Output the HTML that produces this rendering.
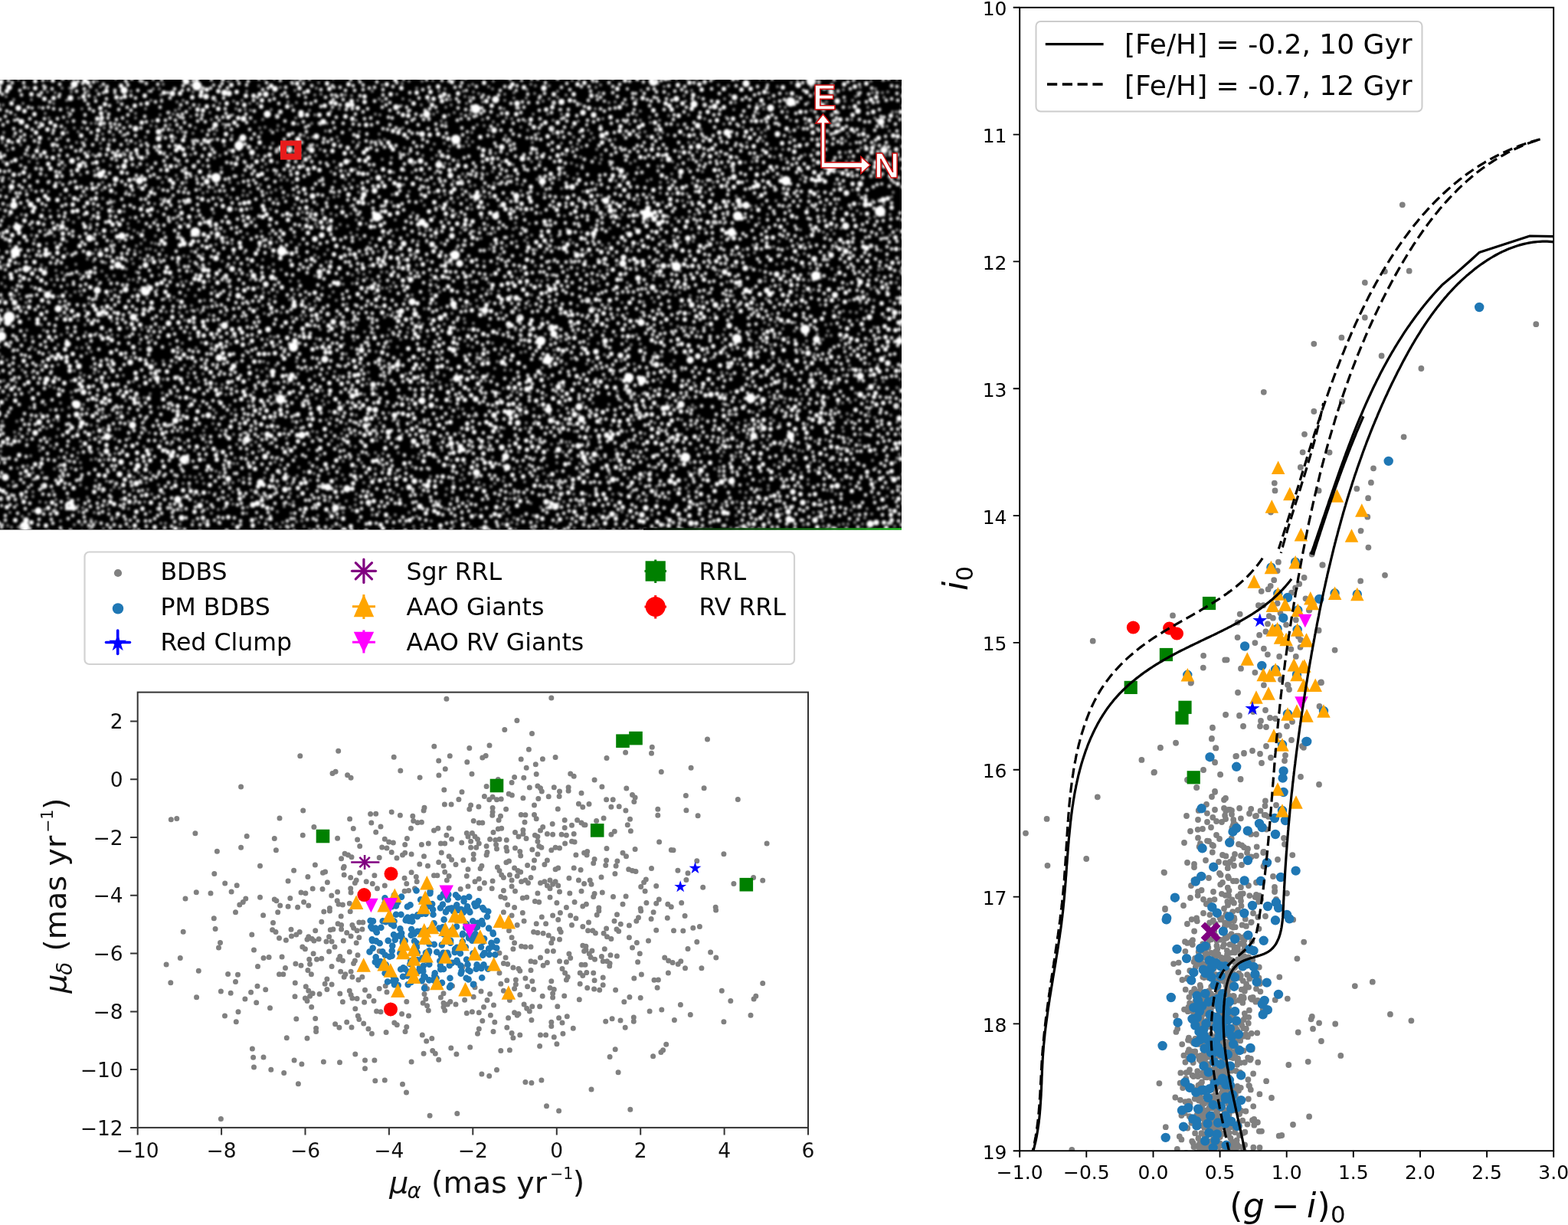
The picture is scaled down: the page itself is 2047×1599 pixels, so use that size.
<!DOCTYPE html>
<html><head><meta charset="utf-8"><title>figure</title>
<style>html,body{margin:0;padding:0;background:#fff;overflow:hidden}svg{display:block}</style>
</head><body>
<svg width="2047" height="1599" viewBox="0 0 2047 1599" font-family="DejaVu Sans, Liberation Sans, sans-serif">
<defs><filter id="sb" x="-2%" y="-2%" width="104%" height="104%"><feGaussianBlur stdDeviation="1.4"/></filter><clipPath id="sfc"><rect x="0" y="104" width="1177" height="587.5"/></clipPath></defs>
<rect x="0" y="104" width="1177" height="587.5" fill="#000"/>
<g clip-path="url(#sfc)" filter="url(#sb)" stroke-linecap="round" fill="none">
<path stroke="#8c8c8c" stroke-width="3.8" d="M266 631h0M940 602h0M291 162h0M1120 121h0M786 320h0M865 264h0M94 519h0M312 627h0M962 177h0M105 627h0M705 211h0M709 132h0M1100 558h0M583 638h0M301 381h0M78 238h0M519 453h0M255 167h0M558 340h0M248 500h0M583 503h0M208 339h0M98 381h0M93 497h0M367 352h0M323 662h0M66 582h0M281 380h0M920 299h0M650 654h0M1138 671h0M833 219h0M790 280h0M1022 344h0M1017 468h0M708 480h0M63 250h0M107 454h0M501 471h0M193 639h0M609 135h0M207 245h0M1156 203h0M893 163h0M726 643h0M133 272h0M633 411h0M356 187h0M435 381h0M514 643h0M166 159h0M238 172h0M50 192h0M252 680h0M34 395h0M754 227h0M40 595h0M502 230h0M259 498h0M470 218h0M710 534h0M439 625h0M176 378h0M260 137h0M250 354h0M1018 553h0M10 268h0M970 326h0M736 655h0M637 305h0M883 325h0M537 551h0M536 508h0M888 303h0M90 532h0M324 346h0M571 597h0M875 458h0M1123 567h0M76 549h0M198 444h0M191 325h0M1018 372h0M64 181h0M499 132h0M413 115h0M38 416h0M533 201h0M485 233h0M975 571h0M249 481h0M150 378h0M778 114h0M436 211h0M203 308h0M564 487h0M427 678h0M206 276h0M453 397h0M449 449h0M804 438h0M1117 126h0M628 311h0M785 208h0M190 562h0M468 594h0M659 450h0M712 436h0M174 365h0M675 240h0M140 659h0M296 255h0M91 115h0M842 617h0M729 579h0M359 515h0M665 669h0M538 225h0M418 594h0M551 685h0M859 175h0M862 238h0M962 401h0M1143 611h0M1086 482h0M326 135h0M280 363h0M1139 601h0M299 196h0M682 362h0M544 655h0M749 555h0M784 691h0M981 650h0M673 431h0M3 186h0M196 514h0M487 331h0M69 641h0M461 235h0M290 341h0M1059 144h0M770 647h0M518 300h0M305 567h0M1018 603h0M848 335h0M354 143h0M725 590h0M486 311h0M887 606h0M361 557h0M703 174h0M71 308h0M126 118h0M202 266h0M1103 132h0M1055 632h0M660 177h0M361 684h0M782 373h0M349 443h0M1111 666h0M-1 462h0M177 154h0M828 234h0M395 417h0M282 615h0M740 676h0M404 691h0M978 663h0M739 577h0M459 454h0M366 607h0M612 190h0M888 354h0M665 575h0M1055 655h0M513 691h0M261 619h0M360 477h0M643 448h0M43 626h0M989 219h0M1035 566h0M229 144h0M539 278h0M87 349h0M741 635h0M1175 495h0M379 644h0M526 129h0M188 550h0M1036 608h0M702 253h0M741 596h0M304 220h0M149 360h0M619 479h0M910 393h0M430 387h0M274 191h0M241 578h0M97 167h0M447 620h0M131 326h0M1095 391h0M851 389h0M197 164h0M1124 193h0M713 516h0M680 353h0M832 578h0M652 269h0M671 612h0M992 353h0M167 292h0M827 548h0M560 132h0M1074 443h0M468 680h0M59 300h0M192 389h0M-2 336h0M894 438h0M789 432h0M395 212h0M1055 134h0M302 440h0M621 219h0M179 218h0M1050 331h0M407 161h0M1146 476h0M814 298h0M982 377h0M247 636h0M285 665h0M878 693h0M446 580h0M437 237h0M57 431h0M814 321h0M962 682h0M898 264h0M1128 169h0M857 635h0M73 652h0M637 468h0M102 562h0M132 194h0M1076 127h0M1107 307h0M524 463h0M448 602h0M637 488h0M513 308h0M24 104h0M51 582h0M562 622h0M496 552h0M1015 521h0M407 274h0M20 150h0M649 472h0M840 596h0M248 435h0M439 414h0M730 234h0M1152 304h0M1025 140h0M1069 668h0M784 111h0M357 549h0M1028 292h0M904 529h0M129 570h0M1085 300h0M580 187h0M508 539h0M1159 637h0M351 349h0M35 574h0M785 255h0M899 150h0M430 654h0M39 532h0M574 381h0M252 120h0M901 604h0M687 650h0M727 604h0M1002 280h0M10 404h0M1076 204h0M1080 306h0M956 298h0M843 587h0M740 299h0M287 636h0M503 496h0M411 491h0M411 393h0M614 243h0M465 542h0M249 111h0M491 459h0M305 204h0M457 210h0M446 363h0M329 206h0M681 674h0M1014 425h0M871 526h0M572 365h0M1152 351h0M733 246h0M995 267h0M126 365h0M457 599h0M323 255h0M234 142h0M1131 406h0M1154 127h0M607 380h0M646 631h0M944 527h0M13 669h0M651 380h0M595 680h0M991 291h0M694 211h0M921 251h0M85 325h0M492 515h0M177 148h0M771 419h0M87 591h0M551 106h0M160 177h0M183 456h0M496 150h0M70 196h0M495 175h0M113 449h0M747 166h0M1047 637h0M632 164h0M1053 102h0M12 281h0M74 570h0M1049 450h0M187 301h0M4 137h0M204 287h0M532 362h0M248 341h0M289 507h0M458 269h0M203 318h0M185 189h0M425 171h0M1013 262h0M673 691h0M907 611h0M335 193h0M617 110h0M903 118h0M20 266h0M1021 671h0M865 428h0M386 558h0M276 670h0M7 374h0M427 487h0M1091 359h0M115 119h0M569 396h0M100 454h0M1081 519h0M581 116h0M1093 500h0M931 659h0M631 392h0M1030 405h0M267 392h0M123 487h0M208 359h0M527 685h0M427 203h0M1058 604h0M93 512h0M249 152h0M877 234h0M1112 542h0M951 112h0M104 358h0M734 529h0M769 348h0M576 158h0M961 663h0M1049 685h0M22 550h0M630 363h0M395 299h0M870 560h0M168 664h0M858 620h0M70 135h0M1027 691h0M230 229h0M265 332h0M158 652h0M609 261h0M1037 690h0M903 299h0M225 429h0M235 684h0M563 384h0M992 628h0M658 559h0M947 635h0M1043 588h0M188 519h0M499 208h0M171 466h0M281 395h0M365 228h0M1129 676h0M671 676h0M380 670h0M399 389h0M146 437h0M970 166h0M876 423h0M828 475h0M178 321h0M671 121h0M271 664h0M524 138h0M710 618h0M779 433h0M1138 531h0M340 241h0M182 379h0M919 657h0M53 540h0M920 276h0M107 186h0M849 160h0M381 632h0M836 449h0M196 325h0M772 364h0M361 260h0M325 495h0M492 575h0M1104 184h0M115 534h0M171 119h0M564 207h0M535 131h0M174 640h0M387 519h0M634 497h0M659 123h0M303 318h0M768 576h0M388 621h0M744 313h0M77 300h0M458 279h0M289 219h0M135 559h0M87 315h0M614 688h0M644 178h0M990 258h0M859 217h0M668 230h0M1172 363h0M526 167h0M460 666h0M323 305h0M829 298h0M516 287h0M117 574h0M1137 377h0M86 192h0M550 137h0M57 380h0M293 190h0M657 670h0M694 385h0M1132 524h0M790 494h0M659 483h0M43 326h0M928 468h0M143 542h0M486 672h0M82 220h0M602 149h0M569 310h0M198 645h0M301 449h0M690 393h0M722 174h0M381 414h0M376 255h0M376 500h0M601 627h0M352 579h0M563 195h0M458 304h0M770 502h0M793 352h0M185 558h0M1095 414h0M928 690h0M1154 281h0M859 572h0M541 353h0M256 230h0M1098 692h0M882 219h0M1171 598h0M293 302h0M1078 594h0M213 110h0M858 654h0M855 461h0M729 536h0M992 103h0M142 365h0M253 646h0M138 343h0M1049 348h0M369 682h0M41 453h0M945 162h0M337 203h0M589 496h0M362 381h0M53 477h0M395 285h0M639 325h0M1062 378h0M954 308h0M900 283h0M818 563h0M293 544h0M872 238h0M1000 347h0M190 179h0M215 390h0M1050 467h0M1101 585h0M411 150h0M617 533h0M1144 307h0M251 562h0M196 617h0M1110 632h0M239 131h0M352 323h0M1132 508h0M1163 542h0M759 303h0M779 195h0M464 221h0M457 169h0M893 125h0M367 529h0M1042 611h0M1027 122h0M754 399h0M812 395h0M80 437h0M757 616h0M419 123h0M701 234h0M571 488h0M802 600h0M759 192h0M750 563h0M904 239h0M506 438h0M1040 386h0M241 477h0M1053 445h0M169 572h0M88 412h0M794 418h0M308 273h0M491 557h0M961 673h0M771 570h0M1091 645h0M435 103h0M207 532h0M917 224h0M16 376h0M885 215h0M309 580h0M1053 579h0M-1 232h0M870 326h0M448 371h0M680 249h0M1056 317h0M666 184h0M465 645h0M76 560h0M1093 590h0M925 508h0M59 528h0M119 459h0M228 206h0M1117 513h0M674 297h0M125 627h0M1082 387h0M130 305h0M1027 471h0M136 167h0M29 483h0M454 421h0M1133 140h0M1090 124h0M686 459h0M282 311h0M770 183h0M1072 494h0M605 191h0M1175 354h0M126 300h0M308 142h0M939 353h0M1109 477h0M939 204h0M789 667h0M1129 566h0M258 404h0M1006 531h0M1118 408h0M625 122h0M1003 639h0M377 622h0M79 680h0M64 154h0M1003 121h0M706 662h0M43 642h0M1037 432h0M103 668h0M716 621h0M344 382h0M762 353h0M424 332h0M683 279h0M301 258h0M614 397h0M76 275h0M1045 400h0M751 661h0M363 597h0M261 530h0M613 127h0M871 693h0M954 512h0M1028 324h0M276 285h0M45 313h0M638 113h0M653 332h0M609 400h0M404 144h0M373 102h0M588 130h0M111 424h0M539 215h0M803 133h0M100 186h0M1013 194h0M678 405h0M1174 593h0M955 553h0M481 594h0M608 339h0M680 460h0M386 191h0M360 227h0M942 309h0M1163 623h0M1121 254h0M611 180h0M240 334h0M804 587h0M25 344h0M255 386h0M244 407h0M1092 266h0M717 112h0M213 495h0M256 454h0M198 587h0M72 121h0M957 386h0M249 289h0M88 141h0M278 245h0M1113 586h0M88 173h0M189 655h0M460 359h0M877 294h0M1074 680h0M528 517h0M33 622h0M353 170h0M76 609h0M1165 479h0M1064 614h0M824 589h0M74 360h0M754 350h0M1016 441h0M630 133h0M1000 390h0M479 501h0M1166 251h0M534 527h0M1121 497h0M382 550h0M1109 392h0M632 341h0M440 179h0M514 225h0M450 626h0M1004 424h0M954 489h0M1150 327h0M432 564h0M669 511h0M699 112h0M412 292h0M534 669h0M693 657h0M783 354h0M482 635h0M566 149h0M237 666h0M338 589h0M1106 371h0M953 124h0M328 581h0M837 572h0M598 455h0M1091 317h0M350 474h0M924 383h0M652 693h0M647 200h0M170 284h0M246 487h0M146 302h0M570 203h0M1147 352h0M747 192h0M327 365h0M90 152h0M920 591h0M297 420h0M18 130h0M798 555h0M346 166h0M68 336h0M574 463h0M437 485h0M270 655h0M809 690h0M1158 648h0M1080 640h0M409 322h0M-2 487h0M490 149h0M686 158h0M861 157h0M606 416h0M107 142h0M677 648h0M212 238h0M287 617h0M504 530h0M105 633h0M598 258h0M421 510h0M177 187h0M924 315h0M421 376h0M779 241h0M455 468h0M119 555h0M73 353h0M573 119h0M81 115h0M894 398h0M570 531h0M390 610h0M766 583h0M469 172h0M243 238h0M282 319h0M451 223h0M352 391h0M370 258h0M414 190h0M784 599h0M1141 427h0M620 624h0M241 622h0M175 255h0M129 485h0M525 638h0M207 633h0M977 289h0M1008 410h0M939 610h0M71 506h0M1010 231h0M23 611h0M452 462h0M265 216h0M289 649h0M791 324h0M40 548h0M282 539h0M387 681h0M327 251h0M442 572h0M553 390h0M584 263h0M58 665h0M496 605h0M1077 615h0M117 692h0M243 172h0M701 681h0M502 414h0M612 430h0M669 308h0M697 534h0M421 523h0M644 159h0M501 540h0M674 253h0M1176 325h0M389 378h0M514 369h0M48 207h0M1126 349h0M491 570h0M862 373h0M465 193h0M1018 139h0M719 308h0M870 676h0M106 385h0M256 283h0M699 550h0M757 605h0M41 130h0M611 654h0M274 147h0M395 277h0M43 617h0M251 183h0M455 428h0M423 420h0M465 157h0M675 684h0M507 453h0M945 590h0M781 685h0M87 601h0M443 142h0M884 139h0M922 691h0M648 532h0M1123 395h0M726 399h0M374 572h0M182 504h0M538 583h0M235 244h0M567 240h0M846 288h0M840 394h0M194 119h0M321 458h0M1119 275h0M675 363h0M739 475h0M225 170h0M1010 322h0M862 252h0M278 553h0M932 326h0M659 131h0M1142 469h0M910 181h0M1070 357h0M735 219h0M237 368h0M1021 588h0M988 572h0M65 275h0M616 173h0M119 479h0M685 629h0M829 210h0M127 106h0M585 197h0M238 448h0M136 600h0M90 240h0M372 560h0M1048 589h0M590 544h0M554 227h0M499 111h0M189 313h0M745 339h0M367 235h0M134 539h0M514 531h0M998 421h0M464 652h0M1065 500h0M906 500h0M239 649h0M1155 465h0M162 611h0M652 462h0M944 554h0M664 662h0M2 370h0M1112 656h0M37 115h0M696 149h0M489 383h0M452 553h0M310 605h0M1101 563h0M670 452h0M658 623h0M123 669h0M909 292h0M156 560h0M973 212h0M822 162h0M609 299h0M439 281h0M999 367h0M714 318h0M671 644h0M260 349h0M528 193h0M933 612h0M71 372h0M79 526h0M703 529h0M72 317h0M126 435h0M1011 133h0M305 132h0M429 618h0M146 675h0M565 105h0M500 592h0M818 691h0M522 199h0M769 658h0M36 566h0M181 289h0M35 431h0M324 524h0M128 586h0M727 682h0M1089 496h0M700 326h0M82 400h0M956 456h0M839 514h0M210 683h0M999 362h0M81 356h0M255 655h0M627 636h0M371 231h0M544 533h0M231 133h0M433 575h0M1095 685h0M686 559h0M837 407h0M675 512h0M390 367h0M508 430h0M1166 650h0M750 689h0M436 257h0M133 248h0M52 588h0M273 367h0M1142 375h0M709 686h0M398 200h0M460 370h0M427 291h0M238 564h0M59 286h0M800 334h0M951 537h0M865 173h0M1169 210h0M774 526h0M386 596h0M54 346h0M1006 580h0M768 170h0M960 333h0M961 348h0M229 180h0M623 400h0M982 211h0M932 487h0M386 154h0M342 218h0M230 284h0M548 636h0M853 365h0M685 314h0M723 545h0M985 330h0M898 317h0M1047 521h0M887 382h0M1178 114h0M1119 418h0M1078 574h0M1124 403h0M249 520h0M728 127h0M580 490h0M366 114h0M210 260h0M1099 626h0M636 227h0M936 507h0M439 219h0M350 233h0M643 116h0M577 588h0M872 176h0M265 488h0M246 335h0M568 226h0M742 101h0M124 127h0M687 372h0M28 206h0M859 495h0M322 507h0M483 355h0M199 158h0M547 299h0M331 512h0M28 280h0M1116 104h0M711 329h0M358 525h0M899 616h0M1070 602h0M546 315h0M831 150h0M304 658h0M9 470h0M264 653h0M609 185h0M428 259h0M564 500h0M657 628h0M296 367h0M465 287h0M329 649h0M796 298h0M49 213h0M915 209h0M60 350h0M614 149h0M334 677h0M228 572h0M131 187h0M729 179h0M582 646h0M890 483h0M145 380h0M1004 128h0M281 644h0M1098 444h0M586 150h0M1091 297h0M773 273h0M746 468h0M1020 208h0M1153 498h0M1056 366h0M210 504h0M370 169h0M1155 414h0M949 368h0M1123 114h0M943 447h0M345 409h0M1117 522h0M539 596h0M689 170h0M28 650h0M879 308h0M951 406h0M39 335h0M19 564h0M283 170h0M586 607h0M52 655h0M725 323h0M1101 490h0M754 188h0M662 678h0M142 493h0M795 318h0M818 304h0M1088 140h0M213 471h0M912 127h0M1098 272h0M91 449h0M863 381h0M1078 672h0M1005 518h0M1040 126h0M151 560h0M946 430h0M265 252h0M302 652h0M345 192h0M609 348h0M836 157h0M529 660h0M25 384h0M465 424h0M836 145h0M804 236h0M461 185h0M434 687h0M942 317h0M943 393h0M780 482h0M749 645h0M494 328h0M77 597h0M421 279h0M850 234h0M5 244h0M488 435h0M103 284h0M300 529h0M109 528h0M1049 380h0M601 304h0M978 554h0M617 185h0M262 408h0M16 417h0M686 532h0M130 591h0M623 493h0M233 346h0M561 521h0M491 507h0M649 344h0M832 651h0M554 268h0M113 461h0M302 540h0M1085 438h0M317 255h0M964 552h0M723 457h0M183 329h0M641 359h0M467 364h0M1126 315h0M1075 687h0M271 583h0M334 577h0M1161 171h0M322 418h0M963 206h0M273 411h0M397 177h0M362 212h0M878 601h0M1122 575h0M35 491h0M319 330h0M81 535h0M899 633h0M211 177h0M307 535h0M715 149h0M1052 161h0M111 405h0M1041 318h0M450 561h0M1006 450h0M1165 403h0M358 372h0M196 668h0M960 376h0M620 507h0M304 642h0M1169 603h0M384 384h0M368 202h0M459 125h0M607 421h0M777 206h0M554 403h0M604 227h0M335 483h0M241 418h0M88 159h0M637 379h0M525 109h0M1107 548h0M527 241h0M1054 554h0M812 668h0M169 688h0M994 203h0M1106 174h0M945 292h0M820 624h0M318 565h0M102 591h0M541 338h0M891 262h0M546 598h0M961 256h0M126 539h0M1075 282h0M768 449h0M910 559h0M593 147h0M41 178h0M611 451h0M898 220h0M327 144h0M962 655h0M1171 506h0M292 664h0M563 680h0M1011 607h0M505 355h0M997 625h0M1050 373h0M987 434h0M456 240h0M609 591h0M413 442h0M266 682h0M806 411h0M475 630h0M905 315h0M385 103h0M552 423h0M134 259h0M789 463h0M1059 114h0M308 504h0M356 334h0M973 650h0M343 339h0M603 247h0M1022 252h0M12 233h0M328 466h0M804 494h0M1082 329h0M0 595h0M791 181h0M223 201h0M473 285h0M141 449h0M442 184h0M670 299h0M1107 684h0M1067 675h0M38 671h0M650 151h0M975 153h0M316 202h0M184 318h0M596 488h0M105 487h0M906 186h0M1086 351h0M343 399h0M462 444h0M1159 120h0M305 331h0M819 369h0M149 636h0M734 553h0M464 568h0M148 176h0M163 360h0M403 587h0M203 475h0M131 113h0M88 331h0M105 576h0M720 580h0M234 408h0M426 548h0M1003 677h0M454 295h0M887 198h0M661 154h0M509 676h0M452 654h0M842 172h0M1124 279h0M1108 579h0M356 123h0M125 599h0M520 646h0M290 502h0M415 673h0M638 425h0M336 346h0M1022 195h0M494 546h0M85 360h0M917 394h0M237 457h0M877 529h0M137 510h0M139 434h0M385 267h0M511 206h0M97 484h0M402 180h0M582 140h0M1142 545h0M362 450h0M5 283h0M152 676h0M102 660h0M718 541h0M1028 146h0M250 405h0M897 560h0M580 572h0M711 253h0M1040 378h0M966 687h0M587 191h0M285 258h0M657 608h0M955 566h0M287 424h0M307 598h0M441 676h0M897 253h0M951 529h0M61 318h0M605 429h0M980 269h0M980 349h0M222 163h0M249 202h0M618 120h0M947 218h0M165 351h0M728 119h0M97 685h0M501 612h0M432 341h0M210 124h0M881 639h0M1 248h0M574 654h0M117 299h0M209 150h0M833 266h0M700 574h0M779 586h0M325 449h0M1042 333h0M211 130h0M376 594h0M76 476h0M637 267h0M1006 374h0M1130 484h0M876 613h0M209 232h0M175 301h0M77 209h0M666 651h0M743 622h0M746 213h0M181 244h0M522 613h0M708 243h0M142 665h0M857 640h0M966 642h0M895 427h0M211 416h0M772 396h0M149 263h0M628 665h0M1171 300h0M1101 323h0M662 259h0M735 590h0M364 634h0M1017 530h0M60 656h0M1143 101h0M243 367h0M418 430h0M999 178h0M869 517h0M567 188h0M336 439h0M1037 586h0M280 206h0M547 593h0M1068 250h0M599 186h0M223 259h0M973 464h0M490 612h0M349 651h0M354 251h0M363 164h0M207 349h0M182 437h0M309 473h0M513 408h0M658 142h0M619 302h0M749 179h0M1012 420h0M318 624h0M1175 566h0M154 438h0M736 504h0M516 672h0M655 211h0M1085 423h0M178 355h0M175 657h0M910 198h0M845 236h0M246 378h0M557 316h0M946 129h0M601 608h0M893 592h0M967 446h0M1126 684h0M89 147h0M662 201h0M468 693h0M956 541h0M312 183h0M303 177h0M933 410h0M161 167h0M985 391h0M613 253h0M1177 534h0M993 138h0M960 134h0M478 292h0M296 310h0M298 106h0M328 640h0M1132 664h0M891 284h0M294 167h0M393 203h0M378 391h0M592 236h0M948 461h0M639 394h0M996 184h0M549 433h0M214 304h0M62 120h0M715 587h0M994 173h0M842 566h0M927 415h0M693 110h0M465 609h0M1122 266h0M722 414h0M720 627h0M232 172h0M960 596h0M380 316h0M354 311h0M343 454h0M1117 553h0M559 506h0M1014 391h0M843 353h0M532 307h0M589 137h0M922 423h0M720 359h0M279 278h0M271 401h0M561 379h0M1116 682h0M971 257h0M1142 154h0M763 271h0M282 501h0M780 367h0M819 409h0M594 103h0M661 321h0M974 390h0M1025 520h0M343 377h0M855 552h0M435 657h0M1139 121h0M595 279h0M746 350h0M1168 687h0M144 216h0M146 569h0M572 579h0M432 546h0M831 130h0M695 186h0M484 187h0M559 439h0M596 324h0M587 532h0M489 625h0M612 112h0M550 646h0M971 489h0M174 498h0M414 610h0M762 658h0M266 562h0M640 257h0M988 136h0M10 686h0M85 216h0M7 352h0M467 299h0M278 182h0M1062 196h0M443 611h0M729 657h0M599 283h0M895 132h0M375 631h0M581 664h0M255 623h0M882 285h0M809 285h0M408 563h0M909 586h0M1081 432h0M21 499h0M1023 404h0M125 681h0M150 573h0M190 142h0M864 209h0M516 618h0M373 517h0M1112 156h0M1009 467h0M349 222h0M167 188h0M348 678h0M105 228h0M1055 478h0M280 175h0M708 611h0M705 572h0M235 575h0M390 335h0M544 346h0M637 294h0M974 643h0M1135 285h0M772 333h0M1108 205h0M979 504h0M127 556h0M1141 392h0M51 140h0M393 549h0M29 674h0M956 408h0M389 488h0M227 388h0M571 146h0M387 134h0M819 673h0M296 348h0M383 255h0M41 374h0M818 488h0M556 301h0M899 642h0M1094 527h0M79 412h0M385 118h0M818 137h0M739 124h0M706 401h0M439 556h0M200 116h0M732 445h0M603 620h0M72 665h0M182 448h0M1102 454h0M108 663h0M976 632h0M1029 441h0M30 135h0M715 365h0M819 227h0M1142 501h0M317 229h0M996 297h0M1024 507h0M1165 146h0M447 270h0M673 354h0M65 504h0M1139 262h0M576 317h0M574 257h0M1015 113h0M775 180h0M1062 669h0M598 431h0M547 102h0M1006 546h0M995 430h0M321 694h0M490 591h0M261 247h0M448 243h0M382 238h0M439 426h0M271 250h0M607 605h0M116 396h0M1022 429h0M217 231h0M1025 495h0M482 347h0M616 273h0M375 235h0M541 331h0M167 539h0M604 534h0M630 377h0M532 434h0M670 215h0M614 588h0M873 283h0M432 224h0M304 684h0M929 635h0M1055 626h0M646 303h0M276 156h0M915 169h0M-3 514h0M144 261h0M682 241h0M8 126h0M527 339h0M949 487h0M694 307h0M732 473h0M444 686h0M1170 184h0M584 416h0M229 275h0M714 455h0M745 175h0M475 478h0M930 430h0M473 333h0M1180 590h0M567 251h0M225 362h0M66 535h0M338 682h0M254 570h0M421 646h0M199 246h0M859 109h0M981 274h0M1137 209h0M412 203h0M667 483h0M56 274h0M824 450h0M1026 207h0M912 304h0M907 617h0M794 398h0M590 409h0M495 183h0M371 661h0M1086 325h0M702 622h0M423 528h0M917 481h0M580 423h0M830 588h0M182 570h0M55 617h0M27 189h0M102 652h0M21 443h0M845 178h0M27 390h0M1045 234h0M569 372h0M994 527h0M1101 406h0M112 255h0M898 463h0M325 532h0M517 573h0M560 416h0M1110 407h0M581 339h0M24 688h0M668 155h0M341 302h0M92 386h0M499 376h0M102 172h0M132 341h0M800 645h0M17 629h0M999 170h0M22 284h0M629 284h0M1159 222h0M498 355h0M931 238h0M166 428h0M607 484h0M914 621h0M320 143h0M861 309h0M122 273h0M552 203h0M119 678h0M1104 613h0M774 472h0M46 456h0M1024 525h0M200 504h0M699 347h0M629 226h0M59 148h0M875 384h0M1135 475h0M848 254h0M389 648h0M413 520h0M405 627h0M287 135h0M689 317h0M208 116h0M1116 672h0M457 582h0M719 443h0M1126 691h0M13 250h0M267 600h0M1007 455h0M932 244h0M886 519h0M1093 606h0M729 308h0M139 360h0M241 588h0M139 628h0M367 408h0M520 591h0M129 649h0M138 145h0M1135 543h0M466 307h0M199 471h0M750 329h0M164 523h0M263 447h0M766 475h0M106 611h0M468 356h0M991 285h0M361 316h0M907 280h0M1064 576h0M1111 272h0M587 214h0M797 601h0M1065 242h0M424 517h0M1078 424h0M761 526h0M250 328h0M692 399h0M353 687h0M323 359h0M618 543h0M760 216h0M877 227h0M921 662h0M414 267h0M1108 178h0M781 448h0M1032 179h0M423 448h0M389 162h0M-3 476h0M1095 349h0M590 502h0M273 344h0M230 517h0M343 156h0M679 616h0M294 411h0M683 216h0M787 155h0M282 132h0M747 105h0M442 540h0M1010 549h0M29 295h0M1022 475h0M185 430h0M302 103h0M482 495h0M510 374h0M15 688h0M38 512h0M483 623h0M26 227h0M1049 181h0M254 588h0M708 416h0M449 529h0M448 428h0M274 224h0M680 166h0M911 637h0M651 563h0M534 106h0M1055 694h0M534 250h0M42 298h0M475 358h0M734 257h0M581 213h0M717 129h0M836 692h0M801 310h0M623 486h0M663 458h0M847 348h0M161 199h0M411 449h0M125 326h0M1137 106h0M1164 257h0M345 262h0M890 548h0M349 491h0M1109 140h0M1143 116h0M1089 491h0M195 565h0M893 176h0M122 564h0M486 119h0M205 378h0M491 224h0M362 668h0M198 317h0M696 673h0M89 650h0M235 361h0M1083 364h0M726 628h0M137 392h0M1142 283h0M674 315h0M761 250h0M1143 629h0M767 623h0M226 149h0M698 598h0M426 342h0M901 386h0M1067 513h0M71 585h0M1041 567h0M890 567h0M1031 172h0M87 131h0M733 149h0M414 324h0M497 571h0M1107 572h0M967 596h0M353 273h0M977 333h0M842 454h0M1162 280h0M279 535h0M385 309h0M18 178h0M382 272h0M1180 612h0M900 409h0M156 315h0M187 268h0M1024 422h0M88 434h0M5 102h0M62 104h0M581 254h0M1054 272h0M618 629h0M481 266h0M837 118h0M811 471h0M900 519h0M823 213h0M54 424h0M781 595h0M522 694h0M944 571h0M644 492h0M317 310h0M135 210h0M598 313h0M509 380h0M106 583h0M432 279h0M306 343h0M768 694h0M353 439h0M144 335h0M252 174h0M510 445h0M654 408h0M212 326h0M677 590h0M1108 483h0M13 321h0M878 253h0M96 290h0M119 600h0M145 640h0M146 419h0M863 499h0M1077 268h0M824 328h0M1048 229h0M208 427h0M723 271h0M383 655h0M1113 131h0M751 435h0M590 345h0M546 468h0M592 264h0M525 567h0M598 533h0M42 486h0M166 341h0M308 357h0M630 245h0M706 278h0M1075 303h0M358 440h0M582 160h0M476 433h0M216 683h0M901 428h0M835 173h0M85 168h0M1014 345h0M1046 617h0M179 411h0M1102 636h0M232 234h0M538 609h0M269 557h0M518 327h0M334 559h0M943 658h0M230 473h0M346 617h0M135 690h0M948 153h0M598 210h0M483 426h0M416 108h0M592 396h0M1136 359h0M590 651h0M337 375h0M129 371h0M772 174h0M172 338h0M609 646h0M966 524h0M119 161h0M284 589h0M830 349h0M618 422h0M147 628h0M5 173h0M467 131h0M854 394h0M188 583h0M737 282h0M1107 606h0M888 316h0M495 129h0M1162 307h0M829 484h0M746 599h0M988 398h0M638 577h0M332 286h0M304 630h0M895 626h0M873 651h0M428 326h0M1004 694h0M1020 230h0M79 254h0M1028 270h0M148 276h0M239 631h0M544 674h0M641 635h0M469 186h0M679 609h0M908 689h0M34 249h0M1098 544h0M359 387h0M544 115h0M870 368h0M416 336h0M468 251h0M620 242h0M852 610h0M975 606h0M3 390h0M429 525h0M533 428h0M1074 506h0M244 536h0M975 236h0M785 202h0M122 331h0M345 624h0M404 570h0M1102 417h0M150 592h0M1102 244h0M805 672h0M112 434h0M1175 439h0M1018 619h0M250 399h0M222 449h0M859 530h0M576 402h0M339 167h0M946 410h0M644 106h0M102 418h0M646 481h0M954 689h0M666 644h0M401 484h0M464 583h0M1135 444h0M15 694h0M1045 514h0M1079 438h0M439 392h0M217 334h0M592 189h0M1038 421h0M180 304h0M836 631h0M515 318h0M1082 339h0M1154 560h0M60 229h0M300 610h0M446 566h0M404 397h0M31 401h0M942 595h0M1069 128h0M410 618h0M873 151h0M660 614h0M175 623h0M1000 103h0M792 623h0M681 694h0M1027 311h0M161 490h0M957 634h0M741 352h0M795 528h0M727 615h0M1048 386h0M803 182h0M143 183h0M11 516h0M540 687h0M1020 451h0M32 271h0M1053 309h0M574 269h0M191 427h0M873 123h0M362 170h0M849 507h0M165 250h0M673 291h0M1 589h0M722 157h0M1143 496h0M911 388h0M939 621h0M33 444h0M768 442h0M1106 540h0M181 617h0M96 586h0M698 122h0M506 411h0M899 208h0M950 350h0M973 549h0M707 367h0M217 407h0M983 538h0M729 515h0M1170 369h0M156 637h0M107 167h0M168 298h0M336 135h0M710 542h0M379 367h0M1004 512h0M745 685h0M11 634h0M920 155h0M688 117h0M414 564h0M734 481h0M300 238h0M864 315h0M963 475h0M723 341h0M1101 684h0M552 526h0M1013 622h0M530 611h0M5 497h0M248 622h0M231 548h0M204 165h0M25 478h0M122 341h0M1004 471h0M76 450h0M555 446h0M622 392h0M1158 165h0M848 153h0M1006 194h0M671 639h0M1149 441h0M1045 300h0M67 365h0M195 340h0M741 582h0M860 340h0M185 621h0M322 670h0M439 298h0M883 340h0M837 654h0M348 252h0M691 292h0M920 463h0M992 536h0M466 280h0M811 523h0M235 215h0M1079 133h0M607 126h0M1115 614h0M1094 399h0M391 319h0M1110 525h0M546 500h0M192 215h0M101 598h0M242 386h0M257 629h0M0 273h0M1105 466h0M5 346h0M89 287h0M1056 256h0M870 320h0M121 202h0M789 692h0M627 689h0M1062 216h0M-1 453h0M659 232h0M1086 610h0M878 211h0M733 463h0M1029 355h0M961 591h0M756 541h0M587 518h0M1134 538h0M103 128h0M470 312h0M889 400h0M80 663h0M796 619h0M567 283h0M451 234h0M1121 436h0M267 568h0M323 593h0M12 296h0M427 161h0M1171 551h0M341 173h0M958 143h0M328 272h0M984 206h0M1144 593h0M311 239h0M684 451h0M397 687h0M851 672h0M273 643h0M656 684h0M994 578h0M687 128h0M1121 693h0M277 375h0M1147 360h0M643 224h0M795 134h0M625 630h0M1105 211h0M711 490h0M501 308h0M66 380h0M502 182h0M86 381h0M831 437h0M949 678h0M512 254h0M338 112h0M443 491h0M606 625h0M908 532h0M223 580h0M64 460h0M632 633h0M318 249h0M748 317h0M451 124h0M20 570h0M1178 341h0M979 525h0M162 276h0M1041 105h0M520 549h0M692 512h0M652 430h0M348 481h0M264 171h0M735 316h0M714 608h0M791 270h0M990 148h0M733 187h0M638 170h0M269 577h0M769 606h0M41 307h0M993 563h0M812 280h0M402 289h0M808 644h0M587 272h0M352 509h0M592 630h0M444 293h0M107 685h0M411 124h0M164 440h0M652 513h0M25 566h0M134 175h0M899 532h0M411 333h0M88 372h0M962 575h0M262 569h0M1132 384h0M191 630h0M485 222h0M561 564h0M37 203h0M154 133h0M112 182h0M22 659h0M761 506h0M1051 532h0M864 465h0M641 319h0M882 385h0M419 415h0M849 357h0M214 644h0M1171 104h0M917 237h0M556 480h0M885 426h0M804 245h0M8 521h0M1088 406h0M739 202h0M638 369h0M755 158h0M617 453h0M764 425h0M376 133h0M76 387h0M360 248h0M432 145h0M1058 350h0M41 248h0M1068 482h0M481 486h0M574 499h0M806 511h0M680 333h0M772 297h0M168 550h0M621 672h0M134 238h0M486 365h0M6 362h0M210 576h0M772 383h0M990 168h0M303 417h0M885 163h0M513 549h0M418 195h0M569 497h0M232 392h0M777 403h0M1002 574h0M592 687h0M326 619h0M856 170h0M10 196h0M212 513h0M479 363h0M615 267h0M988 453h0M246 192h0M538 316h0M822 429h0M529 391h0M118 293h0M42 440h0M38 211h0M305 605h0M983 320h0M1115 349h0M113 637h0M650 686h0M180 368h0M713 628h0M384 501h0M104 380h0M765 330h0M282 240h0M741 230h0M282 560h0M1158 339h0M603 297h0M1045 456h0M810 495h0M133 354h0M393 412h0M607 445h0M151 252h0M626 298h0M805 346h0M93 611h0M442 256h0M342 566h0M118 101h0M445 635h0M342 485h0M1162 393h0M880 471h0M1104 199h0M503 576h0M981 445h0M630 156h0M241 292h0M401 638h0M394 680h0M358 500h0M168 365h0M667 500h0M623 462h0M599 544h0M99 345h0M110 490h0M91 255h0M844 599h0M443 658h0M589 601h0M1113 248h0M200 492h0M1141 649h0M430 537h0M379 434h0M407 515h0M222 392h0M758 205h0M687 552h0M414 571h0M397 616h0M1049 319h0M650 163h0M1042 166h0M1086 641h0M988 448h0M633 584h0M523 443h0M783 213h0M71 612h0M836 415h0M724 463h0M538 385h0M936 317h0M981 492h0M1080 139h0M57 401h0M463 204h0M758 136h0M1100 526h0M158 538h0M818 445h0M351 382h0M1101 117h0M253 478h0M654 663h0M744 577h0M944 437h0M276 449h0M899 186h0M608 231h0M942 486h0M39 228h0M1063 462h0M584 480h0M359 603h0M43 648h0M720 502h0M921 241h0M641 383h0M876 476h0M829 522h0M948 562h0M1089 305h0M264 624h0M116 198h0M530 488h0M366 688h0M987 269h0M604 400h0M70 548h0M980 432h0M833 318h0M235 690h0M114 649h0M655 454h0M982 514h0M993 639h0M231 291h0M1154 267h0M813 236h0M338 646h0M1051 202h0M743 448h0M636 285h0M495 668h0M311 419h0M322 119h0M414 296h0M632 470h0M197 438h0M643 597h0M1039 600h0M688 310h0M123 223h0M496 401h0M1095 224h0M645 239h0M518 123h0M399 412h0M650 240h0M168 615h0M782 121h0M483 317h0M457 662h0M520 556h0M176 327h0M1071 398h0M550 262h0M1071 363h0M1033 108h0M1123 581h0M344 472h0M174 344h0M668 682h0M909 273h0M749 233h0M657 507h0M85 259h0M973 621h0M392 448h0M119 286h0M183 337h0M476 515h0M605 119h0M472 604h0M687 612h0M316 131h0M1143 692h0M197 131h0M430 669h0M467 243h0M763 680h0M917 547h0M796 496h0M496 367h0M141 386h0M814 176h0M964 564h0M840 622h0M896 637h0M936 358h0M997 142h0M245 492h0M412 399h0M357 345h0M605 613h0M511 264h0M701 366h0M866 442h0M671 128h0M1176 635h0M408 179h0M1144 230h0M716 494h0M367 245h0M3 466h0M464 659h0M765 645h0M1022 583h0M597 694h0M381 138h0M439 635h0M1011 205h0M304 150h0M555 236h0M3 550h0M248 141h0M562 366h0M680 541h0M826 322h0M146 270h0M628 255h0M333 159h0M1142 189h0M1003 634h0M298 631h0M686 402h0M146 315h0M1152 121h0M1019 664h0M1017 315h0M912 543h0M784 552h0M191 205h0M1110 188h0M505 376h0M289 562h0M79 180h0M36 608h0M203 327h0M494 595h0M617 368h0M61 559h0M799 653h0M411 360h0M258 325h0M1171 152h0M448 669h0M105 604h0M582 286h0M107 693h0M134 412h0M620 262h0M298 647h0M387 472h0M418 213h0M376 585h0M336 403h0M404 604h0M463 615h0M834 517h0M1170 146h0M375 190h0M938 111h0M114 338h0M1056 357h0M980 102h0M1067 436h0M358 562h0M328 574h0M1058 381h0M352 305h0M777 142h0M136 564h0M509 625h0M4 211h0M347 214h0M782 672h0M600 565h0M633 257h0M295 515h0M548 552h0M193 372h0M1098 298h0M65 573h0M93 120h0M181 520h0M1032 157h0M1031 257h0M911 433h0M1000 667h0M260 646h0M570 299h0M824 643h0M610 375h0M547 421h0M834 261h0M125 161h0M611 683h0M287 203h0M1091 533h0M43 667h0M588 524h0M623 163h0M183 184h0M1066 346h0M457 327h0M281 250h0M482 101h0M914 569h0M153 546h0M844 647h0M622 472h0M829 275h0M441 582h0M563 359h0M215 199h0M229 628h0M948 515h0M753 216h0M1090 240h0M975 186h0M867 113h0M378 658h0M19 386h0"/>
<path stroke="#dcdcdc" stroke-width="4.8" d="M391 462h0M705 373h0M218 516h0M793 358h0M1111 592h0M110 270h0M1046 250h0M822 498h0M383 144h0M399 401h0M547 361h0M226 400h0M150 398h0M1008 150h0M854 127h0M1015 688h0M643 298h0M1106 156h0M321 644h0M531 563h0M1066 455h0M3 336h0M331 604h0M727 596h0M206 110h0M357 265h0M175 461h0M561 142h0M299 233h0M349 612h0M327 154h0M305 403h0M288 407h0M989 205h0M210 560h0M1017 610h0M244 134h0M896 502h0M728 672h0M748 632h0M203 566h0M291 243h0M807 665h0M209 140h0M8 644h0M245 595h0M1140 134h0M481 451h0M196 680h0M238 118h0M431 171h0M597 157h0M391 196h0M98 433h0M1042 578h0M29 548h0M141 265h0M1058 424h0M389 479h0M444 597h0M608 250h0M8 543h0M1035 321h0M100 472h0M570 547h0M923 395h0M321 599h0M906 176h0M52 639h0M340 534h0M404 205h0M899 375h0M1172 451h0M1024 544h0M561 554h0M629 233h0M302 508h0M1113 230h0M829 503h0M852 189h0M864 553h0M1039 522h0M836 603h0M1101 140h0M593 441h0M77 215h0M1046 312h0M23 156h0M207 300h0M1034 337h0M1179 657h0M139 469h0M894 554h0M559 168h0M487 263h0M730 651h0M49 487h0M1158 507h0M770 544h0M406 135h0M512 392h0M993 615h0M816 579h0M554 307h0M126 530h0M1068 283h0M1143 443h0M955 172h0M1022 308h0M584 566h0M564 342h0M625 193h0M768 558h0M757 376h0M1120 688h0M975 691h0M795 257h0M222 128h0M392 665h0M809 230h0M512 608h0M540 186h0M365 310h0M396 312h0M918 184h0M602 407h0M562 649h0M910 659h0M111 564h0M430 480h0M1033 505h0M134 668h0M1153 104h0M954 195h0M177 177h0M145 403h0M499 439h0M504 129h0M38 561h0M653 118h0M1099 181h0M248 164h0M878 242h0M306 413h0M1113 212h0M806 383h0M1131 210h0M387 205h0M247 583h0M448 492h0M1152 636h0M452 143h0M843 635h0M810 613h0M607 280h0M576 532h0M290 289h0M940 143h0M453 569h0M1157 584h0M822 198h0M358 423h0M343 117h0M885 532h0M575 507h0M595 355h0M58 507h0M1152 410h0M204 623h0M416 635h0M53 334h0M141 616h0M502 192h0M54 121h0M852 258h0M913 380h0M1041 256h0M956 524h0M771 630h0M1149 693h0M259 315h0M-2 431h0M129 670h0M346 330h0M79 689h0M176 332h0M392 513h0M1140 225h0M406 346h0M539 639h0M509 403h0M542 646h0M189 152h0M491 321h0M776 348h0M196 230h0M959 487h0M285 417h0M1004 393h0M1016 643h0M296 446h0M1007 502h0M1096 199h0M474 117h0M183 349h0M1039 148h0M143 226h0M689 123h0M502 661h0M448 130h0M917 678h0M166 140h0M1112 507h0M1130 256h0M116 654h0M577 468h0M7 679h0M352 131h0M541 665h0M673 568h0M631 219h0M996 196h0M1012 450h0M21 600h0M470 533h0M574 198h0M79 143h0M235 382h0M1077 288h0M401 318h0M39 393h0M71 601h0M332 223h0M876 162h0M377 463h0M820 295h0M111 657h0M1069 579h0M667 470h0M1066 526h0M532 256h0M645 323h0M15 411h0M904 267h0M771 119h0M840 290h0M160 372h0M870 194h0M716 189h0M299 163h0M525 333h0M12 598h0M919 342h0M425 127h0M578 672h0M879 682h0M806 626h0M4 511h0M954 134h0M671 495h0M325 479h0M193 200h0M414 468h0M292 324h0M1083 506h0M867 143h0M493 427h0M667 135h0M488 526h0M61 407h0M246 252h0M314 568h0M272 262h0M667 589h0M873 112h0M604 176h0M142 600h0M661 240h0M733 348h0M725 257h0M906 629h0M1173 232h0M315 344h0M138 527h0M480 142h0M138 544h0M294 617h0M102 106h0M687 671h0M428 185h0M1065 488h0M530 289h0M1173 343h0M333 567h0M695 643h0M613 575h0M510 322h0M28 374h0M74 580h0M677 449h0M115 522h0M387 329h0M421 255h0M1001 317h0M642 377h0M597 527h0M895 481h0M1132 550h0M559 575h0M195 353h0M1103 359h0M870 270h0M770 536h0M253 137h0M1095 570h0M94 333h0M550 612h0M869 482h0M297 115h0M67 635h0M490 473h0M79 196h0M967 395h0M692 162h0M60 370h0M191 109h0M228 301h0M870 162h0M153 491h0M463 413h0M528 594h0M538 174h0M532 403h0M18 647h0M781 384h0M1129 583h0M414 416h0M871 290h0M1112 424h0M1002 335h0M304 247h0M342 606h0M1127 430h0M753 320h0M115 418h0M321 149h0M866 360h0M1158 322h0M1133 692h0M671 276h0M761 178h0M392 373h0M173 215h0M741 374h0M172 310h0M61 577h0M810 532h0M231 621h0M28 514h0M151 283h0M316 357h0M411 425h0M317 534h0M290 365h0M725 291h0M694 103h0M699 687h0M859 594h0M882 611h0M75 340h0M1150 534h0M783 630h0M87 403h0M334 455h0M56 462h0M480 642h0M514 355h0M679 391h0M566 540h0M351 244h0M863 694h0M270 614h0M594 114h0M668 317h0M676 573h0M10 579h0M699 220h0M1136 490h0M109 250h0M447 642h0M826 148h0M1097 662h0M1126 381h0M614 294h0M707 163h0M804 199h0M775 310h0M446 124h0M148 553h0M164 421h0M241 348h0M963 620h0M420 385h0M553 456h0M474 495h0M641 674h0M1052 232h0M684 202h0M742 689h0M270 462h0M487 562h0M1075 607h0M547 128h0M1171 113h0M566 453h0M838 314h0M1122 549h0M53 450h0M903 535h0M709 666h0M586 665h0M1077 586h0M881 119h0M654 569h0M178 229h0M221 555h0M68 116h0M391 294h0M124 350h0M1020 625h0M927 212h0M14 147h0M317 670h0M1115 287h0M422 241h0M601 391h0M410 264h0M17 438h0M203 213h0M130 601h0M333 503h0M912 452h0M988 210h0M844 258h0M885 310h0M743 441h0M1025 278h0M278 476h0M317 442h0M313 352h0M756 519h0M551 589h0M584 582h0M1049 667h0M514 682h0M714 406h0M143 515h0M1145 550h0M971 562h0M1131 133h0M299 336h0M707 601h0M391 272h0M548 523h0M1067 153h0M939 222h0M713 382h0M300 637h0M654 170h0M248 442h0M351 462h0M753 151h0M1044 665h0M887 595h0M255 329h0M62 592h0M136 654h0M401 517h0M164 467h0M33 464h0M579 218h0M1139 407h0M26 118h0M1018 648h0M237 286h0M1157 347h0M494 449h0M478 184h0M876 445h0M909 642h0M58 155h0M353 605h0M456 512h0M444 114h0M470 107h0M527 274h0M219 249h0M1109 447h0M153 337h0M285 331h0M1050 214h0M544 191h0M85 631h0M672 559h0M509 163h0M81 269h0M1110 330h0M1097 338h0M553 356h0M1168 396h0M953 650h0M696 463h0M1086 111h0M664 340h0M906 160h0M77 203h0M531 160h0M947 626h0M852 312h0M581 319h0M56 585h0M867 663h0M902 549h0M1129 474h0M667 237h0M713 274h0M274 532h0M259 459h0M641 341h0M330 393h0M575 225h0M693 577h0M507 595h0M484 154h0M141 476h0M590 682h0M657 416h0M307 548h0M290 109h0M1089 104h0M761 609h0M630 211h0M562 300h0M845 677h0M1019 203h0M915 440h0M4 566h0M1016 558h0M985 554h0M183 105h0M520 361h0M264 204h0M355 408h0M122 145h0M-1 506h0M1129 183h0M1015 227h0M448 390h0M931 177h0M707 347h0M902 540h0M138 231h0M88 644h0M381 204h0M999 457h0M532 553h0M627 404h0M753 469h0M612 667h0M338 282h0M287 249h0M29 570h0M51 186h0M703 389h0M1017 163h0M971 602h0M73 659h0M48 385h0M391 439h0M266 514h0M258 184h0M792 478h0M128 220h0M254 523h0M909 511h0M1148 143h0M573 426h0M824 543h0M974 308h0M397 471h0M297 473h0M863 421h0M319 579h0M630 652h0M825 659h0M39 243h0M685 236h0M407 112h0M749 255h0M789 145h0M606 576h0M185 565h0M978 139h0M759 113h0M92 692h0M943 227h0M111 160h0M763 208h0M1059 489h0M402 547h0M846 382h0M694 469h0M956 625h0M1129 159h0M661 101h0M1082 686h0M1000 489h0M757 447h0M451 596h0M230 328h0M358 102h0M675 532h0M498 655h0M685 287h0M1055 684h0M717 387h0M1018 397h0M128 268h0M503 625h0M981 411h0M301 489h0M1130 442h0M822 340h0M942 663h0M392 176h0M804 471h0M1138 303h0M149 408h0M576 347h0M1039 340h0M618 128h0M789 363h0M553 369h0M107 541h0M314 585h0M945 615h0M271 680h0M981 169h0M941 344h0M0 498h0M311 639h0M197 427h0M143 647h0M746 426h0M864 602h0M890 117h0M518 527h0M306 230h0M446 468h0M827 595h0M486 409h0M525 424h0M1132 248h0M827 381h0M711 694h0M925 196h0M382 174h0M241 691h0M664 439h0M1135 159h0M1049 553h0M42 573h0M889 678h0M704 428h0M489 132h0M680 273h0M431 373h0M1159 376h0M-1 422h0M179 201h0M1036 263h0M105 373h0M1163 360h0M532 386h0M162 322h0M517 398h0M796 142h0M865 217h0M797 403h0M313 553h0M787 660h0M62 433h0M450 333h0M1089 365h0M628 387h0M1158 311h0M762 446h0M947 443h0M32 540h0M460 315h0M976 494h0M575 692h0M1042 242h0M1146 428h0M191 607h0M843 653h0M900 257h0M520 383h0M677 157h0M482 115h0M527 103h0M617 583h0M923 620h0M792 426h0M1121 176h0M231 163h0M1096 215h0M701 206h0M631 271h0M547 414h0M1060 268h0M1056 334h0M1176 208h0M838 377h0M595 515h0M419 614h0M502 336h0M664 378h0M614 132h0M1028 648h0M781 504h0M766 359h0M145 321h0M729 281h0M987 423h0M209 433h0M281 457h0M193 190h0M362 628h0M840 254h0M964 359h0M693 559h0M594 221h0M655 339h0M383 660h0M448 573h0M711 576h0M226 536h0M202 575h0M1134 515h0M264 241h0M216 157h0M233 210h0M561 584h0M460 310h0M1165 642h0M944 535h0M1058 294h0M659 310h0M1054 168h0M167 174h0M886 289h0M1016 409h0M963 454h0M743 490h0M333 550h0M222 478h0M425 569h0M140 314h0M288 383h0M191 624h0M218 205h0M577 459h0M254 555h0M906 108h0M1164 325h0M366 105h0M404 496h0M401 278h0M200 556h0M183 543h0M986 504h0M166 196h0M764 664h0M1033 398h0M214 263h0M1015 511h0M265 232h0M940 290h0M753 240h0M1081 215h0M1136 568h0M684 140h0M77 508h0M32 114h0M721 196h0M799 212h0M798 283h0M841 122h0M534 263h0M318 408h0M444 589h0M303 265h0M796 183h0M969 663h0M765 370h0M666 190h0M1134 366h0M657 252h0M748 582h0M730 324h0M232 595h0M1177 685h0M969 335h0M545 320h0M288 513h0M981 574h0M1058 538h0M753 611h0M550 151h0M503 448h0M899 648h0M256 359h0M1135 309h0M180 392h0M260 593h0M384 693h0M917 506h0M459 245h0M10 159h0M235 270h0M432 471h0M680 147h0M128 509h0M831 226h0M536 487h0M476 155h0M1062 209h0M305 462h0M32 554h0M8 415h0M275 295h0M608 369h0M276 462h0M957 223h0M386 211h0M712 221h0M401 356h0M208 332h0M734 397h0M509 234h0M653 141h0M73 224h0M1132 221h0M1019 578h0M1044 496h0M554 551h0M712 108h0M171 605h0M1179 551h0M917 686h0M437 586h0M172 634h0M904 129h0M848 634h0M43 474h0M225 184h0M804 684h0M978 537h0M893 432h0M1010 125h0M600 513h0M859 545h0M570 169h0M649 502h0M159 331h0M230 217h0M914 417h0M937 589h0M858 282h0M652 290h0M348 573h0M1060 182h0M417 391h0M471 675h0M1103 342h0M210 406h0M220 527h0M25 528h0M1147 568h0M945 621h0M707 336h0M767 592h0M1157 601h0M193 223h0M1095 377h0M224 471h0M-1 342h0M823 351h0M15 496h0M679 528h0M408 608h0M902 358h0M820 381h0M347 313h0M1072 659h0M153 422h0M829 158h0M974 502h0M823 244h0M774 369h0M286 623h0M979 246h0M25 242h0M1166 513h0M953 583h0M169 533h0M860 606h0M675 521h0M240 262h0M600 442h0M568 628h0M168 565h0M232 665h0M751 204h0M187 395h0M601 113h0M197 487h0M47 477h0M797 563h0M1072 469h0M794 613h0M482 458h0M399 135h0M1114 599h0M268 159h0M137 487h0M44 493h0M392 385h0M518 633h0M1166 303h0M475 366h0M831 419h0M270 430h0M291 153h0M415 372h0M1078 656h0M485 646h0M170 268h0M725 392h0M700 397h0M635 663h0M235 607h0M806 158h0M463 118h0M399 653h0M239 373h0M1179 381h0M12 452h0M831 403h0M967 590h0M859 347h0M310 286h0M1098 645h0M724 372h0M822 611h0M722 509h0M13 487h0M1025 501h0M919 324h0M559 641h0M1173 476h0M586 623h0M728 342h0M1132 290h0M3 430h0M755 430h0M765 671h0M146 391h0M186 281h0M476 308h0M107 620h0M615 228h0M695 621h0M276 104h0M923 455h0M169 408h0M286 682h0M877 131h0M577 432h0M838 191h0M963 583h0M175 547h0M1100 482h0M94 357h0M373 524h0M1029 220h0M689 222h0M108 212h0M318 630h0M324 236h0M339 540h0M502 641h0M309 618h0M954 437h0M45 184h0M807 422h0M371 221h0M1094 185h0M89 576h0M835 539h0M976 363h0M1101 236h0M118 113h0M1010 276h0M1004 297h0M371 182h0M691 518h0M980 220h0M908 372h0M143 242h0M99 330h0M943 399h0M735 355h0M650 261h0M309 297h0M289 261h0M989 466h0M657 437h0M430 515h0M282 299h0M454 261h0M436 492h0M439 684h0M705 126h0M950 238h0M368 464h0M929 377h0M116 618h0M28 463h0M817 209h0M551 692h0M774 509h0M163 553h0M157 687h0M762 685h0M520 539h0M329 428h0M658 658h0M718 321h0M244 210h0M346 321h0M712 566h0M1036 207h0M517 167h0M473 239h0M95 308h0M1026 575h0M832 255h0M206 294h0M271 209h0M324 604h0M1070 574h0M216 310h0M1154 576h0M144 282h0M126 522h0M220 147h0M512 349h0M661 347h0M988 485h0M478 617h0M672 626h0M471 576h0M366 446h0M119 590h0M417 161h0M679 561h0M1151 368h0M1158 483h0M115 136h0M82 568h0M1079 185h0M907 603h0M392 345h0M51 166h0M209 658h0M150 386h0M528 214h0M356 301h0M851 687h0M23 413h0M500 168h0M1080 691h0M530 440h0M1115 661h0M633 299h0M71 646h0M511 579h0M275 577h0M759 462h0M647 605h0M1068 464h0M390 124h0M440 448h0M487 243h0M189 366h0M965 331h0M879 156h0M1098 651h0M904 169h0M196 531h0M605 320h0M89 183h0M596 129h0M590 391h0M733 114h0M322 111h0M111 200h0M475 609h0M617 558h0M1128 608h0M806 126h0M652 216h0M233 305h0M6 203h0M853 206h0M1037 252h0M199 416h0M1119 379h0M271 510h0M856 691h0M419 575h0M157 510h0M907 405h0M956 616h0M577 545h0M289 398h0M828 260h0M853 497h0M171 144h0M750 501h0M898 348h0M782 316h0M966 611h0M627 510h0M1111 624h0M384 303h0M916 257h0M846 430h0M83 365h0M1086 164h0M800 113h0M478 326h0M1172 285h0M590 241h0M637 177h0M33 664h0M153 416h0M387 416h0M50 124h0M616 319h0M313 266h0M166 307h0M1149 342h0M1137 626h0M334 365h0M753 358h0M457 332h0M947 201h0M607 465h0M201 228h0M24 333h0M878 276h0M756 295h0M561 352h0M530 618h0M501 557h0M1014 666h0M734 510h0M390 501h0M403 527h0M422 186h0M1141 272h0M807 317h0M196 496h0M1040 158h0M575 237h0M883 359h0M709 462h0M124 475h0M631 524h0M1032 583h0M397 102h0M616 443h0M919 379h0M465 552h0M484 338h0M370 481h0M972 178h0M860 164h0M994 554h0M677 492h0M1001 188h0M1172 640h0M382 686h0M1070 448h0M279 545h0M269 593h0M742 660h0M1134 391h0M310 206h0M1152 227h0M407 412h0M1157 493h0M875 322h0M948 379h0M495 387h0M854 432h0M350 115h0M782 405h0M747 384h0M685 479h0M711 122h0M1096 673h0M194 575h0M603 167h0M241 433h0M337 326h0M793 576h0M307 486h0M740 329h0M1076 383h0M990 517h0M313 188h0M926 333h0M734 201h0M432 250h0M481 415h0M194 463h0M650 538h0M1012 294h0M318 370h0M295 200h0M926 368h0M540 431h0M467 440h0M860 559h0M186 376h0M1116 357h0M971 672h0M704 144h0M1119 169h0M386 493h0M871 594h0M949 694h0M119 173h0M506 366h0M1037 170h0M322 394h0M152 168h0M934 462h0M850 428h0M1068 159h0M359 573h0M942 185h0M631 565h0M500 117h0M583 683h0M912 574h0M1150 605h0M441 477h0M277 195h0M854 487h0M655 221h0M472 389h0M621 230h0M616 647h0M580 249h0M124 613h0M302 169h0M791 380h0M817 528h0M840 529h0M1116 325h0M492 196h0M1096 614h0M102 261h0M179 579h0M795 630h0M655 148h0M310 164h0M527 397h0M456 593h0M20 652h0M179 418h0M1109 379h0M895 365h0M560 612h0M377 209h0M143 138h0M916 530h0M494 373h0M695 407h0M582 165h0M81 230h0M109 669h0M1149 539h0M1034 482h0M185 483h0M969 679h0M767 157h0M848 138h0M618 603h0M944 279h0M0 143h0M423 364h0M319 211h0M688 328h0M173 436h0M129 456h0M505 681h0M848 413h0M236 558h0M162 642h0M18 457h0M1113 304h0M939 403h0M753 270h0M638 571h0M638 587h0M1176 523h0M173 387h0M892 519h0M30 609h0M439 153h0M669 369h0M1032 521h0M588 658h0M1084 576h0M287 353h0M27 179h0M440 548h0M705 355h0M945 285h0M897 102h0M338 103h0M626 553h0M214 294h0M589 259h0M1089 224h0M1062 636h0M768 412h0M920 332h0M1140 637h0M675 141h0M485 397h0M27 265h0M744 117h0M228 116h0M1017 497h0M798 202h0M157 482h0M1104 664h0M1069 170h0M1107 521h0M130 577h0M735 379h0M487 272h0M380 428h0M469 525h0M1001 262h0M1091 217h0M265 543h0M1086 150h0M702 510h0M193 172h0M646 644h0M811 562h0M862 628h0M347 684h0M786 284h0M1092 473h0M836 565h0M152 156h0M629 599h0M191 687h0M292 475h0M951 399h0M263 469h0M26 352h0M538 522h0M150 118h0M860 404h0M526 373h0M1164 112h0M283 436h0M714 359h0M419 347h0M985 311h0M361 198h0M739 239h0M1041 372h0M180 680h0M184 167h0M576 290h0M817 357h0M544 232h0M158 189h0M161 663h0M1128 416h0M216 164h0M52 494h0M596 617h0M619 152h0M1026 539h0M77 495h0M34 642h0M470 125h0M980 610h0M1145 165h0M731 564h0M492 638h0M217 564h0M152 631h0M613 485h0M1051 324h0M733 662h0M783 235h0M894 586h0M630 450h0M970 476h0M504 329h0M752 652h0M813 593h0M361 643h0M660 642h0M288 298h0M4 484h0M310 259h0M78 110h0M622 339h0M87 445h0M49 237h0M757 387h0M69 291h0M997 672h0M769 687h0M592 209h0M555 532h0M356 378h0M929 132h0M167 111h0M700 195h0M1169 567h0M455 228h0M1025 596h0M1062 365h0M1130 646h0M692 617h0M964 164h0M461 439h0M122 504h0M414 641h0M918 129h0M427 316h0M375 579h0M1164 224h0M258 158h0M263 188h0M638 127h0M783 229h0M881 177h0M889 513h0M1011 401h0M1115 391h0M853 342h0M1049 409h0M985 200h0M252 105h0M1071 264h0M228 505h0M865 644h0M802 173h0M334 239h0M1115 458h0M102 442h0M640 416h0M424 197h0M222 368h0M960 449h0M880 497h0M928 668h0M971 145h0M1137 432h0M1024 354h0M159 260h0M1009 382h0M937 230h0M124 229h0M1038 634h0M351 397h0M520 147h0M854 116h0M419 539h0M873 347h0M110 675h0M915 634h0M577 164h0M480 376h0M482 215h0M247 631h0M323 438h0M826 439h0M827 171h0M750 482h0M599 231h0M26 360h0M239 543h0M90 305h0M553 244h0M385 584h0M356 621h0M582 334h0M767 317h0M970 305h0M263 155h0M612 204h0M152 585h0M196 281h0M599 133h0M190 671h0M1157 539h0M780 326h0M778 478h0M531 140h0M122 282h0M1085 175h0M1024 287h0M289 225h0M1075 550h0M1045 128h0M736 179h0M396 558h0M180 535h0M843 435h0M899 497h0M862 245h0M987 374h0M121 189h0M919 201h0M37 327h0M167 150h0M498 284h0M375 407h0M16 108h0M782 653h0M739 367h0M663 519h0M419 407h0M34 342h0M292 622h0M1069 391h0M552 537h0M812 632h0M951 465h0M750 132h0M632 456h0M216 635h0M1177 557h0M358 129h0M202 677h0M1103 670h0M157 172h0M253 421h0M498 481h0M810 484h0M400 262h0M194 432h0M519 407h0M473 503h0M659 467h0M718 268h0M1152 165h0M441 496h0M953 161h0M919 218h0M870 381h0M599 661h0M380 228h0M28 124h0M739 436h0M627 327h0M396 349h0M718 246h0M443 526h0M287 113h0M1040 299h0M323 217h0M127 516h0M675 112h0M1029 531h0M128 278h0M162 476h0M292 380h0M544 557h0M912 594h0M922 304h0M489 296h0M1171 171h0M319 540h0M1120 340h0M563 308h0M302 550h0M586 291h0M973 520h0M659 361h0M539 656h0M873 393h0M648 410h0M296 405h0M179 600h0M735 615h0M930 304h0M164 505h0M821 575h0M499 140h0M203 133h0M742 485h0M1153 663h0M463 260h0M951 248h0M63 140h0M267 290h0M17 474h0M517 584h0M661 223h0M741 361h0M447 462h0M1159 617h0M558 569h0M80 588h0M80 655h0M237 482h0M1077 559h0M431 692h0M838 225h0M110 379h0M34 408h0M666 633h0M552 490h0M1057 344h0M270 527h0M969 238h0M608 143h0M727 441h0M702 134h0M915 287h0M397 625h0M145 166h0M1076 625h0M1145 121h0M112 371h0M139 202h0M829 623h0M259 439h0M998 245h0M418 549h0M1178 191h0M328 312h0M502 291h0M1147 664h0M317 663h0M865 203h0M791 452h0M404 103h0M25 508h0M193 334h0M485 288h0M946 686h0M1013 595h0M375 330h0M927 591h0M285 675h0M587 592h0M1084 541h0M357 354h0M317 464h0M1130 671h0M865 411h0M1032 366h0M1133 205h0M639 537h0M1097 511h0M702 406h0M940 271h0M395 594h0M241 400h0M863 105h0M147 535h0M704 216h0M952 233h0M159 531h0M276 613h0M776 319h0M801 290h0M383 601h0M513 113h0M847 608h0M734 518h0M334 295h0M302 182h0M62 543h0M419 117h0M32 176h0M66 671h0M334 387h0M1042 269h0M245 467h0M470 474h0M251 307h0M861 319h0M908 480h0M165 684h0M521 518h0M337 246h0M3 236h0M1162 296h0M436 667h0M853 517h0M0 256h0M893 652h0M663 434h0M1074 155h0M149 183h0M478 399h0M1069 107h0M1005 569h0M376 607h0M732 637h0M217 272h0M68 444h0M197 626h0M746 460h0M154 502h0M771 598h0M7 312h0M317 282h0M294 142h0M279 441h0M918 564h0M127 293h0M335 426h0M401 329h0M286 489h0M316 611h0M882 432h0M1079 261h0M50 514h0M832 190h0M558 185h0M606 206h0M591 508h0M112 217h0M791 547h0M1085 674h0M498 269h0M981 638h0M281 628h0M887 205h0M433 124h0M817 402h0M979 200h0M680 444h0M204 385h0M801 433h0M1118 581h0M799 189h0M1040 542h0M269 314h0M335 598h0M1120 678h0M290 454h0M886 688h0M864 476h0M848 520h0M214 531h0M997 657h0M13 659h0M705 231h0M635 647h0M220 533h0M122 685h0M907 492h0M155 448h0M1096 240h0M834 327h0M251 273h0M1142 294h0M399 166h0M1037 620h0M553 633h0M448 414h0M1085 253h0M660 651h0M845 265h0M762 433h0M64 646h0M215 572h0M720 314h0M536 357h0M874 103h0M683 681h0M214 476h0M786 382h0M745 653h0M598 362h0M361 276h0M520 471h0M523 311h0M346 693h0M202 192h0M11 105h0M947 344h0M542 361h0M835 625h0M427 270h0M489 114h0M1146 557h0M1030 564h0M927 158h0M733 694h0M658 329h0M1089 669h0M35 477h0M1172 131h0M824 517h0M1147 506h0M409 677h0M1012 373h0M545 200h0M1043 207h0M1111 345h0M1006 417h0M84 597h0M805 390h0M38 365h0M701 269h0M477 463h0M1008 526h0M1090 540h0M109 361h0M1071 487h0M834 369h0M95 673h0M295 148h0M126 318h0M363 439h0M1077 491h0M901 334h0M820 636h0M469 328h0M1089 285h0M800 415h0M718 288h0M168 393h0M615 658h0M458 533h0M1155 608h0M1125 258h0M687 596h0M1113 281h0M194 406h0M841 399h0M1149 299h0M963 103h0M632 327h0M295 283h0M-2 604h0M794 466h0M841 495h0M850 532h0M618 213h0M348 498h0M785 241h0M592 421h0M911 236h0M1038 191h0M994 158h0M948 243h0M240 104h0M126 182h0M721 490h0M1112 369h0M90 397h0M521 562h0M593 664h0M7 275h0M296 212h0M117 142h0M532 521h0M858 410h0M632 292h0M1037 183h0M985 175h0M828 514h0M423 352h0M171 200h0M768 470h0M95 570h0M280 199h0M826 675h0M1149 518h0M113 554h0M883 246h0M203 423h0M1164 560h0M182 363h0M932 367h0M52 439h0M134 660h0M904 203h0M762 619h0M787 438h0M458 620h0M255 200h0M1110 454h0M1025 484h0M1030 195h0M224 615h0M732 430h0M491 683h0M694 273h0M201 291h0M973 228h0M1143 449h0M1178 244h0M156 576h0M982 301h0M594 567h0M467 417h0M26 252h0M927 439h0M48 333h0M231 445h0M951 643h0M667 285h0M1023 360h0M410 650h0M996 236h0M295 562h0M809 110h0M614 360h0M569 272h0M1076 101h0M93 438h0M748 535h0M675 322h0M90 543h0M813 381h0M561 220h0M1098 475h0M723 650h0M603 327h0M35 196h0M651 124h0M762 489h0M68 522h0M486 421h0M435 160h0M350 523h0M795 514h0M458 347h0M794 330h0M628 621h0M297 317h0M210 541h0M986 237h0M766 190h0M1051 473h0M793 371h0M1027 153h0M4 266h0M294 234h0M727 360h0M122 468h0M1161 215h0M1033 543h0M405 283h0M1018 680h0M506 169h0M736 670h0M147 199h0M980 455h0M214 280h0M784 474h0M1027 626h0M424 653h0M17 194h0M760 326h0M273 170h0M211 267h0M816 314h0M338 179h0M597 578h0M154 197h0M956 347h0M689 490h0M794 658h0M388 244h0M190 242h0M1172 202h0M807 294h0M668 361h0M444 191h0M862 436h0M327 562h0M265 115h0M667 273h0M8 505h0M822 106h0M417 474h0M1005 659h0M1152 452h0M842 692h0M402 350h0M191 440h0M159 136h0M463 562h0M815 274h0M1178 220h0M159 237h0M566 660h0M646 187h0M445 512h0M387 324h0M535 604h0M1126 232h0M238 223h0M293 488h0M1164 491h0M258 239h0M39 690h0M671 346h0M1016 325h0M657 159h0M991 691h0M1164 235h0M682 133h0M552 515h0M773 266h0M1142 587h0M738 291h0M803 275h0M676 419h0M979 130h0M959 393h0M1114 334h0M109 328h0M814 157h0M1084 266h0M623 447h0M1178 287h0M408 576h0M440 126h0M359 394h0M873 643h0M649 435h0M996 569h0M714 342h0M342 309h0M870 303h0M927 674h0M1026 368h0M3 309h0M1021 536h0M336 492h0M161 411h0M603 559h0M63 394h0M170 165h0M394 481h0M560 155h0M506 463h0M591 624h0M239 615h0M827 605h0M901 579h0M678 347h0M133 545h0M807 404h0M929 296h0M153 539h0M327 516h0M37 140h0M276 335h0M570 353h0M380 404h0M842 461h0M1040 225h0M158 128h0M1009 222h0M385 437h0M1123 186h0M737 166h0M238 500h0M42 169h0M1081 114h0M1132 622h0M623 347h0M267 194h0M987 678h0M125 132h0M106 465h0M38 554h0M877 433h0M770 431h0M877 358h0M294 567h0M777 262h0M542 509h0M755 595h0M1035 351h0M216 180h0M563 232h0M944 456h0M405 190h0M707 558h0M955 595h0M882 460h0M1089 453h0M623 608h0M775 685h0M19 493h0M143 172h0M208 616h0M673 204h0M1154 588h0M1163 286h0M236 548h0M52 610h0M42 290h0M499 238h0M803 660h0M650 337h0M520 438h0M1023 246h0M880 150h0M1130 450h0M745 279h0M205 549h0M486 416h0M816 469h0M112 305h0M985 124h0M41 542h0M328 556h0M191 292h0M1031 186h0M720 147h0M774 675h0M1030 601h0M1124 624h0M879 584h0M472 664h0M102 207h0M250 370h0M1005 204h0M909 211h0M1001 159h0M1158 332h0M602 277h0M550 254h0M175 562h0M1002 586h0M1120 197h0M994 403h0M235 519h0M948 655h0M389 279h0M1142 656h0M1174 671h0M927 247h0M428 399h0M817 458h0M36 262h0M672 194h0M539 540h0M309 511h0M162 674h0M154 514h0M914 147h0M190 526h0M546 492h0M740 158h0M896 140h0M313 144h0M642 213h0M1145 289h0M536 333h0M454 499h0M80 343h0M967 189h0M1125 527h0M994 306h0M438 437h0M185 230h0M1054 663h0M1105 498h0M479 562h0M383 219h0M1092 322h0M870 586h0M446 441h0M313 574h0M458 565h0M855 510h0M1059 203h0M1135 462h0M445 551h0M993 491h0M803 253h0M467 344h0M930 501h0M292 531h0M1157 519h0M648 681h0M55 266h0M1175 278h0M818 376h0M850 473h0M586 363h0M484 193h0M767 228h0M756 103h0M847 554h0M555 144h0M968 151h0M680 431h0M901 224h0M908 518h0M1105 690h0M1164 129h0M440 616h0M1123 638h0M603 677h0M271 176h0M130 633h0M622 113h0M817 180h0M338 393h0M618 355h0M732 409h0M221 289h0M367 322h0M1150 312h0M293 631h0M74 182h0M916 582h0M257 610h0M571 622h0M1028 212h0M207 440h0M260 507h0M268 496h0M190 260h0M615 257h0M418 443h0M790 228h0M286 554h0M1078 665h0M-3 327h0M363 266h0M1024 130h0M1056 675h0M1029 306h0M504 137h0M892 577h0M492 672h0M929 116h0M598 141h0M633 239h0M185 647h0M55 599h0M803 542h0M703 611h0M867 492h0M985 252h0M412 132h0M323 338h0M553 578h0M315 657h0M989 338h0M75 155h0M451 342h0M1045 359h0M42 611h0M760 454h0M641 498h0M98 237h0M543 611h0M830 662h0M104 546h0M374 358h0M151 608h0M28 451h0M539 442h0M203 448h0M437 227h0M635 364h0M318 288h0M56 524h0M228 436h0M556 679h0M248 652h0M330 542h0M178 404h0M919 432h0M831 670h0M241 178h0M640 200h0M461 408h0M467 462h0M611 383h0M418 318h0M927 682h0M553 156h0M26 367h0M764 378h0M1001 447h0M790 402h0M1006 357h0M486 665h0M408 467h0M383 420h0M-1 622h0M288 440h0M326 403h0M1051 155h0M278 168h0M1017 268h0M329 437h0M164 241h0M318 237h0M843 196h0M892 213h0M845 499h0M880 314h0M773 211h0M857 355h0M800 102h0M669 441h0M1010 477h0M-2 530h0M1069 113h0M23 670h0M806 517h0M925 340h0M444 137h0M72 425h0M1128 519h0M1137 230h0M39 350h0M894 360h0M127 657h0M448 161h0M302 213h0M503 546h0M904 485h0M51 460h0M1148 616h0M1113 316h0M749 453h0M168 326h0M997 583h0M1000 302h0M385 293h0M800 121h0M551 191h0M626 526h0M1008 103h0M760 282h0M422 495h0M342 349h0M860 194h0M129 241h0M765 532h0M885 450h0M705 634h0M0 200h0M743 605h0M611 635h0M549 628h0M1139 525h0M310 135h0M583 552h0M881 375h0M225 245h0M921 357h0M577 105h0M778 680h0M813 135h0M4 163h0M206 673h0M690 207h0M675 234h0M298 391h0M910 356h0M166 372h0M873 576h0M505 605h0M856 646h0M1086 655h0M54 221h0M21 354h0M320 222h0M910 102h0M738 523h0M146 608h0M31 108h0M1089 248h0M518 108h0M191 159h0M384 625h0M276 383h0M976 325h0M0 348h0M543 567h0M1016 287h0M67 556h0M150 162h0M714 294h0M654 396h0M20 343h0M390 352h0M543 264h0M315 598h0M803 578h0M1 582h0M56 105h0M1053 417h0M897 537h0M89 620h0M718 206h0M934 189h0M1138 115h0M117 492h0M224 650h0M302 514h0M2 288h0M644 694h0M574 442h0M949 339h0M141 154h0M265 524h0M852 406h0M1144 365h0M350 669h0M900 199h0M175 693h0M19 403h0M484 325h0M160 417h0M452 282h0M1018 122h0M1043 536h0M352 260h0M1022 269h0M1076 322h0M928 277h0M680 305h0M1127 359h0M1003 613h0M91 632h0M536 647h0M906 420h0M15 390h0M35 581h0M528 379h0M798 444h0M773 516h0M616 139h0M779 294h0M776 629h0M87 554h0M177 284h0M295 595h0M416 621h0M302 592h0M433 182h0M950 548h0M558 665h0M332 421h0M1052 572h0M472 451h0M312 109h0M440 649h0M618 167h0M51 328h0M971 159h0M143 594h0M21 252h0M171 510h0M860 670h0M444 410h0M1055 509h0M549 234h0M658 182h0M1040 213h0M335 309h0M1008 494h0M278 523h0M844 480h0M253 188h0M457 549h0M98 427h0M787 561h0M99 510h0M1001 115h0M639 620h0M211 670h0M175 271h0M1077 311h0M1173 624h0M238 149h0M184 136h0M913 278h0M242 220h0M258 267h0M1033 314h0M1006 648h0M757 570h0M895 339h0M166 331h0M501 324h0M646 396h0M896 120h0M519 483h0M448 544h0M1005 271h0M117 513h0M532 180h0M220 630h0M275 622h0M491 400h0M413 479h0M517 190h0M915 512h0M790 594h0M27 626h0M1174 430h0M338 499h0M967 226h0M113 540h0M1134 582h0M763 552h0M113 356h0M961 112h0M905 232h0M657 401h0M508 475h0M670 161h0M279 492h0M731 486h0M990 558h0M446 663h0M989 113h0M73 535h0M1131 395h0M1146 133h0M275 321h0M773 239h0M920 609h0M1052 395h0M279 327h0M155 388h0M271 418h0M1101 317h0M977 437h0M100 627h0M933 166h0M657 294h0M937 237h0M152 530h0M1171 337h0M1157 131h0M1122 672h0M612 543h0M626 357h0M1140 401h0M888 375h0M1170 491h0M505 649h0M1073 226h0M204 413h0M820 150h0M794 245h0M1095 466h0M871 253h0M929 576h0M881 237h0M126 386h0M451 508h0M42 508h0M168 448h0M1162 463h0M882 561h0M989 184h0M976 513h0M745 396h0M943 491h0M533 145h0M320 188h0M885 409h0M64 423h0M1088 181h0M139 129h0M499 617h0M718 234h0M695 341h0M132 471h0M27 618h0M584 400h0M404 384h0M77 282h0M1 561h0M448 398h0M742 553h0M272 217h0M275 570h0M199 337h0M100 119h0M1148 213h0M359 657h0M228 681h0M1070 373h0M380 677h0M936 214h0M255 472h0M983 582h0M557 104h0M39 466h0M710 504h0M214 621h0M719 564h0M692 598h0M1007 481h0M815 265h0M780 288h0M373 114h0M116 125h0M412 240h0M1122 355h0M348 108h0M791 302h0M772 437h0M739 270h0M119 260h0M1129 301h0M219 663h0M188 602h0M225 563h0M122 107h0M23 257h0M989 542h0M835 479h0M840 107h0M784 142h0M758 365h0M142 189h0M997 533h0M858 440h0M504 513h0M1029 635h0M643 587h0M965 668h0M571 470h0M1062 596h0M1090 206h0M910 549h0M1078 392h0M397 669h0M372 121h0M553 463h0M669 252h0M527 202h0M752 681h0M59 114h0M511 652h0M342 356h0M992 180h0M857 150h0M114 225h0M1129 330h0M300 374h0M867 120h0M1147 644h0M228 658h0M64 694h0M294 601h0M1071 329h0M549 381h0M552 182h0M268 475h0M937 440h0M369 281h0M86 267h0M827 426h0M955 414h0M328 354h0M693 250h0M261 685h0M798 410h0M509 144h0M370 251h0M950 574h0M447 173h0M852 437h0M992 599h0M597 654h0M443 250h0M177 128h0M501 453h0M534 171h0M466 456h0M669 334h0M407 419h0M1167 414h0M583 130h0M565 407h0M667 170h0M101 398h0M530 233h0M704 544h0M604 657h0M951 263h0M61 624h0M1050 504h0M1114 204h0M116 686h0M911 222h0M122 266h0M618 592h0M2 617h0M659 494h0M538 302h0M455 475h0M906 286h0M871 510h0M651 352h0M1109 419h0M216 216h0M750 292h0M257 150h0M883 660h0M967 197h0M96 371h0M605 569h0M380 186h0M545 174h0M1012 248h0M469 163h0M14 533h0M1110 198h0M727 384h0M569 323h0M1080 474h0M480 441h0M47 160h0M34 281h0M194 265h0M851 302h0M110 439h0M45 532h0M575 569h0M63 600h0M730 228h0M322 273h0M151 102h0M12 477h0M317 389h0M390 251h0M825 687h0M710 646h0M1136 349h0M806 220h0M215 652h0M1037 136h0M440 671h0M571 436h0M1139 561h0M944 505h0M1143 338h0M945 609h0M2 688h0M4 556h0M407 211h0M1063 449h0M649 278h0M232 310h0M922 180h0M525 266h0M695 501h0M144 431h0M739 382h0M829 569h0M890 600h0M255 343h0M1179 619h0M440 457h0M983 498h0M46 404h0M97 603h0M559 469h0M603 518h0M114 168h0M310 659h0M781 156h0M246 117h0M123 418h0M794 675h0M530 680h0M278 259h0M-2 305h0M1160 192h0M265 573h0M930 254h0M58 572h0M276 659h0M1039 457h0M1012 538h0M1084 457h0M1130 542h0M925 405h0M705 155h0M39 657h0M769 113h0M1075 213h0M291 316h0M77 126h0M583 174h0M259 211h0M72 493h0M828 194h0M124 482h0M823 273h0M276 455h0M939 122h0M913 487h0M1076 360h0M826 390h0M509 134h0M919 194h0M591 275h0M1133 148h0M740 109h0M654 198h0M366 512h0M324 568h0M1138 186h0M917 388h0M1143 183h0M94 228h0M213 248h0M817 350h0M405 435h0M27 171h0M715 373h0M915 603h0M803 141h0M430 553h0M796 454h0M435 130h0M609 661h0M343 209h0M766 562h0M256 248h0M135 182h0M219 495h0M71 432h0M470 565h0M121 391h0M779 535h0M346 510h0M1162 666h0M648 548h0M1090 273h0M836 385h0M1152 672h0M894 113h0M646 621h0M285 652h0M361 583h0M1110 116h0M132 683h0M938 494h0M613 463h0M1009 366h0M138 290h0M1064 146h0M1162 519h0M675 602h0M1032 240h0M189 339h0M423 181h0M756 500h0M816 416h0M956 600h0M19 296h0M565 509h0M381 544h0M153 370h0M403 227h0M714 669h0M712 230h0M633 519h0M1169 162h0M396 407h0M414 599h0M1098 593h0M881 197h0M700 447h0M4 304h0M570 522h0M345 644h0M1080 346h0M184 260h0M1046 679h0M801 692h0M1148 190h0M832 281h0M303 498h0M732 543h0M20 515h0M25 576h0M373 656h0M724 569h0M82 290h0M461 162h0M717 350h0M521 344h0M75 190h0M1177 644h0M743 667h0M84 637h0M160 287h0M451 118h0M637 154h0M526 498h0M254 487h0M39 155h0M1109 268h0M673 402h0M157 660h0M826 128h0M1128 458h0M511 497h0M332 175h0M773 482h0M343 255h0M536 197h0M1059 389h0M399 450h0M1093 422h0M322 586h0M634 681h0M973 247h0M734 172h0M584 472h0M597 381h0M516 415h0M355 664h0M981 283h0M578 242h0M361 291h0M111 150h0M259 334h0M1053 514h0M632 250h0M385 197h0M383 247h0M158 381h0M1076 409h0M1049 168h0M7 673h0M817 584h0M1088 211h0M666 103h0M874 401h0M1158 595h0M821 531h0M637 460h0M291 642h0M19 505h0M225 529h0M784 584h0M1026 338h0M50 685h0M411 341h0M454 525h0M773 357h0M1087 559h0M840 644h0M107 316h0M329 457h0M133 499h0M465 337h0M374 490h0M18 168h0M1069 379h0M129 535h0M545 449h0M252 459h0M1132 354h0M415 254h0M842 555h0M800 476h0M781 513h0M770 521h0M836 590h0M775 424h0M264 321h0M1088 158h0M537 622h0M95 302h0M213 401h0M495 661h0M578 577h0M74 416h0M535 568h0M424 592h0M252 194h0M1058 125h0M471 648h0M1123 560h0M93 192h0M372 612h0M1148 262h0M8 257h0M1145 241h0M1151 549h0M1038 308h0M560 114h0M210 222h0M845 130h0M930 312h0M95 144h0M448 433h0M945 576h0M1129 467h0M956 327h0M329 227h0M694 180h0M331 131h0M481 475h0M414 588h0M134 572h0M236 428h0M569 140h0M9 329h0M154 218h0M856 184h0M715 421h0M711 258h0M642 625h0M641 165h0M916 360h0M310 337h0M72 455h0M330 591h0M207 555h0M432 306h0M232 150h0M573 602h0M149 685h0M1161 157h0M260 553h0M61 205h0M134 534h0M41 386h0M212 602h0M326 625h0M506 525h0M861 648h0M951 211h0M923 570h0M183 628h0M1048 694h0M394 263h0M380 281h0M326 169h0M1078 540h0M924 585h0M328 181h0M859 329h0M995 397h0M1046 486h0M1116 490h0M498 188h0M1124 451h0M314 680h0M164 313h0M23 373h0M589 670h0M50 500h0M747 677h0M877 366h0M597 449h0M1122 156h0M897 167h0M32 438h0M558 432h0M106 195h0M996 415h0M510 213h0M813 439h0M34 596h0M46 554h0M336 414h0M1093 234h0M437 569h0M1084 313h0M352 294h0M893 269h0M1147 382h0M1087 188h0M512 154h0M621 439h0M649 576h0M156 163h0M14 447h0M20 174h0M877 411h0M136 309h0M710 636h0M316 471h0M981 676h0M535 121h0M109 590h0M368 124h0M418 489h0M1078 398h0M236 600h0M1029 386h0M66 487h0M451 478h0M396 217h0M177 467h0M63 305h0M-3 437h0M439 357h0M833 198h0M683 601h0M234 353h0M969 579h0M1015 415h0M241 160h0M928 105h0M400 172h0M653 227h0M680 515h0M1042 630h0M168 499h0M263 479h0M65 331h0M554 595h0M584 314h0M324 541h0M795 108h0M700 181h0M339 582h0M650 207h0M479 331h0M236 137h0M128 549h0M955 367h0M214 428h0M747 369h0M1024 398h0M834 442h0M941 324h0M514 467h0M1161 575h0M866 189h0M944 383h0M860 388h0M53 575h0M645 328h0M128 419h0M14 611h0M538 157h0M1029 247h0M119 445h0M612 155h0M999 355h0M190 680h0M81 694h0M99 197h0M29 245h0M171 125h0M190 546h0M710 598h0M1071 346h0M1134 123h0M1133 178h0M612 509h0M632 145h0M660 476h0M864 334h0M738 547h0M811 365h0M522 249h0M1123 483h0M861 508h0M82 510h0M85 613h0M870 232h0M1074 462h0M886 186h0M601 502h0M1121 134h0M537 416h0M1020 518h0M292 607h0M439 270h0M651 298h0M740 456h0M345 102h0M35 387h0M670 175h0M965 373h0M7 152h0M719 294h0M224 637h0M33 334h0M1100 333h0M842 245h0M603 108h0M371 459h0M680 508h0M461 419h0M569 162h0M84 408h0M413 663h0M310 377h0M999 252h0M277 273h0M1088 551h0M884 262h0M1121 373h0M1003 167h0M1038 488h0M813 412h0M548 247h0M814 540h0M145 370h0M891 192h0M461 429h0M169 439h0M1091 484h0M981 158h0M1107 349h0M867 633h0M1178 357h0M492 107h0M59 446h0M363 500h0M633 358h0M428 216h0M434 448h0M96 102h0M359 544h0M931 570h0M507 153h0M70 142h0M674 284h0M558 500h0M1092 154h0M1090 260h0M945 234h0M342 574h0M404 653h0M946 497h0M732 439h0M936 669h0M950 418h0M973 556h0M89 677h0M586 125h0M994 325h0M617 550h0M821 258h0M1004 682h0M543 222h0M1005 597h0M240 251h0M471 550h0M345 530h0M416 650h0M173 400h0M687 499h0M546 163h0M66 343h0M85 278h0M699 439h0M425 694h0M460 503h0M654 640h0M841 365h0M63 238h0M-1 446h0M598 415h0M684 427h0M471 622h0M1087 569h0M1104 449h0M621 659h0M953 605h0M1179 138h0M382 359h0M959 469h0M215 365h0M366 301h0M958 519h0M707 393h0M1154 153h0M522 680h0M1066 430h0M221 601h0M987 461h0M651 416h0M1057 646h0M627 468h0M1138 642h0M306 676h0M613 618h0M1160 683h0M229 157h0M629 127h0M1174 376h0M518 427h0M729 633h0M1053 189h0M100 355h0M707 302h0M214 340h0M816 424h0M27 432h0M706 182h0M1095 538h0M431 649h0M864 459h0M1135 333h0M1175 408h0M987 294h0M764 312h0M232 372h0M775 159h0M3 599h0M847 203h0M833 596h0M1069 301h0M18 467h0M224 687h0M370 506h0M73 627h0M183 214h0M846 116h0M53 202h0M522 232h0M695 356h0M745 406h0M176 675h0M1151 554h0M472 483h0M722 679h0M334 260h0M924 235h0M66 283h0M507 632h0M924 550h0M48 308h0M466 399h0M523 206h0M706 468h0M997 212h0M449 323h0M874 519h0M581 236h0M997 227h0M591 615h0M944 565h0M104 309h0M247 457h0M872 373h0M490 542h0M833 378h0M973 482h0M935 541h0M927 140h0M126 496h0M960 272h0M283 153h0M128 663h0M181 526h0M579 179h0M103 681h0M27 326h0M12 223h0M239 154h0M560 403h0M912 400h0M697 331h0M53 227h0M856 447h0M637 447h0M1094 119h0M552 476h0M284 182h0M1096 408h0M1018 132h0M819 204h0M322 160h0M590 585h0M924 348h0M880 485h0M63 550h0M328 290h0M660 634h0M827 289h0M503 345h0M562 372h0M225 406h0M925 648h0M346 204h0M538 422h0M1146 578h0M474 146h0M1155 362h0M1021 326h0M276 392h0M1079 469h0M942 371h0M549 338h0M725 448h0M134 607h0M786 611h0M1025 260h0M1019 378h0M784 127h0M99 613h0M1069 289h0M169 254h0M878 334h0M400 340h0M1140 244h0M357 635h0M360 417h0M737 691h0M977 415h0M1105 222h0M979 618h0M956 656h0M375 538h0M593 428h0M933 556h0M515 501h0M569 644h0M243 232h0M930 392h0M396 435h0M276 304h0M579 448h0M1089 626h0M35 254h0M414 454h0M466 370h0M140 685h0M221 191h0M509 484h0M1029 447h0M950 277h0M106 244h0M380 299h0M1170 520h0M35 314h0M582 540h0M587 102h0M691 523h0M52 561h0M142 149h0M460 142h0M127 177h0M932 150h0M349 557h0M480 540h0M1016 334h0M157 552h0M625 573h0M73 440h0M810 193h0M613 475h0M563 423h0M918 626h0M913 216h0M1039 671h0M704 167h0M739 342h0M805 266h0M1069 257h0M1080 171h0M387 551h0M1048 460h0M700 291h0M1171 315h0M816 195h0M339 472h0M846 487h0M111 681h0M225 669h0M866 613h0M118 661h0M1075 144h0M665 582h0M261 693h0M1126 293h0M479 522h0M232 460h0M111 131h0M472 402h0M489 370h0M1006 242h0M359 539h0M368 600h0M445 223h0M180 118h0M720 328h0M1023 220h0M579 559h0M378 449h0M364 369h0M135 110h0M612 237h0M137 245h0M324 106h0M1076 334h0M1006 553h0M317 396h0M541 404h0M244 560h0M500 124h0M977 683h0M1013 154h0M499 600h0M490 186h0M846 216h0M1172 560h0M456 487h0M1024 301h0M658 547h0M116 389h0M51 678h0M218 578h0M463 273h0M987 656h0M1102 577h0M478 684h0M845 423h0M700 458h0M1095 451h0M628 148h0M835 394h0M708 513h0M965 433h0M225 675h0M1164 265h0M266 375h0M360 364h0M381 563h0M1067 694h0M109 292h0M1107 107h0M190 470h0M1037 595h0M350 591h0M767 282h0M355 597h0M164 461h0M882 523h0M1056 527h0M748 431h0M805 329h0M287 569h0M506 657h0M623 599h0M887 683h0M595 463h0M383 511h0M966 312h0M949 186h0M868 649h0M718 478h0M468 102h0M988 639h0M1142 170h0M451 310h0M779 274h0M1076 274h0M899 439h0M693 682h0M541 693h0M144 689h0M478 408h0M1012 161h0M548 677h0M975 192h0M486 508h0M561 690h0M57 293h0M202 253h0M196 296h0M655 317h0M789 344h0M763 139h0M753 673h0M640 582h0M473 345h0M324 376h0M786 291h0M67 465h0M1015 489h0M1077 251h0M458 104h0M913 671h0M733 373h0M1067 351h0M969 657h0M695 609h0M243 676h0M537 291h0M407 506h0M156 592h0M1116 567h0M949 660h0M310 104h0M395 393h0M1070 611h0M1049 414h0M474 641h0M492 418h0M411 502h0M553 640h0M329 216h0M396 109h0M564 492h0M32 236h0M962 558h0M385 670h0M803 193h0M381 378h0M612 581h0M1153 288h0M56 645h0M427 612h0M211 104h0M978 403h0M369 401h0M930 531h0M873 485h0M368 649h0M1058 521h0M1174 694h0M47 543h0M850 132h0M120 240h0M375 385h0M783 392h0M514 436h0M970 383h0M548 481h0M87 299h0M401 678h0M11 538h0M509 640h0M1141 438h0M811 607h0M425 688h0M1121 630h0M916 175h0M207 648h0M700 278h0M742 143h0M360 305h0M909 439h0M162 658h0M645 219h0M175 234h0M279 418h0M1 385h0M603 669h0M493 160h0M1032 616h0M602 638h0M721 186h0M6 224h0M974 594h0M736 154h0M377 567h0M961 541h0M671 188h0M67 678h0M738 628h0M166 226h0M399 253h0M699 490h0M309 304h0M939 149h0M459 199h0M793 535h0M775 602h0M459 508h0M397 580h0M954 495h0M815 619h0M406 481h0M398 523h0M381 526h0M282 267h0M46 376h0M468 600h0M480 237h0M201 433h0M942 212h0M1044 527h0M494 361h0M1125 335h0M719 450h0M623 312h0M894 679h0M1120 455h0M394 186h0M308 395h0M418 505h0M1011 436h0M622 368h0M1073 181h0M822 554h0M1109 677h0M637 438h0M559 245h0M235 401h0M237 413h0M1168 446h0M440 406h0M146 207h0M1021 146h0M332 145h0M857 120h0M1076 633h0M543 149h0M818 327h0M1163 369h0M259 275h0M292 128h0M560 251h0M678 177h0M742 561h0M1114 311h0M632 348h0M478 381h0M104 493h0M805 340h0M502 491h0M373 619h0M233 250h0M639 692h0M868 435h0M124 356h0M723 558h0M220 284h0M181 692h0M557 332h0M142 556h0M1075 339h0M717 402h0M49 362h0M692 454h0M520 349h0M68 478h0M397 121h0M1060 558h0M295 452h0M1034 215h0M1171 122h0M938 572h0M526 477h0M1026 662h0M331 530h0M691 564h0M415 687h0M786 299h0M160 154h0M302 298h0M1066 320h0M396 159h0M554 562h0M532 495h0M480 227h0M511 601h0M676 227h0M900 328h0M842 206h0M841 412h0M684 643h0M1161 243h0M1175 156h0M97 413h0M33 219h0M124 573h0M1097 600h0M223 268h0M480 393h0M1014 218h0M399 479h0M800 220h0M724 211h0M634 513h0M96 158h0M88 203h0M607 314h0M451 247h0M84 283h0M1145 326h0M264 150h0M957 694h0M140 113h0M912 347h0M206 499h0M522 433h0M865 588h0M1099 187h0M617 223h0M570 405h0M589 691h0M552 664h0M961 429h0M225 337h0M816 611h0M1018 435h0M113 246h0M853 466h0M1125 213h0M974 127h0M883 102h0M1165 587h0M1002 412h0M903 434h0M213 169h0M255 662h0M1159 566h0M291 676h0M325 242h0M520 509h0M496 520h0M372 158h0M980 466h0M993 441h0M588 355h0M620 692h0M997 436h0M0 294h0M376 688h0M482 554h0M243 146h0M1023 606h0M592 536h0M25 493h0M146 471h0M475 488h0M1101 572h0M1039 395h0M526 675h0M635 384h0M507 304h0M888 231h0M358 222h0M753 284h0M313 559h0M820 476h0M87 664h0M614 305h0M246 348h0M655 238h0M479 175h0M326 631h0M1118 635h0M552 117h0M1159 452h0M124 306h0M624 431h0M1157 186h0M1058 322h0M144 161h0M15 580h0M169 646h0M738 213h0M798 161h0M970 343h0M1055 285h0M1052 146h0M978 585h0M477 447h0M648 318h0M374 320h0M576 629h0M831 639h0M194 447h0M9 145h0M182 656h0M701 627h0M777 247h0M819 157h0M949 313h0M1027 684h0M511 562h0M534 533h0M659 113h0M916 557h0M110 190h0M392 104h0M1106 490h0M941 198h0M801 378h0M721 468h0M940 180h0M124 635h0M563 654h0M181 641h0M485 163h0M236 167h0M594 673h0M1114 559h0M827 574h0M1180 153h0M1146 198h0M862 180h0M1058 572h0M880 595h0M1156 178h0M1002 287h0M434 245h0M745 588h0M689 655h0M17 426h0M1002 224h0M708 520h0M690 134h0M856 380h0M881 272h0M704 646h0M261 393h0M497 490h0M676 678h0M1038 684h0M239 112h0M34 693h0M915 245h0M1065 267h0M238 239h0M896 243h0M450 539h0M1086 546h0M926 654h0M1060 299h0M676 486h0M110 116h0M1067 182h0M375 126h0M176 649h0M445 313h0M931 350h0M232 510h0M677 642h0M1090 515h0M626 304h0M677 397h0M782 190h0M1161 316h0M879 455h0M1100 369h0M375 680h0M381 108h0M528 298h0M3 123h0M816 481h0M756 259h0M150 241h0M198 360h0M870 129h0M1018 654h0M1168 462h0M269 501h0M111 319h0M308 542h0M1105 165h0M637 528h0M956 291h0M991 122h0M803 535h0M300 584h0M341 675h0M672 651h0M536 283h0M1085 536h0M1065 122h0M338 420h0M946 334h0M218 373h0M1042 508h0M1058 413h0M472 656h0M246 575h0M419 139h0M589 482h0M375 530h0M297 535h0M323 427h0M152 457h0M990 550h0M719 689h0M88 428h0M534 470h0M1126 656h0M258 677h0M200 103h0M459 541h0M786 480h0M164 582h0M435 609h0M43 446h0M950 254h0M778 638h0M633 612h0M57 671h0M215 689h0M500 502h0M367 454h0M454 357h0M6 604h0M395 674h0M821 282h0M488 215h0M405 533h0M108 497h0M70 170h0M1088 278h0M50 400h0M473 590h0M693 200h0M568 446h0M934 654h0M129 638h0M728 468h0M408 246h0M56 472h0M1056 263h0M629 141h0M110 399h0M136 161h0M784 547h0M464 149h0M357 452h0M1127 497h0M1157 371h0M1162 525h0M834 179h0M1147 433h0M1048 108h0M863 397h0M768 131h0M212 453h0M208 484h0M415 627h0M422 402h0M698 614h0M756 341h0M1119 229h0M232 454h0M815 684h0M164 105h0M1120 605h0M1056 546h0M428 443h0M359 237h0M198 219h0M978 561h0M545 282h0M714 325h0M456 560h0M840 470h0M787 261h0M1024 657h0M345 503h0M220 169h0M397 230h0M935 200h0M21 379h0M643 529h0M69 683h0M277 400h0M347 450h0M460 526h0M1077 219h0M646 456h0M283 480h0M55 249h0M170 519h0M763 517h0M494 501h0M420 482h0M461 112h0M978 424h0M932 680h0M261 281h0M855 325h0M826 561h0M950 474h0M131 438h0M1073 533h0M324 548h0M361 406h0M608 406h0M997 691h0M32 502h0M81 212h0M296 506h0M355 692h0M893 146h0M208 319h0M821 455h0M56 141h0M197 538h0M867 451h0M79 319h0M1056 615h0M788 122h0M378 638h0M296 435h0M52 302h0M171 184h0M1055 402h0M548 305h0M270 470h0M342 250h0M871 567h0M244 354h0M456 492h0M675 271h0M832 244h0M760 393h0M812 582h0M65 133h0M21 634h0M697 543h0M778 562h0M1164 441h0M27 406h0M1078 195h0M602 266h0M223 513h0M570 460h0M933 549h0M723 232h0M562 396h0M364 135h0M230 466h0M657 601h0M107 534h0M434 112h0M1052 437h0M641 146h0M498 276h0M343 587h0M810 255h0M47 220h0M969 130h0M429 580h0M78 225h0M495 476h0M456 388h0M556 214h0M171 629h0M0 156h0M408 663h0M751 303h0M1168 353h0M1173 680h0M124 101h0M826 122h0M605 356h0M108 109h0M800 264h0M652 646h0M1000 504h0M1107 471h0M474 111h0M248 227h0M561 460h0M988 527h0M94 595h0M779 106h0M891 253h0M1008 688h0M1018 306h0M243 664h0M860 132h0M634 542h0M293 612h0M456 342h0M895 666h0M765 240h0M80 165h0M891 497h0M229 190h0M1179 180h0M273 244h0M1000 406h0M650 626h0M960 305h0M610 272h0M1040 284h0M667 196h0M516 657h0M984 151h0M791 196h0M275 506h0M433 638h0M413 679h0M887 638h0M502 390h0M760 412h0M715 634h0M421 274h0M576 329h0M984 352h0M1067 274h0M1124 589h0M767 287h0M116 454h0M966 469h0M214 210h0M162 269h0M840 580h0M589 332h0M878 344h0M577 302h0M846 323h0M312 402h0M1179 310h0M173 248h0M1013 654h0M129 123h0M55 483h0M718 394h0M113 666h0M1041 133h0M718 256h0M680 438h0M983 626h0M760 581h0M155 394h0M312 365h0M155 143h0M931 561h0M927 445h0M880 535h0M453 380h0M368 426h0M710 355h0M722 263h0M808 556h0M194 256h0M1156 630h0M426 265h0M1054 454h0M742 412h0M533 352h0M60 453h0M756 183h0M902 555h0M421 235h0M954 380h0M1124 469h0M462 176h0M667 263h0M754 410h0M266 586h0M265 346h0M685 444h0M275 115h0M353 193h0M59 416h0M82 618h0M1179 569h0M222 154h0M670 599h0M321 412h0M863 299h0M17 483h0M783 577h0M906 429h0M890 691h0M17 237h0M796 638h0"/>
<path stroke="#fff" stroke-width="5.8" d="M797 153h0M460 607h0M520 269h0M257 583h0M186 664h0M1096 356h0M784 168h0M388 109h0M399 664h0M417 222h0M741 319h0M568 635h0M885 568h0M720 657h0M292 184h0M632 108h0M504 263h0M1148 485h0M520 419h0M445 215h0M331 377h0M567 264h0M1083 553h0M882 300h0M407 338h0M497 347h0M566 594h0M796 392h0M-1 394h0M915 409h0M190 500h0M1164 615h0M1035 625h0M371 468h0M171 243h0M582 279h0M400 295h0M820 239h0M497 685h0M257 103h0M438 135h0M593 401h0M707 308h0M1069 133h0M338 462h0M993 592h0M1139 193h0M82 102h0M1155 426h0M159 225h0M1113 150h0M472 376h0M1063 225h0M389 637h0M432 134h0M372 195h0M285 142h0M507 571h0M146 444h0M631 436h0M840 346h0M76 463h0M579 272h0M197 656h0M862 354h0M946 520h0M857 661h0M75 261h0M75 330h0M816 105h0M337 635h0M1070 551h0M860 515h0M544 121h0M669 464h0M954 205h0M1104 382h0M84 500h0M189 125h0M788 645h0M587 455h0M461 631h0M1120 464h0M169 655h0M744 547h0M503 585h0M693 506h0M891 135h0M581 411h0M1176 395h0M881 491h0M695 194h0M317 450h0M835 545h0M1152 375h0M709 528h0M1173 651h0M552 508h0M745 420h0M463 622h0M697 166h0M483 683h0M342 227h0M468 226h0M434 197h0M377 176h0M748 626h0M642 138h0M874 246h0M659 537h0M73 468h0M55 392h0M177 487h0M368 375h0M894 409h0M1029 419h0M540 481h0M337 229h0M134 407h0M677 474h0M1055 377h0M983 560h0M238 313h0M730 525h0M730 267h0M269 481h0M474 350h0M145 249h0M1145 481h0M92 417h0M693 244h0M864 580h0M628 264h0M1006 560h0M63 260h0M533 347h0M1169 310h0M980 116h0M1060 164h0M1066 542h0M687 357h0M564 391h0M1103 394h0M212 566h0M700 316h0M961 369h0M703 584h0M848 619h0M459 132h0M902 458h0M356 490h0M907 339h0M787 538h0M990 412h0M462 471h0M470 292h0M933 282h0M938 679h0M239 640h0M623 251h0M968 117h0M229 634h0M1002 484h0M635 132h0M722 520h0M558 127h0M945 116h0M230 196h0M760 644h0M262 360h0M45 149h0M424 560h0M246 295h0M69 189h0M844 541h0M163 626h0M764 571h0M192 135h0M955 474h0M590 299h0M679 535h0M874 138h0M813 662h0M685 349h0M101 275h0M352 202h0M433 628h0M291 590h0M139 119h0M239 183h0M773 102h0M381 346h0M708 677h0M14 384h0M326 609h0M732 645h0M572 175h0M933 641h0M526 150h0M325 192h0M430 453h0M1041 547h0M135 224h0M934 272h0M940 519h0M764 266h0M436 189h0M907 570h0M966 212h0M388 259h0M526 366h0M258 537h0M229 690h0M1060 474h0M1043 220h0M272 609h0M439 601h0M251 127h0M975 398h0M31 363h0M404 616h0M298 499h0M1165 694h0M769 326h0M396 529h0M1082 378h0M496 627h0M1055 609h0M117 584h0M302 111h0M1160 430h0M271 685h0M1008 431h0M1012 499h0M603 239h0M580 123h0M177 613h0M82 312h0M366 146h0M763 345h0M740 196h0M209 199h0M636 208h0M187 410h0M367 541h0M918 501h0M226 590h0M644 433h0M406 404h0M225 414h0M466 667h0M1077 237h0M213 521h0M4 577h0M35 165h0M891 327h0M388 568h0M306 436h0M1045 645h0M1096 325h0M121 543h0M981 395h0M684 114h0M927 204h0M378 513h0M1076 115h0M24 401h0M785 329h0M920 137h0M979 656h0M697 694h0M610 560h0M909 243h0M160 349h0M957 214h0M476 133h0M100 245h0M118 375h0M854 416h0M546 293h0M147 484h0M1163 672h0M664 506h0M568 362h0M786 186h0M424 138h0M172 423h0M927 604h0M408 456h0M616 674h0M1107 228h0M190 613h0M137 136h0M605 694h0M873 554h0M797 235h0M984 684h0M197 402h0M466 515h0M1136 267h0M487 602h0M993 508h0M522 412h0M405 555h0M705 321h0M1038 328h0M477 582h0M1037 651h0M925 495h0M215 318h0M172 207h0M1165 343h0M581 267h0M728 552h0M1176 146h0M320 552h0M318 511h0M467 141h0M631 462h0M468 489h0M473 259h0M1102 110h0M1142 218h0M983 548h0M747 637h0M687 538h0M43 276h0M282 594h0M515 239h0M389 541h0M101 222h0M1097 437h0M611 439h0M839 523h0M966 368h0M299 604h0M864 229h0M139 381h0M266 426h0M718 662h0M194 593h0M383 161h0M879 515h0M851 179h0M760 591h0M331 520h0M1164 605h0M567 667h0M552 345h0M969 508h0M1021 187h0M175 429h0M132 148h0M131 477h0M431 510h0M885 589h0M895 296h0M900 673h0M253 415h0M1117 295h0M269 448h0M156 293h0M867 540h0M1085 466h0M421 453h0M858 466h0M856 578h0M388 226h0M729 456h0M669 110h0M417 150h0M580 607h0M569 386h0M436 369h0M573 451h0M116 505h0M477 210h0M948 269h0M408 547h0M32 145h0M996 606h0M376 287h0M1120 220h0M482 612h0M266 368h0M179 591h0M853 248h0M291 269h0M354 569h0M1176 599h0M430 500h0M800 567h0M970 532h0M173 582h0M303 430h0M870 202h0M115 108h0M270 117h0M924 290h0M708 423h0M183 424h0M436 312h0M21 323h0M70 128h0M1179 350h0M853 144h0M254 668h0M1143 212h0M19 576h0M1019 296h0M1001 322h0M232 537h0M1028 393h0M701 674h0M997 548h0M1003 238h0M728 160h0M815 231h0M149 600h0M631 492h0M616 405h0M729 192h0M34 615h0M578 622h0M46 115h0M455 110h0M175 521h0M1151 396h0M627 179h0M810 358h0M222 356h0M375 279h0M311 154h0M321 294h0M447 277h0M145 460h0M95 267h0M215 554h0M1105 600h0M940 477h0M140 400h0M313 651h0M133 525h0M329 679h0M822 175h0M661 210h0M913 250h0M318 498h0M547 456h0M961 342h0M635 398h0M901 655h0M164 401h0M237 394h0M218 485h0M82 386h0M525 491h0M592 609h0M95 276h0M14 277h0M45 342h0M641 406h0M1078 498h0M1106 429h0M539 240h0M424 285h0M128 284h0M949 392h0M397 440h0M216 381h0M313 429h0M784 498h0M893 199h0M372 590h0M1053 565h0M1172 240h0M592 447h0M1161 553h0M1037 360h0M633 604h0M535 326h0M42 357h0M1068 200h0M406 297h0M161 517h0M668 425h0M285 119h0M362 152h0M566 418h0M812 310h0M-1 223h0M889 537h0M588 551h0M738 606h0M809 140h0M675 660h0M723 134h0M664 528h0M161 633h0M399 630h0M914 692h0M886 627h0M542 436h0M247 283h0M1097 313h0M213 588h0M1023 635h0M858 681h0M1045 146h0M1037 198h0M913 265h0M1088 663h0M479 195h0M315 521h0M839 163h0M990 649h0M597 292h0M575 686h0M608 287h0M698 634h0M157 203h0M72 164h0M94 558h0M725 475h0M233 421h0M674 543h0M957 103h0M410 693h0M326 487h0M792 505h0M1144 528h0M1053 277h0M184 273h0M222 235h0M38 401h0M977 599h0M300 463h0M282 509h0M16 307h0M1152 652h0M254 510h0M1060 307h0M719 227h0M779 646h0M198 395h0M984 667h0M704 453h0M513 195h0M279 586h0M804 677h0M1112 169h0M688 587h0M865 289h0M366 337h0M536 498h0M695 583h0M343 660h0M703 485h0M45 271h0M590 107h0M728 203h0M502 243h0M339 123h0M264 260h0M283 600h0M458 687h0M820 439h0M266 438h0M265 676h0M1022 114h0M674 262h0M1034 282h0M-2 412h0M797 483h0M87 472h0M731 210h0M1002 433h0M235 585h0M343 362h0M9 214h0M256 642h0M998 120h0M909 683h0M77 515h0M335 211h0M560 628h0M891 245h0M375 139h0M64 440h0M402 304h0M549 562h0M707 383h0M610 553h0M265 144h0M577 203h0M275 486h0M875 260h0M96 637h0M1068 189h0M1112 694h0M499 460h0M804 610h0M291 461h0M894 371h0M1072 539h0M585 374h0M747 411h0M469 209h0M400 271h0M750 161h0M919 365h0M851 444h0M997 685h0M467 178h0M218 349h0M1064 645h0M49 417h0M851 641h0M1106 588h0M839 128h0M342 653h0M343 283h0M-2 683h0M1038 560h0M295 175h0M101 568h0M655 525h0M267 183h0M63 663h0M1069 617h0M885 443h0M220 386h0M1038 531h0M1132 341h0M760 558h0M691 445h0M154 671h0M445 452h0M508 618h0M909 413h0M827 317h0M1070 235h0M870 417h0M725 693h0M288 526h0M185 160h0M702 102h0M971 687h0M187 596h0M831 535h0M1039 449h0M945 543h0M894 417h0M1169 431h0M158 112h0M53 352h0M149 658h0M436 332h0M640 554h0M341 139h0M678 501h0M678 584h0M59 500h0M270 139h0M355 627h0M1032 381h0M823 419h0M1034 122h0M1116 139h0M427 109h0M509 280h0M245 507h0M266 643h0M839 341h0M599 479h0M439 321h0M454 193h0M947 583h0M324 284h0M988 141h0M1069 230h0M948 304h0M881 631h0M478 693h0M500 221h0M728 102h0M1064 419h0M47 173h0M141 441h0M111 579h0M885 368h0M835 680h0M984 244h0M193 275h0M15 135h0M1163 151h0M519 337h0M339 186h0M885 252h0M191 646h0M56 544h0M593 247h0M164 210h0M647 558h0M533 151h0M136 301h0M524 115h0M804 283h0M1022 385h0M467 498h0M69 105h0M266 306h0M-1 114h0M250 528h0M688 367h0M720 636h0M156 429h0M411 382h0M566 430h0M784 278h0M1081 226h0M460 638h0M873 686h0M-1 639h0M740 244h0M728 368h0M429 149h0M438 642h0M693 156h0M869 135h0M293 468h0M951 479h0M189 234h0M308 214h0M412 280h0M863 447h0M194 520h0M674 149h0M319 265h0M673 579h0M451 152h0M18 228h0M672 373h0M366 193h0M1019 236h0M131 141h0M418 585h0M417 361h0M10 573h0M617 492h0M1115 266h0M143 523h0M11 650h0M146 349h0M933 222h0M598 122h0M115 409h0M1133 372h0M1127 175h0M984 591h0M533 455h0M627 584h0M274 633h0M467 384h0M790 338h0M487 346h0M312 194h0M1105 438h0M525 221h0M54 282h0M1149 625h0M46 606h0M214 121h0M1052 598h0M421 297h0M686 301h0M319 137h0M185 206h0M353 317h0M494 525h0M762 629h0M249 319h0M354 210h0M426 665h0M542 527h0M952 178h0M920 470h0M239 195h0M1011 578h0M939 336h0M509 224h0M485 546h0M520 173h0M666 114h0M406 540h0M15 363h0M823 667h0M-1 568h0M859 267h0M924 627h0M375 441h0M1 417h0M694 418h0M1023 443h0M619 564h0M433 674h0M229 493h0M1029 477h0M572 249h0M1168 667h0M866 282h0M670 527h0M759 676h0M334 331h0M643 207h0M174 453h0M987 158h0M673 222h0M791 651h0M990 274h0M979 180h0M211 369h0M474 227h0M809 242h0M430 116h0M1097 156h0M838 277h0M148 502h0M232 530h0M643 609h0M895 572h0M1009 310h0M286 431h0M240 463h0M950 670h0M349 663h0M529 626h0M333 536h0M695 570h0M488 654h0M1120 247h0M968 285h0M343 269h0M369 491h0M437 538h0M75 323h0M875 540h0M70 498h0M1179 125h0M455 254h0M224 178h0M863 485h0M815 248h0M859 565h0M1079 295h0M647 313h0M767 461h0M798 462h0M744 521h0M253 217h0M696 429h0M1061 173h0M261 224h0M75 544h0M796 269h0M106 177h0M121 520h0M753 491h0M589 251h0M1156 440h0M801 549h0M148 475h0M616 610h0M945 140h0M1162 350h0M608 101h0M982 692h0M438 521h0M274 202h0M665 356h0M648 662h0M647 357h0M592 636h0M235 468h0M926 484h0M201 342h0M316 434h0M339 317h0M330 686h0M486 629h0M290 311h0M272 353h0M62 169h0M609 470h0M26 420h0M939 560h0M640 278h0M202 688h0M630 203h0M54 410h0M836 205h0M313 317h0M727 274h0M766 496h0M1159 384h0M254 364h0M522 657h0M353 648h0M829 135h0M262 125h0M172 102h0M481 206h0M235 296h0M395 644h0M546 440h0M306 160h0M1087 598h0M504 672h0M478 163h0M660 273h0M669 407h0M1009 461h0M772 256h0M505 110h0M484 296h0M526 540h0M483 566h0M72 243h0M721 140h0M147 293h0M353 544h0M652 673h0M1047 392h0M778 300h0M298 290h0M1 205h0M1131 194h0M1058 250h0M113 278h0M632 641h0M930 194h0M389 576h0M191 475h0M792 174h0M815 497h0M101 529h0M832 342h0M663 370h0M809 171h0M608 217h0M698 375h0M1057 157h0M1063 253h0M388 234h0M1016 694h0M625 270h0M236 660h0M886 644h0M429 355h0M180 386h0M235 320h0M243 226h0M540 135h0M94 406h0M60 686h0M192 588h0M707 496h0M126 212h0M571 479h0M588 428h0M834 493h0M878 571h0M710 590h0M569 304h0M134 442h0M169 235h0M893 345h0M95 462h0M779 620h0M790 683h0M46 106h0M37 499h0M979 381h0M296 657h0M272 309h0M431 348h0M58 199h0M60 326h0M52 378h0M475 199h0M822 395h0M859 202h0M778 391h0M284 369h0M945 263h0M877 143h0M687 273h0M1166 177h0M532 339h0M605 587h0M1160 102h0M226 458h0M987 324h0M1112 641h0M263 120h0M241 202h0M114 265h0M582 354h0M474 246h0M744 131h0M1100 287h0M862 169h0M1027 168h0M433 429h0M276 436h0M497 294h0M730 220h0M848 626h0M31 225h0M628 674h0M1091 146h0M120 422h0M782 569h0M683 622h0M104 501h0M401 566h0M885 111h0M66 220h0M275 500h0M715 464h0M712 160h0M284 515h0M936 514h0M1083 622h0M1068 212h0M1161 416h0M561 176h0M298 675h0M1073 416h0M572 670h0M404 440h0M208 664h0M1154 682h0M305 326h0M353 677h0M927 263h0M1047 343h0M877 549h0M616 341h0M196 601h0M857 303h0M1065 297h0M607 293h0M760 170h0M992 367h0M247 419h0M868 608h0M25 594h0M598 216h0M564 137h0M605 600h0M913 297h0M129 620h0M251 467h0M937 133h0M355 447h0M283 452h0M151 203h0M68 656h0M1086 392h0M1046 623h0M902 507h0M855 277h0M644 563h0M900 662h0M931 452h0M353 286h0M735 499h0M261 292h0M763 108h0M500 690h0M996 479h0M1138 632h0M962 511h0M820 548h0M359 461h0M772 125h0M159 544h0M538 560h0M211 314h0M244 648h0M583 598h0M218 222h0M855 160h0M486 575h0M341 554h0M921 516h0M761 653h0M806 365h0M964 238h0M130 562h0M1137 321h0M111 296h0M143 275h0M574 334h0M1006 218h0M617 289h0M197 251h0M85 456h0M357 327h0M519 278h0M918 269h0M769 141h0M205 371h0M549 427h0M52 180h0M216 355h0M54 605h0M272 185h0M605 685h0M666 691h0M122 399h0M1157 689h0M183 469h0M572 113h0M1137 130h0M220 438h0M425 606h0M890 504h0M445 336h0M798 324h0M563 517h0M448 677h0M345 545h0M721 619h0M555 256h0M58 129h0M927 319h0M453 404h0M1060 234h0M590 379h0M943 300h0M1170 195h0M851 560h0M903 142h0M131 162h0M580 694h0M1045 322h0M198 273h0M1173 421h0M425 460h0M465 510h0M905 363h0M476 568h0M127 155h0M942 243h0M914 665h0M1050 559h0M617 310h0M135 639h0M9 119h0M820 465h0M1100 226h0M334 642h0M1034 575h0M560 592h0M1100 168h0M767 250h0M50 261h0M853 596h0M551 570h0M510 191h0M237 278h0M1 651h0M471 468h0M962 691h0M994 131h0M939 173h0M1095 495h0M993 676h0M243 519h0M562 120h0M487 514h0M450 200h0M832 103h0M1079 564h0M1171 585h0M1071 592h0M840 681h0M1030 554h0M715 178h0M575 126h0M402 119h0M1109 337h0M1072 674h0M366 535h0M924 146h0M878 621h0M528 605h0M828 338h0M178 494h0M381 331h0M703 553h0M158 462h0M779 419h0M567 565h0M395 506h0M1117 535h0M1085 583h0M900 108h0M955 610h0M1027 253h0M355 556h0M563 287h0M967 406h0M1127 322h0M1033 372h0M20 679h0M1053 120h0M540 466h0M517 625h0M1119 444h0M279 128h0M778 542h0M66 160h0M649 526h0M354 112h0M295 360h0M1094 522h0M298 153h0M265 420h0M55 163h0M20 209h0M59 256h0M588 340h0M296 135h0M1003 153h0M1159 446h0M627 411h0M32 288h0M414 510h0M731 678h0M600 589h0M176 138h0M1178 419h0M919 414h0M916 117h0M313 644h0M711 314h0M513 171h0M429 425h0M821 648h0M776 658h0M708 204h0M886 151h0M749 123h0M681 266h0M886 671h0M166 594h0M310 688h0M82 174h0M992 384h0M494 338h0M232 542h0M219 590h0M259 434h0M1153 526h0M331 125h0M208 583h0M315 274h0M913 153h0M728 173h0M1020 418h0M1131 109h0M711 289h0M447 230h0M283 357h0M854 526h0M1141 489h0M572 659h0M941 460h0M1176 389h0M1089 413h0M210 640h0M1038 411h0M599 191h0M510 336h0M545 396h0M735 458h0M809 601h0M1042 364h0M1105 279h0M588 572h0M688 384h0M153 309h0M585 512h0M41 123h0M459 222h0M431 460h0M107 505h0M666 552h0M142 561h0M133 493h0M397 247h0M319 379h0M862 276h0M780 550h0M1000 651h0M587 222h0M1132 616h0M813 430h0M915 645h0M957 155h0M109 126h0M902 620h0M1000 199h0M325 264h0M296 693h0M31 655h0M874 679h0M890 449h0M261 600h0M809 550h0M787 675h0M510 123h0M188 404h0M716 302h0M1159 259h0M2 525h0M1085 500h0M637 474h0M163 651h0M1001 310h0M446 501h0M713 143h0M345 462h0M640 604h0M598 239h0M133 428h0M143 289h0M1085 292h0M125 404h0M114 204h0M376 216h0M264 338h0M391 218h0M747 266h0M780 467h0M983 487h0M1105 622h0M755 421h0M169 621h0M503 276h0M821 602h0M178 196h0M846 309h0M1035 679h0M91 484h0M723 123h0M365 567h0M918 401h0M454 577h0M533 542h0M836 458h0M608 361h0M85 417h0M806 593h0M693 263h0M1127 388h0M583 522h0M782 342h0M1111 442h0M32 309h0M491 391h0M71 298h0M1097 247h0M845 515h0M927 183h0M518 253h0M502 399h0M342 131h0M1001 441h0M1160 404h0M233 337h0M460 137h0M1113 240h0M208 191h0M84 607h0M585 205h0M399 208h0M530 417h0M249 641h0M894 459h0M344 633h0M624 501h0M834 166h0M1006 339h0M610 495h0M767 509h0M800 352h0M631 196h0M912 328h0M888 172h0M566 328h0M63 214h0M152 127h0M500 302h0M1164 271h0M900 392h0M526 350h0M741 150h0M28 645h0M348 280h0M260 365h0M432 288h0M550 221h0M25 304h0M137 520h0M577 478h0M206 157h0M402 221h0M104 321h0M24 184h0M354 402h0M528 176h0M647 513h0M580 152h0M178 514h0M339 433h0M756 624h0M577 132h0M116 361h0M809 269h0M764 602h0M932 290h0M333 612h0M662 148h0M500 341h0M578 361h0M644 245h0M90 101h0M1011 647h0M1094 163h0M1136 588h0M176 686h0M13 314h0M464 530h0M48 197h0M655 391h0M464 479h0M716 530h0M159 337h0M597 600h0M905 124h0M492 601h0M244 545h0M309 120h0M545 581h0M960 534h0M917 456h0M553 602h0M532 375h0M1044 190h0M936 632h0M102 411h0M352 635h0M41 682h0M49 623h0M105 557h0M345 274h0M579 296h0M235 122h0M511 359h0M897 289h0M679 654h0M935 341h0M807 566h0M884 574h0M496 312h0M509 316h0M851 541h0M974 172h0M258 143h0M535 679h0M49 422h0M478 648h0M1007 616h0M284 386h0M994 255h0M1143 513h0M958 311h0M91 478h0M958 244h0M304 197h0M598 521h0M43 520h0M779 412h0M609 394h0M818 504h0M560 276h0M800 229h0M830 529h0M566 129h0M788 409h0M8 449h0M767 615h0M1146 457h0M516 104h0M291 103h0M18 261h0M342 388h0M672 506h0M401 424h0M51 320h0M692 437h0M932 101h0M332 472h0M726 427h0M711 472h0M384 394h0M662 685h0M223 217h0M395 429h0M792 608h0M1034 535h0M1074 137h0M1065 236h0M688 339h0M543 426h0M525 528h0M827 281h0M592 591h0M2 473h0M394 398h0M899 451h0M552 497h0M607 506h0M-3 137h0M311 494h0M1007 625h0M643 372h0M825 630h0M15 508h0M20 523h0M86 248h0M410 219h0M301 557h0M14 358h0M607 522h0M806 116h0M123 642h0M309 446h0M545 328h0M133 154h0M1040 471h0M900 177h0M1061 504h0M655 372h0M631 592h0M3 180h0M1177 510h0M252 315h0M629 576h0M144 414h0M185 307h0M320 516h0M121 246h0M370 305h0M1125 423h0M742 643h0M137 621h0M913 110h0M1019 364h0M646 671h0M128 170h0M581 347h0M863 685h0M87 466h0M751 276h0M476 126h0M495 470h0M9 302h0M178 668h0M468 264h0M154 409h0M97 259h0M63 469h0M254 428h0M622 638h0M836 619h0M904 347h0M893 606h0M50 291h0M116 567h0M692 423h0M118 438h0M220 263h0M1164 679h0M494 243h0M635 551h0M764 456h0M54 366h0M845 577h0M273 230h0M962 323h0M83 335h0M1063 658h0M591 282h0M1154 217h0M902 192h0M630 475h0M735 559h0M750 668h0M474 265h0M980 476h0M60 478h0M786 423h0M741 258h0M543 476h0M1138 199h0M428 410h0M288 449h0M186 246h0M165 512h0M118 355h0M1116 113h0M443 350h0M690 323h0M700 523h0M69 387h0M844 295h0M669 620h0M272 360h0M760 333h0M488 278h0M1061 548h0M1141 518h0M615 516h0M651 387h0M1033 662h0M523 324h0M1075 518h0M679 368h0M139 581h0M954 450h0M80 467h0M879 667h0M69 206h0M687 575h0M851 570h0M805 375h0M463 332h0M841 285h0M1086 635h0M489 441h0M754 553h0M130 202h0M956 572h0M952 358h0M147 341h0M163 126h0M646 256h0M1120 389h0M76 631h0M1067 688h0M1056 583h0M331 406h0M777 499h0M1144 127h0M756 235h0M7 395h0M214 609h0M810 165h0M74 670h0M759 311h0M602 492h0M936 157h0M1170 325h0M541 493h0M1023 457h0M509 613h0M928 423h0M94 654h0M413 411h0M725 377h0M738 408h0M321 125h0M11 184h0M1178 302h0M499 408h0M988 228h0M363 615h0M1169 579h0M914 321h0M541 546h0M341 523h0M401 150h0M573 555h0M1117 483h0M460 155h0M270 323h0M9 662h0M13 340h0M747 509h0M4 641h0M1055 219h0M840 321h0M459 693h0M98 496h0M1170 484h0M732 403h0M667 546h0M463 490h0M1075 526h0M378 197h0M226 239h0M256 547h0M176 526h0M380 588h0M314 323h0M329 340h0M628 279h0M767 305h0M513 479h0M282 293h0M88 564h0M1172 178h0M991 610h0M1093 584h0M809 656h0M156 276h0M391 115h0M754 110h0M80 627h0M740 514h0M419 290h0M302 482h0M329 445h0M1140 146h0M82 305h0M393 631h0M1147 180h0M1107 316h0M348 536h0M139 409h0M935 415h0M1092 172h0M851 195h0M38 620h0M125 259h0M585 181h0M416 658h0M74 230h0M1132 279h0M139 326h0M141 195h0M236 495h0M203 487h0M666 279h0M507 186h0M474 529h0M890 392h0M618 430h0M803 506h0M683 378h0M299 572h0M1122 661h0M1071 546h0M1156 456h0M529 693h0M11 346h0M1162 230h0M920 107h0M373 421h0M144 655h0M750 441h0M556 670h0M1137 483h0M493 379h0M875 267h0M1175 578h0M691 258h0M31 471h0M1130 261h0M665 214h0M984 191h0"/>
<path stroke="#fff" stroke-width="7.4" d="M372 624h0M303 351h0M729 505h0M330 659h0M196 376h0M408 256h0M1153 261h0M1042 111h0M964 262h0M946 355h0M1059 497h0M1055 461h0M1064 679h0M875 628h0M356 485h0M246 262h0M444 533h0M1159 474h0M519 476h0M871 532h0M719 549h0M1015 673h0M94 210h0M761 147h0M385 445h0M346 596h0M178 631h0M772 405h0M657 267h0M750 541h0M318 155h0M158 603h0M656 473h0M281 163h0M220 422h0M452 211h0M645 170h0M28 159h0M811 223h0M111 105h0M587 434h0M482 534h0M1137 505h0M1135 414h0M393 150h0M556 294h0M430 299h0M1170 530h0M273 290h0M384 399h0M472 457h0M109 512h0M778 459h0M912 191h0M494 232h0M478 547h0M12 114h0M1120 145h0M417 355h0M1085 333h0M542 410h0M379 495h0M1167 626h0M799 671h0M139 589h0M261 660h0M1144 682h0M775 150h0M420 307h0M767 392h0M1015 175h0M225 122h0M270 237h0M973 350h0M521 242h0M558 634h0M837 500h0M100 541h0M1105 252h0M792 568h0M873 208h0M883 129h0M1093 132h0M833 363h0M407 196h0M911 164h0M655 584h0M1063 338h0M590 308h0M164 378h0M996 522h0M1048 656h0M664 390h0M151 234h0M156 619h0M633 689h0M486 375h0M347 123h0M489 249h0M205 494h0M928 515h0M753 333h0M655 192h0M475 254h0M96 663h0M776 593h0M170 473h0M549 210h0M490 535h0M743 303h0M447 422h0M300 273h0M237 676h0M411 312h0M422 159h0M454 137h0M116 331h0M477 556h0M1001 379h0M860 292h0M713 655h0M755 582h0M515 542h0M575 415h0M675 135h0M674 389h0M974 379h0M691 496h0M966 268h0M1168 408h0M207 172h0M61 495h0M592 457h0M551 175h0M810 464h0M958 231h0M162 217h0M737 324h0M866 533h0M190 346h0M843 663h0M347 371h0M177 168h0M92 128h0M889 224h0M903 398h0M522 572h0M46 565h0M1104 328h0M234 192h0M548 661h0M129 410h0M797 572h0M682 207h0M418 694h0M298 625h0M1029 668h0M1089 691h0M329 199h0M266 352h0M24 141h0M58 634h0M846 272h0M601 583h0M1130 267h0M240 318h0M959 127h0M934 398h0M527 318h0M1 107h0M854 286h0M790 445h0M540 576h0M435 420h0M1151 469h0M195 456h0M15 244h0M797 275h0M1123 240h0M997 559h0M1093 634h0M989 242h0M833 302h0M762 597h0M524 406h0M664 423h0M536 210h0M51 551h0M688 508h0M800 626h0M272 542h0M34 679h0M1005 384h0M902 683h0M355 362h0M311 386h0M588 229h0M449 692h0M1123 515h0M1035 642h0M747 244h0M138 504h0M413 178h0M58 356h0M441 370h0M942 629h0M336 657h0M838 672h0M481 656h0M131 332h0M224 595h0M1014 358h0M534 636h0M710 115h0M898 311h0M517 140h0M372 639h0M541 628h0M621 521h0M1174 546h0M422 635h0M814 336h0M952 425h0M19 395h0M564 319h0M349 567h0M729 587h0M331 360h0M197 479h0M786 177h0M857 476h0M-2 119h0M40 267h0M305 478h0M882 320h0M720 168h0M507 564h0M417 533h0M107 552h0M645 542h0M18 334h0M180 608h0M718 378h0M1085 120h0M1131 324h0M589 579h0M821 511h0M282 337h0M299 122h0M207 181h0M850 280h0M487 502h0M81 296h0M350 430h0M563 529h0M381 490h0M915 614h0M933 139h0M869 102h0M911 465h0M359 116h0M460 517h0M866 347h0M1123 368h0M775 305h0M945 669h0M852 375h0M536 365h0M389 182h0M104 216h0M103 478h0M676 552h0M284 306h0M269 126h0M60 332h0M822 306h0M1179 478h0"/>
<path stroke="#fff" stroke-width="9.5" d="M901 470h0M837 421h0M154 346h0M756 531h0M127 379h0M1123 491h0M340 630h0M1030 678h0M660 596h0M453 638h0M596 494h0M174 414h0M173 555h0M159 308h0M906 136h0M97 110h0M538 394h0M317 180h0M34 351h0M1104 295h0M50 667h0M394 568h0M813 344h0M974 109h0M10 421h0M-3 540h0M723 436h0M720 428h0M182 236h0M551 290h0M349 149h0M1136 684h0M622 617h0M889 528h0M232 652h0M600 344h0M162 118h0M7 623h0M984 569h0M759 547h0M286 467h0M557 149h0M62 385h0M117 311h0M665 539h0M1150 159h0M647 130h0M76 403h0M725 661h0M647 282h0M716 535h0M1006 141h0M293 425h0M438 663h0M1066 443h0M679 415h0M1154 196h0M708 237h0M949 173h0M424 469h0M622 257h0M1174 445h0M573 215h0M428 636h0M140 570h0M322 574h0M131 228h0M974 268h0"/>
<path stroke="#fff" stroke-width="12.5" d="M1032 133h0M1026 236h0M368 328h0M844 279h0M980 520h0M594 333h0M1065 360h0M821 493h0M963 282h0M621 142h0M2 439h0M883 348h0M190 380h0M962 442h0M383 453h0M492 283h0M1085 219h0M366 521h0M91 660h0M1059 106h0M241 600h0M257 112h0M32 687h0M853 106h0M282 232h0M1051 430h0M706 445h0M895 597h0M20 329h0M255 303h0M595 182h0"/>
<path stroke="#cfcfcf" stroke-width="4.4" d="M123 312h0M340 366h0M846 491h0M232 342h0M425 456h0M373 263h0M731 225h0M607 359h0M258 258h0M424 648h0M623 467h0M296 122h0M389 280h0M125 204h0M192 544h0M766 605h0M85 399h0M149 532h0M426 213h0M280 679h0M988 405h0M1053 479h0M233 538h0M408 189h0M17 496h0M602 155h0M316 413h0M545 356h0M756 262h0M415 418h0M469 226h0M857 380h0M164 339h0M354 527h0M372 456h0M299 609h0M437 167h0M750 423h0M961 187h0M200 621h0M79 607h0M1003 165h0M1070 653h0M706 488h0M816 203h0M78 394h0M75 365h0M73 344h0M64 237h0M978 685h0M1062 302h0M774 315h0M35 581h0M1096 171h0M831 176h0M823 373h0M69 465h0M514 530h0M195 454h0M73 239h0M25 317h0M417 236h0M662 185h0M793 346h0M83 153h0M88 358h0M1006 671h0M616 302h0M177 516h0M125 390h0M47 250h0M517 414h0M360 638h0M501 486h0M279 412h0M139 334h0M461 268h0M545 493h0M879 583h0M75 294h0M1005 323h0M226 285h0M27 216h0M1021 636h0M812 449h0M743 174h0M1121 662h0M1129 518h0M490 619h0M976 566h0M721 661h0M57 112h0M682 255h0M757 659h0M39 293h0M382 109h0M147 325h0M1111 575h0M542 212h0M343 502h0M67 304h0M582 343h0M131 369h0M1069 659h0M672 641h0M1124 539h0M83 621h0M612 485h0M1154 311h0M609 118h0M732 143h0M831 541h0M184 443h0M1038 295h0M987 519h0M754 135h0M519 614h0M233 573h0M638 243h0M554 548h0M1124 300h0M969 335h0M773 402h0M1061 590h0M1018 333h0M151 300h0M972 388h0M46 352h0M708 578h0M1067 168h0M1106 622h0M55 637h0M660 342h0M935 210h0M450 575h0M753 195h0M88 582h0M318 648h0M994 453h0M451 334h0M151 632h0M1018 579h0M279 138h0M655 394h0M227 666h0M321 565h0M785 278h0M840 408h0M187 404h0M170 679h0M1024 177h0M876 339h0M769 542h0M896 512h0M941 361h0M961 205h0M573 233h0M1079 594h0M266 349h0M144 629h0M731 306h0M628 497h0M223 526h0M449 663h0M576 584h0M165 574h0M34 649h0M856 644h0M134 641h0M215 260h0M992 342h0M653 240h0M1153 623h0M855 104h0M223 663h0M465 275h0M1040 460h0M1091 163h0M925 320h0M673 428h0M480 323h0M661 310h0M298 345h0M353 674h0M629 506h0M571 486h0M121 213h0M894 162h0M852 470h0M1073 523h0M598 321h0M495 604h0M163 176h0M866 685h0M1121 388h0M225 577h0M300 291h0M788 489h0M235 657h0M365 229h0M1151 240h0M1010 275h0M118 297h0M19 157h0M1084 600h0M464 398h0M1121 606h0M124 437h0M503 333h0M192 441h0M760 219h0M960 361h0M177 654h0M228 620h0M3 685h0M429 432h0M301 151h0M639 252h0M1122 110h0M544 286h0M41 633h0M1172 661h0M571 223h0M1089 174h0M501 556h0M655 324h0M421 233h0M812 483h0M182 571h0M1062 466h0M1011 279h0M203 381h0M1063 601h0M782 572h0M502 478h0M314 685h0M286 524h0M869 563h0M888 229h0M283 241h0M455 499h0M919 428h0M384 677h0M903 264h0M848 336h0M335 669h0M1074 178h0M211 642h0M1163 683h0M310 208h0M219 147h0M331 235h0M65 301h0M165 107h0M961 534h0M438 124h0M763 271h0M818 171h0M1016 416h0M1130 310h0M647 517h0M786 398h0M133 401h0M771 264h0M610 172h0M106 256h0M1055 586h0M745 186h0M746 342h0M468 280h0M945 556h0M511 412h0M973 284h0M296 363h0M147 329h0M927 235h0M434 140h0M943 515h0M1162 198h0M962 174h0M210 342h0M361 223h0M944 686h0M607 320h0M597 418h0M885 590h0M816 130h0M723 134h0M1152 493h0M290 314h0M264 203h0M220 287h0M31 630h0M268 474h0M4 232h0M630 228h0M661 412h0M192 376h0M957 219h0M733 577h0M1018 517h0M879 436h0M232 562h0M1144 305h0M1103 459h0M214 201h0M778 642h0M67 485h0M55 525h0M858 128h0M882 662h0M136 405h0M308 230h0M1144 322h0M44 484h0M745 553h0M964 398h0M739 443h0M908 553h0M467 190h0M53 161h0M1006 581h0M850 550h0M801 281h0M1116 553h0M324 606h0M362 517h0M921 214h0M385 542h0M1063 270h0M995 314h0M578 126h0M760 619h0M295 163h0M126 245h0M247 530h0M90 660h0M812 196h0M303 313h0M69 336h0M365 617h0M249 230h0M1112 225h0M119 681h0M1076 529h0M937 577h0M307 439h0M1097 205h0M595 402h0M557 314h0M146 678h0M33 486h0M1025 600h0M668 396h0M212 391h0M1100 571h0M792 677h0M1059 490h0M334 641h0M252 602h0M294 401h0M503 268h0M992 367h0M360 574h0M377 649h0M371 498h0M412 287h0M844 587h0M694 688h0M265 285h0M1126 316h0M1024 580h0M226 255h0M890 428h0M53 220h0M242 173h0M251 685h0M554 575h0M1176 424h0M754 563h0M684 217h0M522 652h0M983 389h0M1141 613h0M905 208h0M695 342h0M1131 532h0M336 127h0M558 579h0M38 231h0M419 358h0M344 314h0M1076 338h0M17 458h0M1124 622h0M979 671h0M409 286h0M278 662h0M643 556h0M683 156h0M139 115h0M1068 516h0M148 328h0M91 602h0M699 176h0M784 165h0M286 157h0M449 588h0M1045 635h0M368 314h0M1105 586h0M572 375h0M1101 517h0M462 551h0M280 646h0M679 437h0M85 393h0M79 614h0M192 196h0M184 630h0M120 688h0M334 553h0M664 182h0M1111 463h0M1059 488h0M611 227h0M525 521h0M778 495h0M733 155h0M162 167h0M325 193h0M819 324h0M519 583h0M817 171h0M2 660h0M1031 268h0M817 159h0M293 249h0M996 445h0M42 141h0M616 577h0M111 121h0M1075 639h0M447 384h0M828 143h0M693 372h0M110 280h0M682 298h0M300 385h0M636 689h0M1170 655h0M287 683h0M913 618h0M558 611h0M37 636h0M2 651h0M318 576h0M896 516h0M721 239h0M444 478h0M1092 294h0M1088 221h0M664 427h0M955 217h0M689 252h0M436 251h0M910 288h0M615 144h0M1011 520h0M986 146h0M861 633h0M819 256h0M1065 344h0M841 186h0M730 500h0M117 588h0M852 476h0M339 321h0M163 202h0M1006 395h0M1068 284h0M53 204h0M403 164h0M890 480h0M1014 534h0M951 311h0M662 665h0M535 507h0M806 597h0M366 196h0M90 553h0M713 247h0M97 331h0M1079 618h0M222 510h0M569 655h0M691 607h0M37 192h0M1023 629h0M145 649h0M216 587h0M1091 157h0M714 663h0M978 443h0M371 657h0M254 610h0M255 183h0M653 522h0M761 263h0M856 169h0M324 460h0M292 650h0M106 624h0M96 368h0M667 516h0M284 476h0M15 211h0M7 352h0M314 302h0M539 642h0M218 556h0M934 289h0M25 228h0M962 162h0M470 277h0M361 151h0M583 362h0M733 575h0M758 494h0M104 626h0M379 340h0M721 167h0M1053 481h0M824 520h0M1150 536h0M629 582h0M1087 321h0M1160 213h0M679 422h0M432 342h0M1147 441h0M400 286h0M334 560h0M622 226h0M859 223h0M500 607h0M344 500h0M1079 339h0M257 234h0M191 187h0M307 523h0M202 596h0M1091 401h0M228 558h0M863 409h0M990 410h0M445 190h0M1102 127h0M856 610h0M204 484h0M1013 247h0M1115 172h0M165 183h0M947 290h0M266 401h0M486 429h0M382 389h0M216 619h0M932 349h0M21 292h0M1121 124h0M134 342h0M1011 244h0M623 622h0M755 292h0M92 238h0M841 544h0M7 599h0M789 132h0M701 200h0M1040 428h0M405 425h0M858 329h0M1 556h0M149 320h0M429 410h0M821 254h0M160 590h0M710 201h0M960 190h0M91 358h0M799 233h0M399 381h0M145 264h0M261 335h0M140 613h0M144 335h0M948 385h0M550 243h0M78 622h0M801 484h0M1113 482h0M894 377h0M342 649h0M519 553h0M56 472h0M649 232h0M124 338h0M421 632h0M934 352h0M834 648h0M612 334h0M1074 234h0M1002 111h0M129 549h0M82 241h0M692 431h0M687 396h0M678 413h0M871 576h0M608 151h0M975 434h0M906 310h0M1104 552h0M111 213h0M411 659h0M918 178h0M469 555h0M181 205h0M757 172h0M485 434h0M864 562h0M954 478h0M497 186h0M43 205h0M321 327h0M275 183h0M623 607h0M256 493h0M133 594h0M8 312h0M723 550h0M55 634h0M181 356h0M515 547h0M1 405h0M884 416h0M786 360h0M819 116h0M275 462h0M967 372h0M254 216h0M432 295h0M697 553h0M436 114h0M739 594h0M957 267h0M1011 440h0M655 456h0M687 301h0M661 589h0M1157 661h0M439 437h0M731 302h0M268 185h0M772 539h0M265 405h0M1048 679h0M642 571h0M245 603h0M306 618h0M288 485h0M631 124h0M94 115h0M1109 322h0M189 492h0M756 654h0M149 613h0M831 352h0M58 116h0M790 596h0M399 596h0M643 511h0M772 248h0M576 662h0M849 617h0M641 305h0M988 319h0M603 237h0M257 345h0M543 655h0M465 626h0M325 530h0M206 232h0M406 279h0M44 203h0M766 391h0M485 185h0M407 646h0M1120 364h0M842 532h0M330 524h0M973 279h0M1148 347h0M1075 360h0M11 652h0M971 456h0M1049 365h0M211 132h0M754 137h0M1058 286h0M779 125h0M1162 202h0M781 339h0M1167 238h0M1152 571h0M919 137h0M1054 188h0M517 374h0M905 658h0M629 513h0M1087 689h0M1145 157h0M1064 469h0M520 359h0M44 318h0M900 276h0M52 125h0M706 427h0M132 158h0M521 342h0M482 659h0M416 426h0M514 269h0M896 437h0M92 555h0M1052 136h0M667 387h0M984 153h0M586 106h0M927 442h0M968 583h0M1130 191h0M1015 161h0M259 307h0M1047 423h0M207 619h0M11 502h0M573 211h0M733 471h0M915 657h0M200 403h0M560 156h0M766 415h0M920 108h0M244 427h0M1041 537h0M379 223h0M501 269h0M927 343h0M1072 669h0M1082 461h0M38 456h0M505 446h0M487 329h0M948 267h0M731 143h0M714 558h0M939 615h0M969 506h0M1171 389h0M355 578h0M866 383h0M854 360h0M248 263h0M830 122h0M417 574h0M361 195h0M356 622h0M705 155h0M541 155h0M670 407h0M466 352h0M977 424h0M924 460h0M947 453h0M681 105h0M811 646h0M1068 633h0M314 490h0M122 311h0M955 332h0M1046 204h0M881 577h0M109 159h0M953 386h0M661 297h0M905 308h0M768 580h0M580 378h0M324 396h0M496 468h0M856 594h0M966 397h0M492 566h0M751 467h0M820 513h0M685 221h0M717 655h0M830 344h0M1136 322h0M818 680h0M854 424h0M622 542h0M402 194h0M726 511h0M1114 105h0M967 268h0M731 627h0M8 190h0M365 147h0M71 188h0M611 589h0M705 577h0M816 358h0M545 200h0M604 254h0M1114 348h0M1085 654h0M347 647h0M952 541h0M922 321h0M127 540h0M711 231h0M188 559h0M170 204h0M574 233h0M671 537h0M740 533h0M1123 392h0M704 128h0M280 128h0M205 196h0M15 646h0M58 624h0M69 174h0M80 374h0M468 409h0M711 293h0M739 265h0M569 659h0M723 270h0M780 415h0M840 466h0M418 162h0M184 530h0M688 180h0M648 191h0M1172 635h0M1119 589h0M242 246h0M950 280h0M493 343h0M455 325h0M450 426h0M1011 516h0M33 201h0M197 119h0M527 222h0M458 596h0M70 667h0M983 564h0M812 563h0M1018 472h0M649 684h0M283 399h0M985 642h0M635 491h0M463 416h0M1026 543h0M913 350h0M237 612h0M234 263h0M499 563h0M59 307h0M746 349h0M409 403h0M780 130h0M27 560h0M1100 376h0M637 651h0M621 540h0M212 170h0M522 169h0M756 521h0M1145 379h0M189 624h0M861 359h0M999 155h0M164 678h0M109 187h0M569 274h0M186 106h0M316 356h0M151 200h0M674 118h0M640 196h0M591 642h0M829 482h0M567 596h0M490 562h0M854 264h0M1025 504h0M723 359h0M947 528h0M334 507h0M953 536h0M601 498h0M631 600h0M677 141h0M700 589h0M1168 216h0M948 242h0M142 671h0M740 437h0M927 382h0M500 539h0M236 310h0M125 539h0M1102 441h0M299 368h0M650 687h0M810 229h0M780 255h0M184 190h0M724 339h0M112 413h0M164 253h0M1046 223h0M1067 201h0M45 528h0M1097 427h0M342 443h0M621 217h0M1038 689h0M982 403h0M337 570h0M885 547h0M521 139h0M242 265h0M296 570h0M792 417h0M479 249h0M972 530h0M784 584h0M233 282h0M663 237h0M950 155h0M150 121h0M358 645h0M649 232h0M356 173h0M18 635h0M289 440h0M232 492h0M300 366h0M984 408h0M575 505h0M266 666h0M994 491h0M940 585h0M369 585h0M363 474h0M260 378h0M23 457h0M106 364h0M943 581h0M351 411h0M91 561h0M92 149h0M558 235h0M478 591h0M1087 598h0M144 480h0M536 194h0M751 341h0M363 557h0M833 597h0M471 514h0M1045 262h0M748 198h0M800 488h0M1031 275h0M766 163h0M607 300h0M774 368h0M320 212h0M602 236h0M1040 249h0M1094 147h0M779 269h0M935 267h0M252 185h0M948 337h0M851 666h0M1118 186h0M353 518h0M105 197h0M523 202h0M917 204h0M756 515h0M46 625h0M652 606h0M788 339h0M292 362h0M619 380h0M1175 484h0M856 339h0M717 428h0M152 209h0M473 578h0M654 558h0M60 268h0M317 546h0M359 372h0M414 389h0M622 151h0M539 676h0M23 444h0M510 301h0M867 315h0M131 202h0M843 377h0M399 127h0M1034 421h0M705 573h0M264 668h0M21 440h0M371 566h0M1059 413h0M618 479h0M945 326h0M153 290h0M202 650h0M225 554h0M1114 353h0M1035 661h0M160 588h0M222 658h0M696 600h0M206 664h0M742 539h0M597 650h0M887 677h0M719 642h0M808 521h0M688 639h0M797 215h0M427 611h0M842 513h0M543 335h0M789 450h0M1063 427h0M1088 213h0M931 290h0M19 662h0M132 439h0M909 649h0M495 257h0M2 405h0M103 509h0M1095 260h0M745 684h0M729 560h0M154 532h0M966 633h0M1049 118h0M1135 533h0M696 326h0M390 448h0M827 640h0M737 226h0M56 557h0M1132 567h0M539 314h0M780 359h0M1112 551h0M78 123h0M393 559h0M763 676h0M592 367h0M780 272h0M1 350h0M874 572h0M28 690h0M38 386h0M1150 270h0M932 466h0M743 590h0M935 291h0M186 552h0M356 625h0M579 204h0M327 219h0M135 121h0M734 644h0M289 546h0M383 629h0M347 234h0M508 480h0M992 651h0M344 526h0M962 616h0M480 447h0M542 515h0M542 517h0M219 121h0M764 341h0M418 212h0M603 668h0M1171 530h0M973 688h0M1098 586h0M184 106h0M794 629h0M1158 381h0M816 508h0M64 395h0M844 371h0M395 526h0M126 252h0M908 250h0M699 492h0M491 189h0M1141 264h0M706 400h0M374 687h0M535 144h0M559 548h0M512 349h0M93 223h0M1038 444h0M870 282h0M774 106h0M1123 121h0M522 622h0M717 341h0M883 371h0M908 504h0M730 629h0M229 208h0M796 211h0M186 640h0M402 523h0M513 434h0M675 263h0M1149 230h0M323 293h0M295 661h0M373 544h0M455 429h0M734 630h0M100 663h0M949 201h0M388 467h0M508 487h0M361 598h0M1155 191h0M1027 132h0M606 540h0M888 407h0M905 625h0M1073 226h0M997 136h0M969 191h0M663 230h0M32 183h0M1057 499h0M1018 557h0M823 634h0M279 111h0M448 423h0M795 615h0M253 406h0M16 186h0M990 459h0M911 274h0M1150 152h0M235 153h0M140 470h0M1006 672h0M837 542h0M1016 499h0M806 595h0M457 326h0M420 614h0M769 486h0M1051 237h0M586 342h0M750 342h0"/>
<path stroke="#fff" d="" stroke-width="0"/>
<path stroke="#fff" stroke-width="12" d="M312 190h0"/>
<path stroke="#fff" stroke-width="15" d="M12 414h0"/>
<path stroke="#fff" stroke-width="10" d="M23 297h0"/>
<path stroke="#fff" stroke-width="10" d="M18 268h0"/>
<path stroke="#fff" stroke-width="11" d="M100 528h0"/>
<path stroke="#fff" stroke-width="14" d="M1149 276h0"/>
<path stroke="#fff" stroke-width="11" d="M955 303h0"/>
<path stroke="#fff" stroke-width="12" d="M715 470h0"/>
<path stroke="#fff" stroke-width="11" d="M838 496h0"/>
<path stroke="#fff" stroke-width="9" d="M633 405h0"/>
<path stroke="#fff" stroke-width="9" d="M592 397h0"/>
<path stroke="#fff" stroke-width="9" d="M551 523h0"/>
<path stroke="#fff" stroke-width="10" d="M1032 569h0"/>
<path stroke="#fff" stroke-width="8" d="M979 461h0"/>
<path stroke="#fff" stroke-width="9" d="M662 610h0"/>
<path stroke="#fff" stroke-width="9" d="M955 628h0"/>
<path stroke="#fff" stroke-width="8" d="M229 549h0"/>
<path stroke="#fff" stroke-width="8" d="M88 449h0"/>
<path stroke="#fff" stroke-width="8" d="M293 121h0"/>
<path stroke="#fff" stroke-width="8" d="M733 133h0"/>
<path stroke="#fff" stroke-width="9" d="M791 262h0"/>
<path stroke="#fff" stroke-width="7" d="M393 147h0"/>
<path stroke="#fff" stroke-width="8" d="M674 256h0"/>
<path stroke="#fff" stroke-width="8" d="M1090 385h0"/>
<path stroke="#fff" stroke-width="9" d="M98 527h0"/>
<path stroke="#fff" stroke-width="9" d="M243 106h0"/>
</g>
<defs><linearGradient id="gl" x1="0" x2="1" y1="0" y2="0"><stop offset="0" stop-color="#000"/><stop offset="0.25" stop-color="#0a3a0a"/><stop offset="0.7" stop-color="#107010"/><stop offset="1" stop-color="#22c022"/></linearGradient></defs>
<rect x="840" y="689.3" width="337" height="2.4" fill="url(#gl)"/>
<path fill="#e81c1c" fill-rule="evenodd" d="M366 183.5h27.5v25h-27.5zM374 190.3v10.3h10.4v-10.3z"/>
<circle cx="378.5" cy="194" r="3" fill="#fff" filter="url(#sb)"/>
<g fill="#fff" stroke="#d01010" stroke-width="1.6" stroke-linejoin="miter"><path d="M1072 219V161h-7l9.5-12 9.5 12h-7v51h47v-7.5l12 11-12 11v-7.5z"/></g>
<g font-family="Liberation Sans, Arial, sans-serif" font-size="46" font-weight="bold" fill="#fff" stroke="#d01010" stroke-width="1.5"><text x="1061" y="142.5">E</text><text x="1141" y="232">N</text></g>
<rect x="110.5" y="720.5" width="926.5" height="146.5" rx="6" fill="#fff" stroke="#d2d2d2" stroke-width="2.2"/>
<g font-size="31.6" fill="#000">
<text x="209.4" y="757.0">BDBS</text>
<text x="209.4" y="803.3">PM BDBS</text>
<text x="209.4" y="849.0">Red Clump</text>
<text x="530.5" y="757.0">Sgr RRL</text>
<text x="530.5" y="803.3">AAO Giants</text>
<text x="530.5" y="849.0">AAO RV Giants</text>
<text x="912.5" y="757.0">RRL</text>
<text x="912.5" y="803.3">RV RRL</text>
</g>
<circle cx="154" cy="748" r="5.1" fill="#808080"/>
<circle cx="154" cy="794.4" r="7.2" fill="#1f77b4"/>
<g fill="#0000ff" stroke="#0000ff"><polygon stroke="none" points="153.70,827.50 156.39,835.79 165.11,835.79 158.06,840.92 160.75,849.21 153.70,844.08 146.65,849.21 149.34,840.92 142.29,835.79 151.01,835.79"/><line x1="138.5" y1="838.5" x2="169.5" y2="838.5" stroke-width="3.6" stroke-linecap="round"/><line x1="153.7" y1="823" x2="153.7" y2="853.5" stroke-width="3.6" stroke-linecap="round"/></g>
<g stroke="#800080" stroke-width="3.2" stroke-linecap="round"><line x1="459.5" y1="745.3" x2="490.5" y2="745.3"/><line x1="474.9" y1="730" x2="474.9" y2="760.5"/><line x1="464.3" y1="734.7" x2="485.5" y2="755.9"/><line x1="464.3" y1="755.9" x2="485.5" y2="734.7"/></g>
<g fill="#ffa500" stroke="#ffa500"><polygon stroke="none" points="461.8,805.2 474.9,775.7 488.2,805.2"/><line x1="460" y1="791.7" x2="490" y2="791.7" stroke-width="3"/><line x1="474.9" y1="776" x2="474.9" y2="808" stroke-width="3"/></g>
<g fill="#ff00ff" stroke="#ff00ff"><polygon stroke="none" points="461.8,824.8 488.2,824.8 474.9,852"/><line x1="460" y1="838.2" x2="490" y2="838.2" stroke-width="3"/><line x1="474.9" y1="822.5" x2="474.9" y2="852.5" stroke-width="3"/></g>
<g fill="#008000" stroke="#008000"><rect x="842.6" y="732.3" width="26.2" height="26.4" stroke="none"/><line x1="841.5" y1="745.5" x2="870" y2="745.5" stroke-width="3"/><line x1="855.7" y1="730.5" x2="855.7" y2="761" stroke-width="3"/></g>
<g fill="#ff0000" stroke="#ff0000"><circle cx="855.7" cy="792" r="13" stroke="none"/><line x1="841.5" y1="792" x2="870" y2="792" stroke-width="3"/><line x1="855.7" y1="777" x2="855.7" y2="807.5" stroke-width="3"/></g>
<defs><clipPath id="pmc"><rect x="179.7" y="903.6" width="875.3" height="568.3"/></clipPath></defs>
<g clip-path="url(#pmc)">
<path stroke="#808080" stroke-width="7" stroke-linecap="round" d="M441.7 980.2h0M391.8 986.8h0M434.0 1009.6h0M438.1 1007.3h0M453.6 1011.7h0M458.1 1015.3h0M314.6 1026.9h0M395.7 1058.1h0M365.0 1067.9h0M223.3 1069.7h0M230.8 1068.4h0M456.6 1069.1h0M409.9 1079.5h0M461.3 1081.6h0M254.9 1087.8h0M322.2 1091.4h0M358.3 1094.6h0M395.3 1090.2h0M440.6 1094.3h0M466.6 1095.9h0M469.7 1104.4h0M314.6 1106.2h0M360.4 1109.8h0M283.4 1111.2h0M450.1 1114.2h0M454.5 1116.0h0M459.0 1118.7h0M445.6 1120.8h0M339.5 1130.3h0M411.4 1129.0h0M383.6 1136.2h0M448.3 1132.9h0M449.2 1131.2h0M421.5 1139.2h0M424.6 1137.9h0M469.7 1139.2h0M279.8 1140.6h0M401.9 1144.5h0M449.2 1141.9h0M457.7 1145.4h0M465.2 1149.0h0M463.4 1152.6h0M376.1 1149.9h0M293.7 1152.9h0M309.2 1155.8h0M427.4 1151.7h0M408.2 1160.0h0M421.0 1160.6h0M256.3 1164.7h0M275.0 1165.9h0M302.1 1164.1h0M393.0 1165.0h0M398.9 1165.9h0M440.6 1164.3h0M432.8 1169.0h0M457.7 1159.7h0M458.1 1165.0h0M242.0 1173.1h0M339.5 1171.3h0M358.3 1173.9h0M360.9 1175.7h0M378.8 1172.5h0M320.8 1173.1h0M317.3 1177.5h0M312.8 1181.1h0M396.6 1177.5h0M402.8 1182.0h0M365.7 1182.0h0M376.1 1183.2h0M388.6 1184.3h0M440.2 1175.7h0M442.0 1180.2h0M447.4 1181.1h0M456.3 1179.3h0M430.4 1185.5h0M582.9 912.3h0M719.8 911.0h0M674.9 940.4h0M658.8 952.6h0M694.5 957.4h0M566.8 974.3h0M612.8 976.4h0M639.0 972.9h0M690.4 978.2h0M514.2 988.2h0M587.3 986.8h0M572.7 993.0h0M629.8 989.1h0M634.2 986.4h0M609.8 994.8h0M680.2 990.9h0M708.4 990.7h0M725.1 988.6h0M699.3 997.8h0M522.8 1006.0h0M581.3 1003.7h0M687.2 1002.3h0M548.1 1014.9h0M572.9 1012.1h0M616.0 1010.3h0M671.6 1014.4h0M683.8 1015.3h0M700.2 1010.5h0M744.7 1010.0h0M749.2 1013.2h0M668.1 1021.5h0M650.3 1017.4h0M635.1 1026.4h0M579.8 1031.0h0M603.0 1033.7h0M691.3 1028.1h0M701.9 1026.0h0M705.5 1028.7h0M707.3 1033.1h0M723.3 1027.8h0M730.5 1033.1h0M730.1 1039.4h0M742.1 1027.8h0M742.1 1032.2h0M759.0 1035.3h0M664.2 1036.3h0M668.4 1037.9h0M598.9 1043.5h0M632.4 1039.4h0M638.7 1043.8h0M643.1 1040.3h0M648.5 1043.8h0M654.2 1042.9h0M682.9 1041.7h0M702.8 1042.6h0M716.2 1039.7h0M580.4 1050.1h0M589.1 1050.1h0M614.6 1051.0h0M612.8 1056.3h0M624.9 1053.1h0M643.1 1054.5h0M643.1 1059.9h0M642.8 1064.3h0M660.6 1056.3h0M697.5 1051.0h0M728.3 1055.9h0M755.4 1049.2h0M760.8 1053.6h0M554.0 1054.2h0M553.1 1058.1h0M511.2 1059.9h0M483.6 1062.5h0M490.7 1062.2h0M522.4 1064.3h0M538.8 1065.2h0M539.7 1071.4h0M545.1 1073.8h0M550.4 1073.2h0M653.5 1065.2h0M651.1 1070.6h0M680.2 1063.4h0M685.9 1063.8h0M697.5 1063.4h0M700.2 1068.8h0M685.0 1073.2h0M618.2 1071.4h0M625.3 1074.1h0M629.8 1074.1h0M737.2 1070.6h0M753.6 1070.6h0M759.0 1074.1h0M762.6 1076.8h0M484.8 1074.1h0M497.0 1079.1h0M721.2 1075.5h0M746.5 1077.3h0M737.2 1080.4h0M536.5 1081.3h0M586.1 1080.9h0M566.5 1083.9h0M571.8 1081.3h0M650.3 1082.1h0M654.7 1081.3h0M644.0 1086.6h0M708.7 1079.5h0M705.5 1083.9h0M682.9 1083.4h0M490.7 1086.2h0M672.5 1086.6h0M677.0 1091.9h0M698.4 1090.2h0M701.9 1091.9h0M714.4 1088.4h0M721.6 1089.3h0M733.1 1089.3h0M739.4 1090.2h0M749.2 1088.4h0M582.9 1090.2h0M589.6 1095.2h0M609.3 1087.5h0M616.4 1087.5h0M620.0 1091.9h0M611.0 1091.9h0M614.6 1098.2h0M623.5 1095.5h0M625.3 1100.9h0M614.6 1106.2h0M621.7 1106.2h0M682.9 1088.4h0M687.0 1094.6h0M502.3 1095.2h0M507.7 1099.1h0M513.4 1100.0h0M531.4 1094.6h0M528.7 1102.6h0M550.4 1102.6h0M559.3 1100.9h0M575.4 1100.9h0M580.7 1100.9h0M602.7 1100.0h0M635.1 1104.4h0M639.6 1095.5h0M646.7 1096.4h0M652.0 1095.5h0M661.3 1096.4h0M672.5 1107.1h0M678.8 1111.6h0M679.7 1116.9h0M694.8 1108.9h0M701.9 1098.2h0M703.7 1104.4h0M706.9 1106.2h0M719.8 1109.8h0M725.1 1106.2h0M730.5 1107.1h0M737.6 1100.9h0M746.5 1098.2h0M750.1 1099.1h0M498.7 1105.9h0M505.0 1107.1h0M511.2 1112.4h0M518.0 1120.1h0M525.5 1116.0h0M528.7 1113.3h0M537.1 1115.1h0M553.5 1117.8h0M576.3 1113.0h0M586.1 1117.8h0M589.6 1122.3h0M595.0 1128.5h0M604.8 1122.8h0M618.2 1115.1h0M618.2 1121.4h0M635.1 1116.0h0M636.0 1112.4h0M647.6 1102.6h0M648.5 1108.0h0M660.9 1106.2h0M661.8 1110.7h0M701.9 1115.1h0M751.9 1116.0h0M762.6 1113.3h0M495.2 1119.6h0M547.8 1128.0h0M558.5 1130.3h0M572.7 1125.5h0M579.0 1130.3h0M611.0 1134.7h0M628.9 1130.3h0M627.1 1133.8h0M649.4 1132.1h0M652.0 1136.5h0M660.9 1125.8h0M664.5 1124.0h0M671.6 1132.9h0M676.1 1136.5h0M679.7 1138.3h0M688.6 1129.4h0M697.5 1123.1h0M696.6 1132.9h0M710.9 1128.5h0M714.4 1123.1h0M725.1 1134.7h0M728.7 1132.9h0M749.2 1132.9h0M758.1 1135.6h0M488.9 1142.8h0M537.1 1138.7h0M528.1 1146.3h0M543.3 1144.5h0M544.2 1150.8h0M566.5 1142.8h0M570.9 1142.8h0M580.7 1138.3h0M586.1 1143.6h0M583.4 1149.0h0M609.3 1143.6h0M620.0 1150.8h0M625.3 1147.2h0M632.4 1152.6h0M643.1 1149.9h0M654.7 1141.9h0M657.4 1145.4h0M665.4 1141.9h0M668.1 1149.0h0M675.2 1143.6h0M680.6 1150.8h0M685.9 1149.0h0M693.0 1145.4h0M689.5 1152.6h0M705.5 1152.6h0M710.9 1150.8h0M718.0 1149.0h0M721.6 1154.3h0M725.1 1150.8h0M728.7 1156.1h0M718.0 1159.7h0M714.4 1156.1h0M742.9 1146.3h0M755.4 1149.0h0M762.6 1153.4h0M478.2 1150.8h0M486.3 1153.4h0M492.5 1159.7h0M502.3 1156.1h0M530.8 1153.4h0M541.5 1159.7h0M601.2 1160.6h0M611.0 1157.0h0M626.2 1159.7h0M642.2 1159.7h0M657.4 1162.4h0M668.1 1157.0h0M672.5 1163.2h0M701.9 1165.9h0M730.5 1164.1h0M743.8 1165.9h0M759.0 1163.2h0M528.1 1163.2h0M533.5 1162.4h0M653.8 1170.4h0M659.2 1172.2h0M682.3 1172.2h0M687.7 1171.3h0M698.4 1176.6h0M703.7 1177.5h0M718.0 1171.3h0M750.1 1177.5h0M726.9 1178.4h0M662.7 1181.1h0M671.6 1184.6h0M739.4 1184.6h0M760.8 1182.9h0M923.5 964.9h0M851.3 975.2h0M850.5 983.2h0M816.6 982.3h0M792.0 989.5h0M902.1 1002.3h0M863.3 1007.6h0M776.1 1018.0h0M785.9 1026.9h0M817.8 1029.0h0M919.1 1028.8h0M825.5 1037.6h0M829.1 1041.1h0M827.8 1046.5h0M791.6 1043.8h0M800.2 1043.8h0M769.0 1049.5h0M797.9 1053.3h0M808.2 1052.7h0M816.9 1058.1h0M895.4 1038.5h0M963.3 1043.5h0M858.8 1056.3h0M858.8 1064.3h0M895.9 1057.7h0M911.1 1064.7h0M788.1 1067.9h0M778.6 1071.4h0M822.5 1069.3h0M819.3 1076.8h0M823.4 1084.8h0M764.0 1076.8h0M797.9 1089.3h0M802.3 1085.2h0M860.6 1099.1h0M1001.1 1100.9h0M792.0 1107.6h0M829.1 1108.5h0M879.0 1109.8h0M876.3 1109.4h0M766.7 1111.6h0M766.1 1116.0h0M944.9 1114.8h0M813.0 1113.3h0M817.5 1117.8h0M776.1 1121.4h0M774.7 1126.7h0M791.6 1123.1h0M790.7 1129.4h0M805.9 1124.0h0M804.1 1130.3h0M909.8 1123.7h0M850.5 1133.5h0M884.9 1136.2h0M820.7 1134.7h0M825.5 1136.5h0M830.0 1137.4h0M802.9 1140.6h0M785.0 1145.1h0M898.0 1139.7h0M895.9 1148.6h0M770.2 1149.0h0M772.0 1154.3h0M843.3 1148.1h0M840.6 1151.7h0M836.7 1157.5h0M856.7 1156.5h0M917.7 1158.3h0M957.9 1153.4h0M983.6 1145.4h0M995.7 1149.3h0M842.1 1163.2h0M786.3 1165.0h0M776.1 1166.5h0M774.7 1170.4h0M800.5 1170.4h0M817.1 1170.0h0M860.3 1173.9h0M856.7 1179.3h0M843.9 1178.4h0M813.0 1180.2h0M871.8 1180.2h0M876.3 1183.7h0M889.7 1178.4h0M934.2 1184.3h0M765.4 1180.2h0M781.8 1185.0h0M836.2 1186.1h0M307.5 1190.7h0M343.6 1194.8h0M362.7 1190.7h0M279.3 1198.7h0M422.8 1190.1h0M430.4 1188.9h0M445.2 1196.0h0M457.2 1189.8h0M239.2 1216.2h0M281.1 1212.6h0M328.8 1220.1h0M356.5 1204.4h0M355.6 1213.8h0M360.0 1216.5h0M380.0 1213.3h0M391.2 1216.5h0M386.8 1220.1h0M380.5 1221.9h0M364.5 1224.5h0M373.4 1227.2h0M419.8 1203.2h0M411.7 1214.7h0M431.3 1213.8h0M434.9 1213.0h0M441.1 1205.8h0M445.6 1207.6h0M445.6 1213.0h0M459.9 1207.6h0M461.6 1211.2h0M468.8 1204.0h0M452.7 1217.4h0M458.1 1221.9h0M466.1 1214.7h0M468.8 1223.7h0M465.2 1230.8h0M402.8 1222.8h0M407.3 1225.4h0M409.9 1228.1h0M401.0 1226.3h0M416.2 1225.8h0M429.6 1222.8h0M426.0 1229.0h0M433.1 1229.0h0M448.3 1228.1h0M287.5 1230.4h0M285.5 1237.0h0M394.8 1236.1h0M398.4 1238.8h0M437.0 1236.1h0M331.5 1240.0h0M235.3 1250.4h0M344.0 1250.4h0M351.1 1249.5h0M368.1 1249.1h0M409.1 1244.7h0M429.6 1242.0h0M456.3 1242.4h0M443.8 1248.6h0M447.4 1254.0h0M442.0 1252.2h0M467.0 1246.8h0M463.4 1254.0h0M461.6 1257.5h0M403.7 1252.2h0M404.6 1258.4h0M413.5 1252.2h0M419.8 1251.3h0M217.1 1258.9h0M336.5 1261.4h0M385.9 1257.9h0M393.0 1260.2h0M372.5 1263.4h0M433.1 1261.4h0M259.3 1267.3h0M297.6 1271.4h0M310.5 1272.3h0M364.5 1271.8h0M369.8 1271.8h0M401.9 1266.4h0M406.4 1271.8h0M444.7 1268.2h0M450.9 1271.8h0M449.2 1275.3h0M458.1 1268.2h0M459.9 1275.3h0M467.9 1278.9h0M222.8 1282.8h0M307.5 1281.6h0M385.3 1283.0h0M426.9 1278.0h0M424.2 1284.3h0M433.1 1285.1h0M426.9 1291.4h0M336.0 1287.3h0M346.7 1291.7h0M288.4 1294.1h0M301.2 1296.2h0M327.6 1295.3h0M399.3 1287.8h0M402.8 1293.2h0M408.2 1296.7h0M404.6 1300.3h0M417.1 1297.6h0M443.8 1297.1h0M456.3 1293.2h0M458.1 1298.5h0M459.9 1303.0h0M466.1 1303.5h0M256.6 1301.7h0M385.0 1300.7h0M398.4 1303.0h0M401.0 1306.5h0M319.9 1303.9h0M334.7 1308.7h0M447.4 1307.8h0M352.5 1315.8h0M406.7 1314.6h0M463.8 1316.7h0M311.0 1320.8h0M293.5 1326.1h0M386.8 1330.1h0M411.7 1329.4h0M467.3 1326.1h0M468.8 1330.6h0M308.3 1333.8h0M437.6 1336.8h0M442.9 1341.3h0M452.7 1334.2h0M459.0 1340.9h0M412.6 1342.2h0M412.6 1346.6h0M374.3 1354.7h0M401.0 1355.2h0M329.4 1368.9h0M330.6 1380.2h0M344.0 1380.0h0M331.5 1393.0h0M353.8 1396.2h0M384.1 1384.1h0M393.9 1389.1h0M370.7 1400.5h0M422.4 1385.9h0M443.5 1386.8h0M463.8 1376.1h0M389.4 1414.7h0M288.4 1460.4h0M657.4 1190.7h0M668.1 1195.1h0M682.3 1191.6h0M684.1 1202.3h0M675.2 1207.6h0M664.5 1214.7h0M668.1 1223.7h0M671.6 1230.8h0M669.9 1238.8h0M696.6 1216.5h0M701.9 1217.4h0M709.1 1218.3h0M716.2 1221.0h0M721.6 1225.4h0M719.8 1230.8h0M700.2 1205.8h0M707.3 1196.9h0M712.6 1205.8h0M721.6 1195.1h0M728.7 1200.5h0M731.4 1191.6h0M730.5 1213.0h0M732.2 1216.5h0M730.5 1226.3h0M744.7 1195.1h0M751.9 1198.7h0M746.5 1207.6h0M760.8 1209.4h0M680.6 1235.2h0M685.9 1236.1h0M693.0 1236.1h0M714.4 1241.5h0M722.4 1241.5h0M652.0 1244.1h0M660.1 1250.0h0M705.5 1250.0h0M693.0 1254.8h0M698.4 1255.7h0M709.1 1260.2h0M714.4 1256.6h0M730.5 1254.8h0M742.9 1245.0h0M744.7 1250.4h0M739.4 1255.7h0M760.8 1234.3h0M762.6 1241.5h0M657.4 1257.5h0M662.7 1258.4h0M669.9 1262.9h0M677.0 1264.6h0M678.8 1267.3h0M693.0 1266.4h0M734.0 1264.6h0M737.6 1270.0h0M741.2 1275.3h0M739.4 1278.9h0M759.0 1259.3h0M757.2 1270.0h0M760.8 1273.6h0M652.0 1270.0h0M661.8 1279.8h0M673.4 1278.9h0M673.4 1285.1h0M671.6 1290.5h0M653.8 1284.3h0M685.9 1277.1h0M688.6 1287.8h0M694.8 1280.7h0M696.6 1291.4h0M719.8 1280.7h0M718.0 1289.6h0M723.3 1291.4h0M721.6 1296.7h0M721.6 1302.1h0M757.2 1284.3h0M678.8 1298.5h0M708.2 1300.3h0M736.7 1299.9h0M756.3 1304.8h0M657.4 1293.2h0M665.4 1305.6h0M684.1 1311.0h0M687.7 1316.3h0M691.3 1319.9h0M694.8 1313.7h0M704.6 1313.7h0M727.8 1313.7h0M671.6 1321.7h0M677.0 1323.5h0M675.2 1325.3h0M663.6 1328.8h0M693.9 1331.5h0M729.6 1328.8h0M740.3 1326.7h0M719.8 1334.2h0M719.8 1339.5h0M734.0 1335.1h0M748.3 1342.2h0M661.8 1341.3h0M668.1 1348.4h0M669.9 1354.7h0M678.8 1351.1h0M705.5 1351.1h0M712.6 1351.1h0M723.3 1353.8h0M734.9 1349.3h0M704.6 1365.4h0M726.9 1362.7h0M653.8 1371.6h0M665.4 1370.7h0M685.9 1412.6h0M693.9 1413.5h0M706.9 1409.9h0M713.5 1443.8h0M729.6 1450.0h0M628.0 1294.1h0M639.6 1297.6h0M636.0 1305.6h0M644.5 1311.9h0M631.5 1314.6h0M625.3 1321.7h0M609.3 1322.6h0M616.4 1320.8h0M640.4 1325.3h0M645.8 1334.2h0M629.8 1332.4h0M625.3 1343.1h0M623.5 1349.3h0M644.0 1346.6h0M619.1 1284.3h0M620.0 1288.7h0M618.2 1301.2h0M606.6 1305.3h0M579.0 1296.7h0M575.4 1302.1h0M579.0 1309.2h0M584.3 1311.0h0M587.9 1307.4h0M595.0 1311.0h0M579.0 1314.6h0M580.7 1319.0h0M554.0 1297.6h0M555.8 1303.9h0M552.2 1309.2h0M557.6 1312.8h0M559.3 1319.0h0M590.5 1286.9h0M554.9 1286.9h0M557.6 1290.5h0M603.9 1262.0h0M613.7 1367.1h0M588.8 1368.0h0M595.9 1376.1h0M564.7 1371.6h0M568.3 1375.2h0M572.7 1383.2h0M553.1 1375.2h0M551.3 1351.1h0M556.7 1359.1h0M563.8 1355.6h0M537.1 1385.9h0M628.9 1401.9h0M638.7 1404.6h0M648.5 1396.6h0M596.8 1453.6h0M561.1 1456.3h0M473.8 1204.0h0M472.9 1213.0h0M495.2 1241.5h0M476.5 1292.3h0M481.8 1300.3h0M488.0 1306.5h0M475.6 1308.3h0M495.2 1290.5h0M503.2 1286.9h0M505.0 1295.0h0M530.8 1307.4h0M491.6 1319.9h0M497.0 1320.8h0M524.6 1323.5h0M533.5 1326.1h0M514.8 1335.1h0M518.3 1337.7h0M530.8 1340.4h0M529.0 1346.6h0M504.1 1347.5h0M474.7 1336.0h0M480.9 1343.1h0M485.4 1349.3h0M476.5 1384.1h0M488.9 1384.1h0M476.5 1394.8h0M489.8 1410.8h0M502.3 1409.9h0M525.5 1415.3h0M530.5 1426.0h0M472.9 1275.3h0M779.2 1194.2h0M781.8 1188.9h0M805.5 1193.7h0M836.7 1188.9h0M853.1 1190.7h0M850.1 1199.6h0M871.3 1198.3h0M894.1 1195.5h0M934.6 1188.0h0M768.5 1204.0h0M802.0 1202.3h0M810.3 1206.2h0M821.4 1208.0h0M830.8 1202.3h0M833.5 1197.8h0M767.6 1214.7h0M773.8 1214.7h0M777.4 1217.9h0M791.6 1212.1h0M788.1 1218.3h0M792.5 1222.8h0M797.9 1225.4h0M805.0 1213.0h0M807.7 1215.6h0M856.7 1214.2h0M879.5 1214.7h0M891.8 1215.1h0M904.8 1211.2h0M913.4 1209.4h0M821.4 1223.7h0M846.5 1228.1h0M831.4 1230.4h0M825.5 1237.0h0M909.8 1229.4h0M898.0 1238.4h0M764.9 1235.2h0M764.9 1239.7h0M772.9 1241.1h0M789.3 1238.8h0M927.6 1242.9h0M934.8 1250.0h0M835.3 1244.7h0M769.3 1245.0h0M771.1 1249.5h0M776.5 1252.2h0M785.4 1248.6h0M797.0 1246.8h0M805.4 1248.1h0M787.2 1254.8h0M792.5 1254.8h0M796.1 1257.5h0M795.7 1261.1h0M867.7 1250.0h0M872.7 1254.0h0M878.1 1256.6h0M885.2 1258.4h0M888.8 1254.8h0M832.6 1255.7h0M894.5 1263.8h0M915.9 1263.8h0M764.0 1259.3h0M765.8 1269.6h0M774.7 1270.0h0M787.2 1275.9h0M776.1 1279.8h0M837.4 1272.1h0M827.8 1277.1h0M854.0 1279.3h0M859.4 1278.9h0M872.4 1270.0h0M858.1 1289.2h0M995.7 1283.4h0M766.7 1289.6h0M775.6 1291.0h0M782.7 1292.3h0M787.2 1285.7h0M803.6 1292.3h0M942.3 1293.2h0M986.8 1300.3h0M984.1 1303.9h0M821.9 1301.5h0M814.8 1307.8h0M836.2 1302.4h0M953.8 1306.5h0M888.4 1311.4h0M848.1 1319.9h0M863.8 1318.1h0M901.3 1324.4h0M980.0 1325.3h0M790.7 1333.3h0M799.1 1329.7h0M810.0 1332.0h0M827.3 1327.9h0M827.3 1333.3h0M816.2 1341.3h0M880.4 1331.5h0M944.9 1333.8h0M869.7 1363.2h0M865.6 1370.7h0M862.9 1373.4h0M852.6 1378.7h0M803.2 1369.8h0M796.1 1379.6h0M807.1 1399.8h0M772.0 1421.9h0M822.8 1448.2h0"/>
<path stroke="#1f77b4" stroke-width="8.6" stroke-linecap="round" d="M587.5 1276.8h0M613.4 1190.8h0M531.6 1273.8h0M617.1 1221.9h0M532.1 1197.6h0M523.8 1219.0h0M566.8 1232.8h0M587.0 1288.6h0M517.0 1182.5h0M585.4 1167.6h0M486.1 1227.9h0M560.2 1279.4h0M588.2 1227.8h0M565.5 1193.7h0M599.0 1187.7h0M543.6 1162.5h0M622.8 1181.8h0M526.0 1274.7h0M567.7 1270.4h0M590.0 1256.9h0M495.7 1231.3h0M567.3 1273.5h0M542.1 1238.6h0M490.2 1211.6h0M535.6 1181.2h0M620.4 1210.6h0M648.3 1237.5h0M584.1 1243.7h0M596.3 1181.3h0M555.7 1192.7h0M549.2 1174.4h0M595.5 1200.5h0M630.3 1246.8h0M502.6 1270.2h0M578.0 1180.6h0M513.1 1280.8h0M575.0 1185.1h0M632.1 1244.1h0M578.0 1210.2h0M550.7 1192.7h0M560.4 1232.1h0M535.4 1258.2h0M484.3 1209.6h0M646.3 1246.2h0M553.7 1229.0h0M630.1 1206.1h0M581.5 1249.5h0M541.1 1228.4h0M611.6 1278.4h0M506.0 1281.5h0M619.4 1179.5h0M552.1 1266.4h0M482.5 1242.4h0M616.4 1227.7h0M604.8 1191.0h0M514.1 1208.5h0M510.9 1206.3h0M643.1 1235.4h0M538.5 1196.8h0M643.8 1218.9h0M648.6 1228.0h0M569.6 1276.8h0M607.8 1236.3h0M553.4 1274.4h0M550.8 1280.1h0M491.8 1217.0h0M569.4 1283.7h0M523.2 1265.2h0M596.4 1253.8h0M588.3 1286.4h0M537.2 1213.0h0M514.9 1168.5h0M516.6 1279.2h0M624.5 1176.4h0M583.8 1223.3h0M582.3 1246.4h0M532.7 1285.1h0M560.1 1242.4h0M589.3 1185.5h0M490.6 1214.7h0M611.4 1266.3h0M605.6 1176.5h0M637.1 1264.7h0M631.0 1229.0h0M523.5 1193.8h0M512.3 1234.6h0M486.7 1237.6h0M508.6 1248.8h0M483.6 1201.8h0M641.4 1230.9h0M619.6 1246.2h0M585.0 1186.5h0M578.8 1167.1h0M617.9 1284.9h0M538.2 1202.7h0M499.4 1242.2h0M617.2 1202.2h0M628.4 1264.0h0M502.2 1260.2h0M631.8 1187.3h0M578.7 1243.8h0M584.8 1174.3h0M593.7 1242.9h0M621.7 1264.8h0M536.3 1254.4h0M629.2 1276.3h0M591.9 1189.5h0M577.0 1282.9h0M545.2 1194.4h0M558.5 1246.1h0M497.4 1210.7h0M503.0 1246.8h0M622.9 1210.2h0M543.9 1231.1h0M517.0 1193.7h0M536.7 1220.6h0M494.0 1258.3h0M579.6 1200.4h0M493.3 1259.7h0M502.5 1179.1h0M502.5 1172.4h0M635.9 1196.5h0M532.7 1268.6h0M586.6 1186.0h0M554.8 1275.1h0M544.6 1253.0h0M496.7 1255.1h0M613.6 1267.7h0M596.0 1209.5h0M491.0 1228.4h0M610.3 1186.4h0M525.8 1230.6h0M608.7 1276.8h0M501.6 1185.6h0M617.5 1244.5h0M613.7 1212.6h0M590.3 1185.6h0M610.6 1259.0h0M604.1 1218.9h0M545.0 1215.7h0M573.3 1211.6h0M574.3 1254.4h0M545.6 1268.3h0M638.1 1211.6h0M503.7 1259.3h0M602.6 1267.6h0M500.1 1184.6h0M578.9 1219.1h0M609.1 1186.4h0M637.3 1189.8h0M612.3 1170.7h0M561.4 1166.2h0M534.0 1202.0h0M603.8 1220.2h0M522.4 1212.4h0M519.1 1178.0h0M485.7 1226.4h0M501.2 1184.6h0M628.0 1224.0h0M511.6 1247.7h0M525.7 1229.4h0M528.7 1228.1h0M588.1 1230.6h0M548.0 1263.2h0M630.2 1185.0h0M503.4 1176.5h0M519.7 1286.1h0M515.7 1226.8h0M565.6 1279.1h0M487.0 1202.4h0M583.2 1170.5h0M520.7 1221.5h0M631.5 1259.4h0M622.6 1259.4h0M601.7 1270.8h0M597.2 1256.2h0M531.9 1183.5h0M610.1 1183.2h0M638.1 1238.4h0M536.7 1281.9h0M506.7 1227.9h0M579.0 1264.9h0M528.5 1264.6h0M600.9 1244.4h0M643.5 1217.5h0M551.4 1250.6h0M623.6 1204.9h0M595.2 1188.8h0M574.9 1260.5h0M491.2 1255.2h0M560.6 1214.4h0M603.9 1229.0h0M605.7 1172.8h0M576.8 1233.4h0M557.9 1242.8h0M574.7 1171.5h0M582.0 1190.4h0M513.6 1274.5h0M514.0 1220.1h0M609.0 1252.5h0M575.2 1265.3h0M560.1 1241.4h0M620.9 1248.8h0M590.4 1214.0h0M576.0 1212.7h0M608.0 1210.7h0M560.3 1258.7h0M566.6 1205.3h0M622.2 1210.8h0M625.3 1262.5h0M556.9 1253.3h0M485.9 1211.9h0M628.0 1236.2h0M575.9 1247.1h0M596.6 1236.7h0M552.3 1185.5h0M530.3 1199.5h0M554.1 1289.9h0M540.6 1219.3h0M543.9 1236.4h0M544.9 1196.2h0M632.1 1225.2h0M597.9 1171.4h0M629.0 1202.1h0M565.1 1187.3h0M552.3 1268.0h0M622.3 1222.6h0M612.1 1220.6h0M544.2 1231.9h0M514.6 1202.5h0M601.5 1260.6h0M489.8 1255.8h0M620.6 1219.0h0M490.7 1249.4h0M522.3 1244.3h0M544.8 1243.6h0M524.4 1223.0h0M570.2 1242.8h0M514.9 1285.1h0M529.7 1201.2h0M524.1 1170.6h0M552.7 1260.8h0M602.0 1187.0h0M503.6 1203.1h0M612.1 1224.5h0M638.8 1246.0h0M586.8 1260.3h0M609.0 1206.0h0M524.2 1218.0h0M564.2 1180.1h0M555.9 1243.9h0M503.3 1179.7h0M509.9 1198.3h0M511.6 1183.1h0M561.6 1163.9h0M558.8 1182.9h0M526.4 1263.4h0M511.7 1241.0h0M549.9 1215.5h0M620.5 1182.6h0M595.0 1168.3h0M594.1 1238.8h0M612.8 1189.4h0M499.7 1202.3h0M585.3 1247.2h0"/>
<polygon fill="#ffa500" points="465.10,1168.45 455.85,1186.95 474.35,1186.95"/>
<polygon fill="#ffa500" points="515.30,1159.55 506.05,1178.05 524.55,1178.05"/>
<polygon fill="#ffa500" points="501.60,1171.95 492.35,1190.45 510.85,1190.45"/>
<polygon fill="#ffa500" points="508.40,1185.75 499.15,1204.25 517.65,1204.25"/>
<polygon fill="#ffa500" points="557.30,1143.05 548.05,1161.55 566.55,1161.55"/>
<polygon fill="#ffa500" points="555.20,1162.35 545.95,1180.85 564.45,1180.85"/>
<polygon fill="#ffa500" points="553.20,1174.75 543.95,1193.25 562.45,1193.25"/>
<polygon fill="#ffa500" points="593.80,1185.75 584.55,1204.25 603.05,1204.25"/>
<polygon fill="#ffa500" points="602.00,1187.05 592.75,1205.55 611.25,1205.55"/>
<polygon fill="#ffa500" points="652.90,1192.55 643.65,1211.05 662.15,1211.05"/>
<polygon fill="#ffa500" points="663.90,1193.95 654.65,1212.45 673.15,1212.45"/>
<polygon fill="#ffa500" points="553.80,1204.95 544.55,1223.45 563.05,1223.45"/>
<polygon fill="#ffa500" points="564.20,1200.85 554.95,1219.35 573.45,1219.35"/>
<polygon fill="#ffa500" points="581.40,1203.55 572.15,1222.05 590.65,1222.05"/>
<polygon fill="#ffa500" points="591.00,1204.95 581.75,1223.45 600.25,1223.45"/>
<polygon fill="#ffa500" points="555.20,1214.55 545.95,1233.05 564.45,1233.05"/>
<polygon fill="#ffa500" points="583.40,1214.55 574.15,1233.05 592.65,1233.05"/>
<polygon fill="#ffa500" points="626.80,1213.25 617.55,1231.75 636.05,1231.75"/>
<polygon fill="#ffa500" points="603.40,1222.85 594.15,1241.35 612.65,1241.35"/>
<polygon fill="#ffa500" points="619.90,1235.25 610.65,1253.75 629.15,1253.75"/>
<polygon fill="#ffa500" points="527.70,1222.85 518.45,1241.35 536.95,1241.35"/>
<polygon fill="#ffa500" points="540.10,1229.75 530.85,1248.25 549.35,1248.25"/>
<polygon fill="#ffa500" points="526.30,1233.85 517.05,1252.35 535.55,1252.35"/>
<polygon fill="#ffa500" points="556.60,1237.95 547.35,1256.45 565.85,1256.45"/>
<polygon fill="#ffa500" points="540.10,1242.15 530.85,1260.65 549.35,1260.65"/>
<polygon fill="#ffa500" points="581.40,1239.35 572.15,1257.85 590.65,1257.85"/>
<polygon fill="#ffa500" points="474.70,1250.35 465.45,1268.85 483.95,1268.85"/>
<polygon fill="#ffa500" points="501.60,1249.05 492.35,1267.55 510.85,1267.55"/>
<polygon fill="#ffa500" points="509.80,1257.25 500.55,1275.75 519.05,1275.75"/>
<polygon fill="#ffa500" points="538.70,1255.85 529.45,1274.35 547.95,1274.35"/>
<polygon fill="#ffa500" points="540.10,1265.55 530.85,1284.05 549.35,1284.05"/>
<polygon fill="#ffa500" points="644.70,1249.05 635.45,1267.55 653.95,1267.55"/>
<polygon fill="#ffa500" points="570.40,1273.75 561.15,1292.25 579.65,1292.25"/>
<polygon fill="#ffa500" points="519.40,1283.45 510.15,1301.95 528.65,1301.95"/>
<polygon fill="#ffa500" points="607.50,1282.05 598.25,1300.55 616.75,1300.55"/>
<polygon fill="#ffa500" points="663.90,1286.15 654.65,1304.65 673.15,1304.65"/>
<polygon fill="#ff00ff" points="484.40,1191.15 475.15,1172.65 493.65,1172.65"/>
<polygon fill="#ff00ff" points="509.80,1190.45 500.55,1171.95 519.05,1171.95"/>
<polygon fill="#ff00ff" points="582.70,1173.95 573.45,1155.45 591.95,1155.45"/>
<polygon fill="#ff00ff" points="613.00,1224.85 603.75,1206.35 622.25,1206.35"/>
<circle fill="#ff0000" cx="510.5" cy="1140.6" r="9"/>
<circle fill="#ff0000" cx="475.4" cy="1168.1" r="9"/>
<circle fill="#ff0000" cx="510.0" cy="1317.4" r="9"/>
<rect fill="#008000" x="804.2" y="958.4" width="17.6" height="17.6"/>
<rect fill="#008000" x="821.2" y="954.8" width="17.6" height="17.6"/>
<rect fill="#008000" x="770.9" y="1075.1" width="17.6" height="17.6"/>
<rect fill="#008000" x="965.5" y="1145.9" width="17.6" height="17.6"/>
<rect fill="#008000" x="412.7" y="1082.7" width="17.6" height="17.6"/>
<rect fill="#008000" x="639.7" y="1016.7" width="17.6" height="17.6"/>
<polygon fill="#0000ff" points="907.50,1125.00 909.36,1130.74 915.39,1130.74 910.52,1134.28 912.38,1140.01 907.50,1136.47 902.62,1140.01 904.48,1134.28 899.61,1130.74 905.64,1130.74"/>
<polygon fill="#0000ff" points="888.20,1149.20 890.06,1154.94 896.09,1154.94 891.22,1158.48 893.08,1164.21 888.20,1160.67 883.32,1164.21 885.18,1158.48 880.31,1154.94 886.34,1154.94"/>
<g stroke="#800080" stroke-width="2.6" stroke-linecap="butt"><line x1="458.2" y1="1125.5" x2="495.4" y2="1125.5"/><line x1="476.1" y1="1116.0" x2="476.1" y2="1135.0"/><line x1="469.4" y1="1118.8" x2="482.8" y2="1132.2"/><line x1="469.4" y1="1132.2" x2="482.8" y2="1118.8"/></g>
</g>
<rect x="179.7" y="903.6" width="875.3" height="568.3" fill="none" stroke="#333" stroke-width="2"/>
<path stroke="#333" stroke-width="2" fill="none" d="M179.7 1471.9v9.6M289.1 1471.9v9.6M398.5 1471.9v9.6M507.9 1471.9v9.6M617.3 1471.9v9.6M726.8 1471.9v9.6M836.2 1471.9v9.6M945.6 1471.9v9.6M1055.0 1471.9v9.6M179.7 1471.9h-9.6M179.7 1396.1h-9.6M179.7 1320.4h-9.6M179.7 1244.6h-9.6M179.7 1168.8h-9.6M179.7 1093.0h-9.6M179.7 1017.3h-9.6M179.7 941.5h-9.6"/>
<g font-size="26.5" fill="#111" text-anchor="middle">
<text x="179.7" y="1510.8">−10</text>
<text x="289.1" y="1510.8">−8</text>
<text x="398.5" y="1510.8">−6</text>
<text x="507.9" y="1510.8">−4</text>
<text x="617.3" y="1510.8">−2</text>
<text x="726.8" y="1510.8">0</text>
<text x="836.2" y="1510.8">2</text>
<text x="945.6" y="1510.8">4</text>
<text x="1055.0" y="1510.8">6</text>
</g><g font-size="26.5" fill="#111" text-anchor="end">
<text x="160.7" y="1481.5">−12</text>
<text x="160.7" y="1405.7">−10</text>
<text x="160.7" y="1330.0">−8</text>
<text x="160.7" y="1254.2">−6</text>
<text x="160.7" y="1178.4">−4</text>
<text x="160.7" y="1102.6">−2</text>
<text x="160.7" y="1026.9">0</text>
<text x="160.7" y="951.1">2</text>
</g>
<g fill="#111" transform="translate(507.8 1556.5)"><text x="0.51" y="0" font-size="39.5" font-style="italic">μ</text><text x="23.76" y="7.5" font-size="27.6" font-style="italic">α</text><text x="55.3" y="0" font-size="39.5">(mas yr</text><text x="210.2" y="-17.8" font-size="20.5">−1</text><text x="239.9" y="0" font-size="39.5">)</text></g>
<g fill="#111" transform="translate(86.4 1297) rotate(-90)"><text x="0.51" y="0" font-size="39.5" font-style="italic">μ</text><text x="24.20" y="7.5" font-size="27.6" font-style="italic">δ</text><text x="55.3" y="0" font-size="39.5">(mas yr</text><text x="210.2" y="-17.8" font-size="20.5">−1</text><text x="239.9" y="0" font-size="39.5">)</text></g>
<defs><clipPath id="cmc"><rect x="1331.2" y="9.8" width="697.0" height="1492.4"/></clipPath></defs>
<g clip-path="url(#cmc)">
<path stroke="#808080" stroke-width="7.8" stroke-linecap="round" d="M1830.8 267.3h0M1807.9 354.3h0M1839.7 353.7h0M1781.8 368.9h0M1781.8 414.5h0M1751.4 440.7h0M1715.3 448.8h0M1803.6 464.5h0M1855.4 481.0h0M2005.3 423.2h0M1649.8 511.8h0M1715.3 537.0h0M1752.1 524.1h0M1703.0 566.8h0M1832.6 570.3h0M1700.6 590.3h0M1735.6 590.6h0M1697.8 609.9h0M1793.0 611.3h0M1663.8 630.6h0M1664.5 640.4h0M1721.6 640.4h0M1771.3 637.9h0M1789.9 629.9h0M1786.1 650.2h0M1785.3 674.7h0M1776.6 692.9h0M1659.0 668.6h0M1751.8 523.8h0M1668.9 733.7h0M1667.6 745.1h0M1663.2 757.2h0M1658.7 764.8h0M1655.6 769.2h0M1646.7 771.8h0M1642.9 790.2h0M1649.2 790.2h0M1618.7 801.6h0M1615.6 812.4h0M1667.6 787.6h0M1656.8 804.2h0M1661.9 806.7h0M1671.5 800.3h0M1679.1 815.6h0M1691.8 809.2h0M1686.1 773.7h0M1691.1 767.3h0M1696.2 762.2h0M1702.6 754.0h0M1726.7 737.5h0M1712.7 723.5h0M1786.4 714.6h0M1808.0 750.8h0M1776.2 758.4h0M1708.9 796.5h0M1704.5 781.3h0M1644.1 828.9h0M1615.6 832.1h0M1638.4 839.1h0M1649.9 846.7h0M1654.9 854.3h0M1670.2 856.9h0M1685.4 847.3h0M1691.8 856.9h0M1697.5 844.8h0M1695.0 830.8h0M1698.1 835.3h0M1721.6 822.6h0M1742.6 848.6h0M1601.6 861.3h0M1620.0 872.7h0M1638.4 877.8h0M1672.7 886.7h0M1681.6 894.3h0M1649.9 894.3h0M1724.8 890.5h0M1655.0 814.3h0M1652.4 824.5h0M1726.3 737.5h0M1709.4 796.6h0M1721.6 822.9h0M1725.0 891.0h0M1722.5 922.0h0M1701.9 975.8h0M1426.7 836.7h0M1531.0 803.4h0M1571.1 855.8h0M1570.8 871.6h0M1554.6 891.5h0M1599.2 861.4h0M1490.4 991.9h0M1506.4 1008.4h0M1514.8 976.0h0M1535.1 969.8h0M1432.8 1040.3h0M1366.6 1068.9h0M1339.0 1087.6h0M1418.2 1121.0h0M1367.5 1129.8h0M1519.5 1138.6h0M1521.0 1187.0h0M1616.1 904.1h0M1600.2 932.8h0M1618.0 934.3h0M1582.9 949.7h0M1623.1 947.8h0M1581.8 964.4h0M1587.4 976.4h0M1624.0 983.5h0M1613.3 987.2h0M1586.1 995.3h0M1571.1 1005.1h0M1593.2 1011.1h0M1619.5 1017.3h0M1562.3 1028.0h0M1586.1 1033.8h0M1693.4 1251.3h0M1768.8 1287.1h0M1791.8 1281.7h0M1712.8 1326.9h0M1711.6 1330.3h0M1722.1 1335.3h0M1743.2 1336.5h0M1814.9 1323.9h0M1842.4 1332.3h0M1694.7 1347.5h0M1714.0 1342.9h0M1724.9 1359.0h0M1750.3 1377.9h0M1707.7 1385.8h0M1399.3 1501.0h0M1555.0 891.0h0M1616.0 904.0h0M1672.0 887.0h0M1681.0 894.0h0M1683.0 900.0h0M1724.0 891.0h0M1652.0 927.0h0M1600.0 933.0h0M1618.0 934.0h0M1636.0 929.0h0M1658.0 937.0h0M1665.0 938.0h0M1646.0 941.0h0M1645.0 948.0h0M1653.0 949.0h0M1623.0 948.0h0M1583.0 950.0h0M1687.0 942.0h0M1680.0 948.0h0M1582.0 964.0h0M1535.0 969.6h0M1515.0 976.0h0M1587.0 976.4h0M1653.0 974.0h0M1670.0 960.0h0M1686.0 966.0h0M1700.0 974.0h0M1614.0 987.0h0M1624.0 983.0h0M1635.0 980.0h0M1645.0 984.0h0M1659.0 989.0h0M1678.0 986.0h0M1677.0 993.0h0M1586.0 995.0h0M1647.0 996.0h0M1507.0 1008.0h0M1571.0 1005.0h0M1593.0 1011.0h0M1619.6 1017.0h0M1562.0 1028.0h0M1550.0 1018.0h0M1586.0 1033.0h0M1582.0 1040.0h0M1598.0 1044.0h0M1600.0 1042.0h0M1575.0 1050.0h0M1586.0 1057.0h0M1598.0 1055.0h0M1608.0 1058.0h0M1608.0 1063.0h0M1631.0 1062.0h0M1640.0 1065.0h0M1652.0 1064.0h0M1698.0 1014.0h0M1722.0 1024.0h0M1666.0 1051.0h0M1549.0 1065.0h0M1564.0 1070.0h0M1576.0 1073.0h0M1588.0 1072.0h0M1595.0 1073.0h0M1554.0 1085.0h0M1570.0 1082.0h0M1581.0 1080.0h0M1588.0 1090.0h0M1592.0 1095.0h0M1546.0 1100.0h0M1578.0 1098.0h0M1584.0 1104.0h0M1617.0 1102.0h0M1624.0 1106.0h0M1629.0 1108.0h0M1640.0 1089.0h0M1676.0 1094.0h0M1677.0 1102.0h0M1596.0 1116.0h0M1612.0 1115.0h0M1620.0 1117.0h0M1628.0 1113.0h0M1640.0 1117.0h0M1650.0 1112.0h0M1550.0 1126.0h0M1559.0 1128.0h0M1574.0 1123.0h0M1591.0 1125.0h0M1603.0 1128.0h0M1611.0 1130.0h0M1621.0 1129.0h0M1668.0 1122.0h0M1520.0 1139.0h0M1559.0 1132.0h0M1592.0 1140.0h0M1604.0 1146.0h0M1578.0 1146.0h0M1596.0 1152.0h0M1614.0 1150.0h0M1630.0 1156.0h0M1640.0 1152.0h0M1662.0 1144.0h0M1664.0 1158.0h0M1680.0 1166.0h0M1555.0 1156.0h0M1564.0 1164.0h0M1571.0 1174.0h0M1554.0 1172.0h0M1545.0 1182.0h0M1521.0 1186.0h0M1584.0 1164.0h0M1604.0 1169.0h0M1616.0 1170.0h0M1620.0 1176.0h0M1640.0 1168.0h0M1646.0 1174.0h0M1664.0 1164.0h0M1666.0 1174.0h0M1571.0 1192.0h0M1598.0 1186.0h0M1616.0 1188.0h0M1636.0 1192.0h0M1652.0 1196.0h0M1628.9 1353.4h0M1576.1 1371.5h0M1606.5 1355.2h0M1617.1 1496.5h0M1624.9 1386.8h0M1555.1 1372.5h0M1566.7 1286.0h0M1616.1 1368.2h0M1569.2 1341.5h0M1567.9 1385.3h0M1572.9 1483.6h0M1618.7 1273.5h0M1602.8 1293.0h0M1580.8 1318.1h0M1590.5 1281.0h0M1617.6 1305.5h0M1564.5 1485.4h0M1581.3 1314.0h0M1540.9 1435.8h0M1609.9 1210.5h0M1601.6 1289.7h0M1540.6 1413.7h0M1583.4 1336.8h0M1521.8 1471.2h0M1576.5 1331.6h0M1600.7 1389.4h0M1545.4 1377.7h0M1551.4 1381.9h0M1598.9 1399.3h0M1565.6 1355.0h0M1583.2 1257.5h0M1607.6 1219.2h0M1632.1 1275.4h0M1578.2 1227.2h0M1609.5 1232.7h0M1644.8 1284.1h0M1599.0 1379.9h0M1590.5 1303.4h0M1566.7 1436.8h0M1610.8 1494.4h0M1587.0 1299.9h0M1617.4 1270.5h0M1629.4 1409.2h0M1577.7 1373.8h0M1592.6 1434.3h0M1595.4 1387.4h0M1606.6 1283.8h0M1592.7 1477.7h0M1558.4 1373.9h0M1586.4 1418.5h0M1591.0 1404.4h0M1589.3 1434.3h0M1565.9 1429.0h0M1570.6 1324.0h0M1609.7 1209.6h0M1535.4 1346.9h0M1601.6 1472.9h0M1587.7 1242.4h0M1587.8 1438.1h0M1551.8 1399.2h0M1583.7 1414.6h0M1581.0 1265.0h0M1626.1 1221.1h0M1644.0 1280.2h0M1591.0 1389.3h0M1648.7 1317.3h0M1613.4 1276.2h0M1591.3 1319.9h0M1611.8 1421.5h0M1595.8 1276.4h0M1610.2 1365.2h0M1624.8 1322.8h0M1573.7 1502.9h0M1578.7 1460.1h0M1619.8 1419.8h0M1572.5 1367.0h0M1557.1 1320.3h0M1573.6 1406.1h0M1589.2 1456.5h0M1601.9 1241.0h0M1612.7 1210.2h0M1612.8 1339.1h0M1597.3 1280.8h0M1618.0 1469.7h0M1543.4 1279.0h0M1588.8 1478.3h0M1568.6 1351.8h0M1583.0 1454.3h0M1620.8 1337.1h0M1567.4 1417.9h0M1607.0 1498.2h0M1573.5 1249.0h0M1601.1 1277.2h0M1564.6 1356.3h0M1604.1 1314.2h0M1636.2 1444.1h0M1602.8 1481.5h0M1572.9 1373.8h0M1589.3 1238.7h0M1599.5 1313.6h0M1601.2 1291.8h0M1596.3 1396.0h0M1571.9 1276.0h0M1615.1 1224.1h0M1551.9 1354.7h0M1584.6 1283.9h0M1594.5 1350.7h0M1609.8 1304.2h0M1568.0 1432.9h0M1607.0 1277.4h0M1632.8 1422.4h0M1576.6 1233.3h0M1605.7 1437.6h0M1583.4 1504.1h0M1627.1 1284.4h0M1548.4 1504.9h0M1576.6 1388.9h0M1559.4 1373.1h0M1550.1 1276.5h0M1620.0 1403.7h0M1598.6 1335.1h0M1598.2 1380.2h0M1609.2 1345.2h0M1547.4 1438.1h0M1600.2 1359.8h0M1571.4 1300.3h0M1562.5 1295.7h0M1552.1 1370.1h0M1565.0 1494.9h0M1547.0 1229.2h0M1579.1 1204.4h0M1568.0 1336.1h0M1607.9 1253.5h0M1643.8 1476.6h0M1560.2 1372.4h0M1609.9 1449.6h0M1570.9 1449.0h0M1583.9 1201.5h0M1581.0 1468.2h0M1588.2 1328.6h0M1604.8 1267.5h0M1556.1 1464.4h0M1618.2 1454.0h0M1555.4 1465.8h0M1603.9 1469.9h0M1557.7 1492.2h0M1616.7 1276.4h0M1593.0 1272.4h0M1585.2 1215.5h0M1644.4 1428.2h0M1586.5 1312.9h0M1575.4 1403.7h0M1594.3 1444.3h0M1608.9 1276.5h0M1600.3 1502.8h0M1616.1 1381.7h0M1605.5 1471.5h0M1560.4 1356.0h0M1578.3 1477.6h0M1588.9 1347.8h0M1612.3 1446.5h0M1560.4 1313.9h0M1594.9 1198.1h0M1601.3 1420.6h0M1556.8 1233.1h0M1587.5 1488.1h0M1593.1 1371.8h0M1583.2 1308.8h0M1584.8 1434.8h0M1572.0 1490.3h0M1561.1 1323.0h0M1587.0 1413.0h0M1594.3 1328.7h0M1567.6 1235.6h0M1594.4 1250.0h0M1565.8 1459.4h0M1621.4 1338.5h0M1664.7 1305.2h0M1581.0 1297.1h0M1634.2 1304.6h0M1567.2 1288.2h0M1581.4 1440.8h0M1513.4 1414.1h0M1574.2 1381.0h0M1603.9 1441.4h0M1570.2 1232.2h0M1604.5 1455.3h0M1601.1 1272.7h0M1605.5 1232.9h0M1594.9 1358.4h0M1580.2 1309.5h0M1604.6 1416.8h0M1607.5 1429.7h0M1552.8 1457.2h0M1603.9 1253.4h0M1548.6 1400.1h0M1623.8 1302.9h0M1556.5 1403.6h0M1582.7 1422.0h0M1598.4 1450.4h0M1580.1 1331.4h0M1611.8 1351.8h0M1580.8 1372.5h0M1569.9 1363.8h0M1596.8 1447.0h0M1588.0 1301.7h0M1586.6 1458.5h0M1619.8 1245.5h0M1553.8 1419.1h0M1596.3 1421.6h0M1586.1 1380.5h0M1631.2 1277.6h0M1599.5 1384.9h0M1573.3 1263.2h0M1597.2 1213.4h0M1600.2 1432.9h0M1604.9 1323.9h0M1582.3 1271.6h0M1585.3 1418.3h0M1566.7 1310.3h0M1600.0 1373.6h0M1578.1 1293.5h0M1566.9 1240.8h0M1595.3 1264.2h0M1604.8 1284.8h0M1585.6 1353.5h0M1607.8 1397.7h0M1570.0 1494.5h0M1579.9 1379.7h0M1611.9 1494.6h0M1575.7 1249.3h0M1620.4 1223.7h0M1634.4 1228.7h0M1607.8 1321.4h0M1599.0 1313.1h0M1580.1 1441.2h0M1621.6 1207.4h0M1606.4 1380.0h0M1566.8 1497.0h0M1575.6 1304.1h0M1611.8 1359.6h0M1590.0 1388.9h0M1642.2 1386.7h0M1595.7 1364.8h0M1579.7 1325.1h0M1630.9 1318.7h0M1611.4 1236.9h0M1589.5 1442.3h0M1592.6 1479.7h0M1587.6 1248.5h0M1590.4 1245.5h0M1584.0 1503.2h0M1625.8 1199.7h0M1574.1 1456.2h0M1592.5 1492.3h0M1563.2 1426.1h0M1643.5 1276.5h0M1598.4 1436.0h0M1547.4 1386.5h0M1544.1 1420.1h0M1570.6 1347.8h0M1640.0 1290.7h0M1592.8 1484.1h0M1578.1 1370.5h0M1620.1 1303.1h0M1615.3 1254.7h0M1580.0 1405.6h0M1598.0 1232.6h0M1567.7 1378.0h0M1556.5 1359.2h0M1564.2 1496.5h0M1626.4 1450.5h0M1567.6 1299.4h0M1623.2 1342.2h0M1536.8 1499.9h0M1546.6 1452.9h0M1623.8 1226.0h0M1582.5 1417.4h0M1580.1 1437.0h0M1635.2 1504.1h0M1603.9 1448.3h0M1588.3 1485.5h0M1606.1 1493.1h0M1564.7 1242.4h0M1575.8 1482.4h0M1599.2 1207.8h0M1575.7 1406.3h0M1602.5 1459.0h0M1550.8 1320.2h0M1637.2 1461.0h0M1569.6 1403.6h0M1563.2 1398.2h0M1594.0 1379.5h0M1609.4 1243.2h0M1565.5 1497.5h0M1584.2 1408.9h0M1575.5 1461.3h0M1552.4 1301.6h0M1587.0 1242.2h0M1589.4 1408.4h0M1596.3 1263.8h0M1574.5 1428.8h0M1598.5 1387.7h0M1581.7 1475.5h0M1628.4 1467.6h0M1587.2 1303.3h0M1600.0 1274.5h0M1601.9 1207.0h0M1578.6 1361.7h0M1606.0 1202.1h0M1626.4 1350.0h0M1632.8 1302.7h0M1576.1 1298.6h0M1573.0 1465.0h0M1586.3 1429.4h0M1593.1 1402.6h0M1561.2 1332.8h0M1550.8 1373.7h0M1596.1 1384.0h0M1589.6 1291.9h0M1594.8 1446.8h0M1619.0 1231.7h0M1557.0 1227.2h0M1598.7 1210.0h0M1623.3 1478.8h0M1581.2 1288.0h0M1587.1 1221.7h0M1615.1 1389.8h0M1578.0 1395.0h0M1560.8 1262.2h0M1621.5 1497.3h0M1538.3 1269.1h0M1625.7 1327.6h0M1606.4 1372.3h0M1563.9 1405.0h0M1575.5 1319.9h0M1538.7 1256.6h0M1589.3 1329.7h0M1612.4 1337.1h0M1582.2 1408.3h0M1542.4 1487.4h0M1583.9 1491.7h0M1599.2 1493.8h0M1591.6 1340.0h0M1570.3 1262.7h0M1543.2 1363.1h0M1610.1 1299.8h0M1590.0 1346.5h0M1572.1 1381.1h0M1607.7 1421.1h0M1608.9 1379.8h0M1559.6 1295.0h0M1604.6 1503.6h0M1639.4 1307.7h0M1623.4 1501.2h0M1587.2 1272.2h0M1559.5 1270.1h0M1582.5 1445.5h0M1645.4 1294.3h0M1633.3 1204.0h0M1546.0 1317.6h0M1644.5 1498.0h0M1576.3 1208.8h0M1601.4 1309.4h0M1574.8 1358.5h0M1577.5 1389.9h0M1598.9 1279.5h0M1592.1 1430.7h0M1558.0 1405.1h0M1588.4 1472.3h0M1570.3 1494.1h0M1584.3 1329.2h0M1588.4 1234.5h0M1565.2 1252.7h0M1583.9 1417.2h0M1620.3 1336.2h0M1602.0 1364.8h0M1568.8 1503.6h0M1586.3 1434.1h0M1588.7 1282.3h0M1583.0 1498.7h0M1560.5 1295.4h0M1582.8 1431.1h0M1599.2 1310.7h0M1564.5 1421.1h0M1537.2 1343.0h0M1615.2 1344.6h0M1602.0 1312.0h0M1619.2 1358.4h0M1636.3 1497.7h0M1635.3 1253.1h0M1589.6 1465.5h0M1610.8 1202.1h0M1586.9 1256.4h0M1593.8 1468.5h0M1597.0 1479.9h0M1608.1 1300.7h0M1584.2 1264.3h0M1604.1 1416.6h0M1569.4 1443.3h0M1555.4 1229.5h0M1585.8 1365.0h0M1616.0 1252.3h0M1571.1 1377.5h0M1561.8 1430.4h0M1630.1 1288.6h0M1575.4 1465.3h0M1588.4 1227.8h0M1615.8 1256.7h0M1599.1 1204.3h0M1625.1 1494.4h0M1586.5 1360.7h0M1578.8 1445.5h0M1610.5 1445.7h0M1619.7 1402.0h0M1582.2 1446.3h0M1551.4 1314.7h0M1569.3 1297.7h0M1552.8 1441.7h0M1580.7 1305.4h0M1590.8 1287.3h0M1572.1 1423.4h0M1625.8 1289.8h0M1582.2 1442.6h0M1615.1 1494.0h0M1576.3 1259.8h0M1584.8 1263.9h0M1622.3 1308.9h0M1562.8 1202.3h0M1550.0 1230.9h0M1563.9 1295.0h0M1599.8 1401.4h0M1564.9 1436.3h0M1586.5 1395.8h0M1613.8 1397.9h0M1595.8 1440.6h0M1576.9 1296.9h0M1632.1 1383.5h0M1617.4 1464.8h0M1624.3 1234.0h0M1596.5 1397.1h0M1599.1 1339.7h0M1578.6 1340.0h0M1611.3 1348.6h0M1609.7 1327.5h0M1596.2 1422.6h0M1567.7 1298.9h0M1603.1 1272.4h0M1561.9 1356.6h0M1593.0 1441.5h0M1562.7 1455.2h0M1553.3 1266.9h0M1603.2 1315.6h0M1570.3 1275.3h0M1555.7 1200.1h0M1591.0 1293.6h0M1622.7 1280.2h0M1597.0 1465.9h0M1602.7 1267.5h0M1561.8 1504.5h0M1601.4 1224.3h0M1562.1 1198.4h0M1551.9 1437.3h0M1628.2 1272.2h0M1604.2 1251.6h0M1614.6 1488.3h0M1647.0 1476.6h0M1566.7 1293.0h0M1575.9 1336.3h0M1558.6 1255.4h0M1636.1 1401.5h0M1597.7 1503.2h0M1604.5 1221.9h0M1593.5 1200.4h0M1586.8 1205.8h0M1541.3 1400.4h0M1572.9 1305.0h0M1590.6 1497.0h0M1585.1 1476.7h0M1624.1 1240.3h0M1614.4 1498.2h0M1572.2 1471.9h0M1586.1 1330.7h0M1608.7 1396.2h0M1581.5 1374.2h0M1620.7 1372.1h0M1599.4 1250.4h0M1616.4 1467.8h0M1616.7 1221.7h0M1582.0 1461.4h0M1549.9 1206.0h0M1607.0 1426.3h0M1637.3 1468.7h0M1612.1 1478.1h0M1601.2 1389.5h0M1615.9 1239.4h0M1626.9 1342.7h0M1547.7 1291.7h0M1599.9 1504.7h0M1607.9 1209.5h0M1610.8 1378.5h0M1600.9 1286.7h0M1556.2 1281.5h0M1581.1 1226.3h0M1605.5 1243.8h0M1589.3 1430.3h0M1576.6 1377.4h0M1600.1 1313.8h0M1596.4 1426.5h0M1610.6 1271.4h0M1605.3 1368.9h0M1597.4 1384.1h0M1577.4 1236.9h0M1539.8 1483.5h0M1620.4 1300.8h0M1650.4 1227.6h0M1620.0 1257.0h0M1629.1 1380.6h0M1568.2 1418.2h0M1573.1 1334.8h0M1602.0 1245.9h0M1591.4 1417.8h0M1602.2 1433.4h0M1551.0 1357.6h0M1573.5 1305.9h0M1631.0 1417.4h0M1643.8 1262.5h0M1598.7 1225.5h0M1565.0 1323.9h0M1587.4 1485.8h0M1580.3 1269.6h0M1563.6 1258.8h0M1570.3 1257.8h0M1567.1 1457.0h0M1560.6 1360.4h0M1602.7 1465.2h0M1534.3 1432.5h0M1629.8 1335.7h0M1660.0 1433.0h0M1609.0 1439.2h0M1641.9 1465.0h0M1577.1 1369.3h0M1589.0 1451.0h0M1618.2 1368.5h0M1560.4 1306.9h0M1566.9 1454.7h0M1604.1 1283.1h0M1559.1 1215.5h0M1593.3 1338.4h0M1582.3 1371.5h0M1599.6 1256.8h0M1635.0 1462.2h0M1570.7 1308.8h0M1624.9 1293.8h0M1585.1 1482.8h0M1632.9 1257.3h0M1611.3 1263.6h0M1596.2 1298.0h0M1588.5 1460.7h0M1587.1 1421.8h0M1604.9 1463.2h0M1583.3 1324.6h0M1603.8 1422.4h0M1605.5 1332.1h0M1578.0 1276.2h0M1584.9 1246.2h0M1606.5 1485.6h0M1593.9 1398.4h0M1578.3 1318.4h0M1592.5 1226.7h0M1617.2 1435.3h0M1573.2 1265.8h0M1565.7 1383.1h0M1594.9 1368.7h0M1588.7 1482.7h0M1599.6 1470.8h0M1598.6 1497.2h0M1573.5 1376.6h0M1590.6 1408.8h0M1547.4 1241.8h0M1596.0 1406.3h0M1579.5 1470.6h0M1633.7 1203.6h0M1604.7 1406.4h0M1557.7 1387.1h0M1593.4 1469.8h0M1602.1 1459.3h0M1613.6 1356.0h0M1560.8 1308.4h0M1571.7 1372.8h0M1613.7 1422.4h0M1565.3 1362.9h0M1590.8 1456.3h0M1588.8 1310.2h0M1598.7 1437.1h0M1565.5 1341.7h0M1584.3 1307.8h0M1558.1 1361.6h0M1542.4 1456.0h0M1613.0 1429.4h0M1590.4 1364.2h0M1601.9 1391.4h0M1614.3 1221.6h0M1614.0 1449.6h0M1575.9 1494.3h0M1572.0 1461.4h0M1550.3 1472.5h0M1604.8 1267.6h0M1553.2 1357.8h0M1632.9 1382.0h0M1579.4 1434.7h0M1612.8 1499.8h0M1623.5 1371.4h0M1586.4 1280.1h0M1589.0 1493.5h0M1559.2 1290.9h0M1598.1 1387.0h0M1572.4 1398.4h0M1596.5 1235.6h0M1591.9 1496.1h0M1573.3 1318.0h0M1595.8 1335.8h0M1575.8 1223.4h0M1580.7 1214.3h0M1577.9 1312.8h0M1572.5 1491.3h0M1581.4 1489.5h0M1630.2 1327.8h0M1625.3 1477.7h0M1588.1 1387.2h0M1593.9 1397.5h0M1611.4 1307.3h0M1575.4 1480.7h0M1572.1 1249.9h0M1579.9 1266.4h0M1590.1 1332.8h0M1578.8 1260.6h0M1610.3 1323.9h0M1615.9 1236.3h0M1628.0 1259.5h0M1586.1 1339.2h0M1593.6 1325.3h0M1634.6 1369.7h0M1572.7 1439.5h0M1598.1 1328.8h0M1616.5 1471.5h0M1565.9 1294.2h0M1590.3 1418.0h0M1610.9 1300.4h0M1564.4 1378.6h0M1597.9 1311.2h0M1600.6 1504.7h0M1626.9 1208.9h0M1581.0 1315.0h0M1623.6 1331.0h0M1653.1 1411.2h0M1560.7 1467.0h0M1577.7 1497.1h0M1576.8 1369.9h0M1568.7 1348.9h0M1604.7 1478.8h0M1589.7 1400.7h0M1619.8 1273.4h0M1556.2 1489.7h0M1651.0 1313.5h0M1534.8 1325.6h0M1569.8 1450.0h0M1624.5 1227.3h0M1593.5 1503.9h0M1585.5 1394.0h0M1546.1 1417.6h0M1589.9 1437.8h0M1589.1 1378.4h0M1587.9 1448.4h0M1591.7 1473.1h0M1575.5 1468.4h0M1619.0 1400.0h0M1600.0 1222.1h0M1588.7 1337.0h0M1568.7 1330.0h0M1641.9 1305.9h0M1556.3 1418.6h0M1607.1 1287.2h0M1610.2 1373.9h0M1587.5 1469.8h0M1615.2 1382.3h0M1559.7 1434.3h0M1575.8 1337.4h0M1581.4 1243.8h0M1615.3 1418.0h0M1553.5 1440.5h0M1570.5 1479.9h0M1576.0 1374.3h0M1596.2 1319.7h0M1603.5 1472.5h0M1598.6 1471.6h0M1620.8 1291.6h0M1589.8 1458.8h0M1578.0 1253.7h0M1609.8 1381.1h0M1670.3 1275.3h0M1682.3 1390.0h0M1688.2 1200.4h0M1709.1 1457.5h0M1669.7 1482.7h0M1673.3 1482.0h0M1702.2 1229.6h0M1688.0 1468.0h0M1643.5 1212.3h0M1680.8 1303.6h0M1594.9 1166.8h0M1563.7 1082.8h0M1607.7 1094.4h0M1644.0 1169.2h0M1582.5 1102.9h0M1664.2 1162.6h0M1638.9 1065.3h0M1574.8 1180.0h0M1593.2 1154.6h0M1633.9 1181.2h0M1576.0 1097.6h0M1565.6 1105.2h0M1610.7 1073.8h0M1603.9 1056.8h0M1651.9 1045.4h0M1600.2 1058.5h0M1638.7 1170.9h0M1619.5 1170.7h0M1631.3 1169.1h0M1558.5 1149.0h0M1609.8 1077.2h0M1564.7 1057.9h0M1610.2 1070.0h0M1575.9 1061.6h0M1633.2 1056.0h0M1620.5 1182.4h0M1633.5 1118.5h0M1609.9 1120.9h0M1583.3 1067.0h0M1619.9 1068.3h0M1611.0 1178.7h0M1649.4 1111.9h0M1609.2 1190.1h0M1622.8 1166.3h0M1604.5 1162.5h0M1600.4 1193.4h0M1608.5 1174.5h0M1653.4 1082.6h0M1603.0 1181.5h0M1609.9 1150.0h0M1600.4 1117.4h0M1650.8 1128.4h0M1579.2 1175.5h0M1599.8 1168.7h0M1633.0 1088.9h0M1650.7 1063.8h0M1643.1 1177.0h0M1605.8 1057.0h0M1613.1 1076.6h0M1687.3 1116.1h0M1582.8 1112.5h0M1566.9 1101.2h0M1564.0 1093.7h0M1592.5 1198.1h0M1619.9 1158.2h0M1585.5 1174.1h0M1618.1 1055.0h0M1645.5 1058.4h0M1600.1 1069.0h0M1621.2 1103.3h0M1579.4 1194.1h0M1603.1 1144.1h0M1611.5 1199.9h0M1563.7 1168.8h0M1605.9 1124.9h0M1619.4 1167.0h0M1611.2 1197.9h0M1639.6 1171.0h0M1593.6 1141.9h0M1651.5 1052.0h0M1560.9 1147.7h0M1612.8 1078.5h0M1603.9 1178.0h0M1599.1 1064.4h0M1640.7 1105.3h0M1568.6 1162.0h0M1602.8 1133.2h0M1599.8 1126.3h0M1642.3 1197.2h0M1602.3 1176.9h0M1602.8 1158.7h0M1649.2 1113.0h0M1649.5 1130.8h0M1608.4 1080.3h0M1656.0 1065.9h0M1589.5 1479.3h0M1585.3 1257.9h0M1599.8 1418.3h0M1613.4 1365.2h0M1612.4 1419.5h0M1619.8 1250.5h0M1626.4 1253.6h0M1609.3 1286.8h0M1572.9 1499.3h0M1612.7 1320.1h0M1553.0 1396.4h0M1570.4 1500.7h0M1594.7 1426.8h0M1555.3 1295.7h0M1623.0 1352.5h0M1570.7 1267.5h0M1558.7 1315.5h0M1574.8 1320.1h0M1577.0 1245.1h0M1586.7 1463.3h0M1583.3 1477.7h0M1612.5 1377.2h0M1585.2 1408.4h0M1593.1 1397.8h0M1566.9 1415.2h0M1597.0 1503.5h0M1572.3 1393.1h0M1550.0 1277.6h0M1617.1 1423.6h0M1565.2 1423.0h0M1563.2 1466.4h0M1569.3 1420.2h0M1605.7 1325.7h0M1560.1 1250.8h0M1581.6 1358.7h0M1601.6 1406.5h0M1629.8 1434.5h0M1582.2 1417.9h0M1590.4 1398.5h0M1570.1 1400.2h0M1635.7 1301.8h0M1587.7 1344.0h0M1589.3 1350.7h0M1596.8 1251.0h0M1566.2 1492.4h0M1593.1 1262.2h0M1558.5 1497.1h0M1620.4 1450.0h0M1588.9 1298.9h0M1587.4 1336.1h0M1617.7 1305.7h0M1562.3 1404.0h0M1624.5 1248.3h0M1624.1 1352.6h0M1571.0 1439.7h0M1605.5 1360.7h0M1586.8 1406.3h0M1610.0 1353.4h0M1589.9 1406.4h0M1567.3 1469.0h0M1602.4 1419.0h0M1582.0 1477.8h0M1591.2 1462.9h0M1611.4 1373.0h0M1617.4 1350.3h0M1602.2 1425.3h0M1557.3 1420.8h0M1606.7 1324.1h0M1582.4 1405.4h0M1614.4 1343.3h0M1581.9 1499.6h0M1623.5 1301.7h0M1601.9 1351.2h0M1587.2 1465.5h0M1596.6 1365.6h0M1553.1 1309.3h0M1604.8 1300.0h0M1590.7 1432.3h0M1564.5 1416.6h0M1600.4 1324.2h0M1598.5 1322.3h0M1597.7 1378.1h0M1584.5 1470.2h0M1606.1 1414.8h0M1611.1 1255.2h0M1591.0 1406.2h0M1585.1 1489.6h0M1580.7 1350.3h0M1573.9 1470.9h0M1600.3 1478.6h0M1580.2 1299.0h0M1560.1 1333.7h0M1597.6 1298.7h0M1614.4 1370.4h0M1582.5 1420.8h0M1606.9 1444.3h0M1604.0 1257.1h0M1564.4 1486.0h0M1600.5 1258.2h0M1584.2 1483.8h0M1605.2 1366.1h0M1532.1 1258.1h0M1612.1 1243.3h0M1609.2 1275.3h0M1573.5 1243.7h0M1610.0 1490.5h0M1586.0 1395.5h0M1596.1 1303.5h0M1612.3 1262.6h0M1619.2 1387.2h0M1594.7 1343.3h0M1607.8 1283.7h0M1601.5 1316.8h0M1572.0 1440.5h0M1629.9 1249.3h0M1604.7 1454.3h0M1590.1 1482.4h0M1610.9 1471.5h0M1605.2 1272.1h0M1575.7 1452.2h0M1610.8 1424.5h0M1595.2 1255.4h0M1606.8 1278.4h0M1612.3 1342.8h0M1611.7 1355.4h0M1630.4 1416.9h0M1593.8 1404.8h0M1585.9 1399.8h0M1576.6 1303.2h0M1572.9 1499.5h0M1602.1 1477.2h0M1601.8 1310.5h0M1568.4 1479.2h0M1574.8 1452.2h0M1582.4 1325.8h0M1622.2 1462.7h0M1569.0 1412.5h0M1598.0 1397.0h0M1556.2 1331.9h0M1589.5 1246.6h0M1618.0 1481.9h0M1560.1 1479.2h0M1615.8 1385.5h0M1548.3 1407.9h0M1589.8 1449.3h0M1570.5 1241.2h0M1592.6 1298.4h0M1588.9 1259.7h0M1604.9 1497.6h0M1597.0 1364.3h0M1595.4 1341.6h0M1576.6 1448.7h0M1600.8 1369.6h0M1573.0 1383.0h0M1573.1 1494.3h0M1576.1 1403.3h0M1604.1 1344.3h0M1641.3 1348.3h0M1588.4 1406.4h0M1633.7 1348.9h0"/>
<path stroke="#1f77b4" stroke-width="12.4" stroke-linecap="round" d="M1931.2 401.0h0M1812.7 601.9h0M1681.0 780.0h0M1722.3 781.9h0M1675.3 806.7h0M1625.1 843.5h0M1647.3 868.9h0M1706.2 967.9h0M1705.4 968.0h0M1579.5 988.2h0M1614.2 1000.8h0M1675.6 1006.4h0M1674.6 1015.6h0M1675.6 1034.0h0M1568.6 1055.3h0M1664.0 1068.0h0M1678.0 1071.0h0M1644.0 1075.0h0M1647.6 1080.0h0M1614.2 1081.0h0M1609.5 1085.7h0M1628.8 1084.5h0M1665.0 1089.0h0M1605.2 1099.8h0M1569.6 1107.3h0M1629.0 1123.0h0M1654.0 1126.0h0M1584.2 1131.7h0M1691.6 1136.6h0M1568.3 1143.9h0M1560.8 1150.5h0M1624.6 1149.5h0M1646.0 1150.0h0M1672.0 1145.0h0M1533.9 1171.7h0M1582.3 1184.2h0M1588.9 1191.7h0M1604.9 1196.4h0M1624.3 1192.0h0M1635.0 1182.0h0M1655.0 1183.0h0M1666.0 1178.0h0M1680.0 1194.0h0M1523.2 1198.3h0M1522.7 1200.3h0M1669.0 1185.0h0M1665.0 1201.3h0M1683.3 1199.3h0M1596.9 1215.6h0M1612.1 1225.7h0M1629.4 1220.7h0M1649.7 1227.8h0M1631.4 1238.9h0M1636.5 1241.0h0M1536.5 1238.9h0M1567.4 1237.9h0M1573.5 1234.9h0M1549.1 1251.1h0M1587.7 1258.3h0M1593.8 1261.3h0M1622.3 1261.3h0M1628.4 1258.3h0M1558.3 1269.4h0M1555.2 1279.6h0M1581.6 1275.5h0M1585.7 1285.7h0M1612.1 1275.5h0M1611.1 1287.7h0M1638.5 1271.5h0M1640.6 1281.6h0M1653.8 1282.6h0M1669.0 1297.9h0M1528.8 1302.0h0M1573.5 1296.9h0M1589.8 1304.0h0M1599.9 1312.1h0M1650.7 1306.0h0M1654.8 1318.2h0M1648.7 1324.3h0M1558.3 1315.2h0M1569.4 1313.1h0M1579.6 1324.3h0M1612.1 1320.2h0M1614.1 1332.4h0M1560.3 1338.5h0M1565.4 1346.7h0M1561.3 1360.9h0M1571.5 1350.7h0M1587.7 1340.6h0M1591.8 1352.8h0M1606.0 1342.6h0M1608.0 1352.8h0M1577.6 1367.0h0M1589.8 1367.0h0M1593.8 1375.1h0M1610.1 1362.9h0M1618.2 1371.1h0M1632.4 1368.0h0M1517.6 1365.0h0M1555.2 1381.2h0M1571.5 1391.4h0M1577.6 1399.5h0M1593.8 1389.3h0M1606.0 1391.4h0M1620.2 1403.6h0M1585.7 1413.7h0M1595.9 1407.6h0M1547.1 1412.7h0M1553.2 1419.8h0M1561.3 1425.9h0M1571.5 1422.9h0M1599.9 1432.0h0M1608.0 1432.0h0M1620.2 1436.1h0M1583.7 1442.2h0M1593.8 1444.2h0M1543.0 1449.3h0M1557.2 1460.5h0M1576.5 1466.6h0M1599.9 1456.4h0M1599.9 1466.6h0M1545.0 1470.7h0M1521.7 1484.9h0M1583.7 1498.1h0M1607.2 1447.2h0M1564.4 1447.9h0M1602.8 1376.3h0M1566.0 1320.0h0M1581.4 1263.2h0M1571.2 1343.9h0M1617.0 1350.1h0M1599.4 1261.1h0M1636.6 1261.9h0M1600.8 1494.8h0M1604.9 1409.8h0M1604.8 1307.5h0M1575.9 1356.6h0M1586.6 1488.7h0M1615.0 1469.9h0M1580.1 1456.8h0M1591.8 1346.1h0M1587.6 1370.8h0M1600.2 1415.8h0M1580.7 1264.9h0M1585.0 1386.1h0M1592.8 1316.5h0M1590.1 1465.5h0M1570.7 1265.7h0M1605.9 1416.4h0M1562.0 1463.2h0M1564.0 1305.7h0M1562.4 1469.4h0M1607.3 1463.7h0M1580.8 1254.5h0M1568.6 1423.3h0M1565.3 1250.3h0M1596.4 1373.3h0M1566.9 1357.0h0M1562.6 1299.8h0M1600.3 1329.6h0M1564.1 1447.5h0M1581.6 1327.5h0M1587.9 1286.5h0M1579.1 1421.1h0M1586.9 1359.9h0M1614.8 1445.7h0M1577.7 1307.7h0M1562.8 1328.3h0M1551.3 1446.0h0M1583.9 1374.2h0M1581.0 1374.1h0M1593.3 1307.9h0M1578.7 1253.6h0M1578.4 1478.6h0M1595.7 1306.6h0M1537.6 1334.7h0M1556.5 1329.9h0M1573.7 1270.3h0M1584.3 1327.5h0M1609.0 1429.0h0M1587.8 1257.3h0M1647.8 1310.6h0M1588.5 1327.9h0M1600.0 1434.5h0M1602.9 1331.4h0M1582.7 1361.3h0M1601.7 1320.3h0M1595.3 1339.4h0M1588.8 1480.4h0M1573.2 1489.3h0M1576.9 1432.9h0M1598.9 1347.3h0M1583.9 1306.3h0M1591.8 1332.8h0M1591.8 1311.9h0M1589.6 1334.1h0M1584.8 1258.8h0M1595.1 1410.4h0M1599.5 1378.0h0M1609.3 1439.9h0M1593.6 1273.9h0M1574.5 1336.2h0M1572.4 1368.7h0M1596.0 1297.3h0"/>
<path stroke="#1f77b4" stroke-width="12.4" stroke-linecap="round" d="M1659.4 740.6h0M1691.1 733.7h0M1668.3 774.9h0M1742.6 774.3h0M1771.8 775.6h0M1694.3 796.5h0M1667.6 820.7h0M1693.7 821.9h0M1665.1 874.0h0M1693.0 880.4h0M1550.3 880.8h0M1728.0 928.0h0M1674.0 972.0h0M1674.0 1058.0h0M1681.0 932.0h0"/>
<polygon fill="#ffa500" points="1668.60,601.45 1659.85,618.95 1677.35,618.95"/>
<polygon fill="#ffa500" points="1683.80,635.75 1675.05,653.25 1692.55,653.25"/>
<polygon fill="#ffa500" points="1660.30,652.25 1651.55,669.75 1669.05,669.75"/>
<polygon fill="#ffa500" points="1745.40,638.25 1736.65,655.75 1754.15,655.75"/>
<polygon fill="#ffa500" points="1777.80,657.35 1769.05,674.85 1786.55,674.85"/>
<polygon fill="#ffa500" points="1698.40,689.05 1689.65,706.55 1707.15,706.55"/>
<polygon fill="#ffa500" points="1764.50,690.35 1755.75,707.85 1773.25,707.85"/>
<polygon fill="#ffa500" points="1659.40,731.85 1650.65,749.35 1668.15,749.35"/>
<polygon fill="#ffa500" points="1691.10,724.95 1682.35,742.45 1699.85,742.45"/>
<polygon fill="#ffa500" points="1637.20,750.35 1628.45,767.85 1645.95,767.85"/>
<polygon fill="#ffa500" points="1668.30,766.15 1659.55,783.65 1677.05,783.65"/>
<polygon fill="#ffa500" points="1710.80,771.95 1702.05,789.45 1719.55,789.45"/>
<polygon fill="#ffa500" points="1742.60,765.55 1733.85,783.05 1751.35,783.05"/>
<polygon fill="#ffa500" points="1771.80,766.85 1763.05,784.35 1780.55,784.35"/>
<polygon fill="#ffa500" points="1661.30,781.45 1652.55,798.95 1670.05,798.95"/>
<polygon fill="#ffa500" points="1677.80,780.15 1669.05,797.65 1686.55,797.65"/>
<polygon fill="#ffa500" points="1694.30,787.75 1685.55,805.25 1703.05,805.25"/>
<polygon fill="#ffa500" points="1713.40,778.85 1704.65,796.35 1722.15,796.35"/>
<polygon fill="#ffa500" points="1661.30,813.15 1652.55,830.65 1670.05,830.65"/>
<polygon fill="#ffa500" points="1667.60,811.95 1658.85,829.45 1676.35,829.45"/>
<polygon fill="#ffa500" points="1693.70,813.15 1684.95,830.65 1702.45,830.65"/>
<polygon fill="#ffa500" points="1671.50,823.35 1662.75,840.85 1680.25,840.85"/>
<polygon fill="#ffa500" points="1679.10,825.85 1670.35,843.35 1687.85,843.35"/>
<polygon fill="#ffa500" points="1705.10,827.15 1696.35,844.65 1713.85,844.65"/>
<polygon fill="#ffa500" points="1628.30,851.25 1619.55,868.75 1637.05,868.75"/>
<polygon fill="#ffa500" points="1665.10,865.25 1656.35,882.75 1673.85,882.75"/>
<polygon fill="#ffa500" points="1689.20,858.95 1680.45,876.45 1697.95,876.45"/>
<polygon fill="#ffa500" points="1700.70,861.45 1691.95,878.95 1709.45,878.95"/>
<polygon fill="#ffa500" points="1649.20,871.65 1640.45,889.15 1657.95,889.15"/>
<polygon fill="#ffa500" points="1657.50,872.85 1648.75,890.35 1666.25,890.35"/>
<polygon fill="#ffa500" points="1693.00,871.65 1684.25,889.15 1701.75,889.15"/>
<polygon fill="#ffa500" points="1701.90,885.55 1693.15,903.05 1710.65,903.05"/>
<polygon fill="#ffa500" points="1717.20,885.55 1708.45,903.05 1725.95,903.05"/>
<polygon fill="#ffa500" points="1550.30,872.05 1541.55,889.55 1559.05,889.55"/>
<polygon fill="#ffa500" points="1640.00,901.25 1631.25,918.75 1648.75,918.75"/>
<polygon fill="#ffa500" points="1656.00,896.25 1647.25,913.75 1664.75,913.75"/>
<polygon fill="#ffa500" points="1681.00,923.25 1672.25,940.75 1689.75,940.75"/>
<polygon fill="#ffa500" points="1693.00,919.25 1684.25,936.75 1701.75,936.75"/>
<polygon fill="#ffa500" points="1706.00,925.25 1697.25,942.75 1714.75,942.75"/>
<polygon fill="#ffa500" points="1728.00,919.25 1719.25,936.75 1736.75,936.75"/>
<polygon fill="#ffa500" points="1663.00,951.25 1654.25,968.75 1671.75,968.75"/>
<polygon fill="#ffa500" points="1674.00,963.25 1665.25,980.75 1682.75,980.75"/>
<polygon fill="#ffa500" points="1668.00,1021.25 1659.25,1038.75 1676.75,1038.75"/>
<polygon fill="#ffa500" points="1692.00,1038.25 1683.25,1055.75 1700.75,1055.75"/>
<polygon fill="#ffa500" points="1674.00,1049.25 1665.25,1066.75 1682.75,1066.75"/>
<polygon fill="#ffa500" points="1705.60,826.25 1696.85,843.75 1714.35,843.75"/>
<polygon fill="#ffa500" points="1702.80,860.15 1694.05,877.65 1711.55,877.65"/>
<polygon fill="#ff00ff" points="1703.80,819.25 1695.05,801.75 1712.55,801.75"/>
<polygon fill="#ff00ff" points="1699.00,926.75 1690.25,909.25 1707.75,909.25"/>
<polygon fill="#0000ff" points="1644.80,800.20 1647.05,807.11 1654.31,807.11 1648.43,811.38 1650.68,818.29 1644.80,814.02 1638.92,818.29 1641.17,811.38 1635.29,807.11 1642.55,807.11"/>
<polygon fill="#0000ff" points="1635.00,915.00 1637.25,921.91 1644.51,921.91 1638.63,926.18 1640.88,933.09 1635.00,928.82 1629.12,933.09 1631.37,926.18 1625.49,921.91 1632.75,921.91"/>
<rect fill="#008000" x="1569.9" y="778.9" width="17.2" height="17.2"/>
<rect fill="#008000" x="1513.8" y="845.9" width="17.2" height="17.2"/>
<rect fill="#008000" x="1467.6" y="888.8" width="17.2" height="17.2"/>
<rect fill="#008000" x="1538.4" y="914.7" width="17.2" height="17.2"/>
<rect fill="#008000" x="1534.4" y="928.5" width="17.2" height="17.2"/>
<rect fill="#008000" x="1549.6" y="1006.2" width="17.2" height="17.2"/>
<circle fill="#ff0000" cx="1479.4" cy="819.0" r="8.6"/>
<circle fill="#ff0000" cx="1526.7" cy="820.1" r="8.6"/>
<circle fill="#ff0000" cx="1536.4" cy="827.0" r="8.6"/>
<path fill="#800080" transform="translate(1580.6 1216.6)" d="M-13 -7.5L-7.5 -13L0 -5.5L7.5 -13L13 -7.5L5.5 0L13 7.5L7.5 13L0 5.5L-7.5 13L-13 7.5L-5.5 0Z"/>
<g fill="none" stroke="#000" stroke-width="3.2" stroke-linejoin="round">
<path d="M1625.3 1503.9L1624.7 1501.0L1624.2 1498.1L1623.6 1495.1L1623.0 1492.2L1622.4 1489.3L1621.8 1486.3L1621.2 1483.4L1620.6 1480.5L1619.9 1477.5L1619.3 1474.6L1618.7 1471.7L1618.0 1468.7L1617.4 1465.8L1616.7 1462.9L1616.1 1459.9L1615.4 1457.0L1614.8 1454.1L1614.1 1451.1L1613.5 1448.2L1612.8 1445.2L1612.2 1442.3L1611.6 1439.4L1610.9 1436.4L1610.3 1433.5L1609.7 1430.5L1609.0 1427.6L1608.4 1424.6L1607.8 1421.7L1607.2 1418.7L1606.6 1415.8L1606.1 1412.8L1605.5 1409.8L1604.9 1406.9L1604.4 1403.9L1603.9 1400.9L1603.4 1398.0L1602.9 1395.0L1602.4 1392.0L1601.9 1389.1L1601.5 1386.1L1601.0 1383.1L1600.6 1380.1L1600.2 1377.1L1599.8 1374.2L1599.5 1371.2L1599.1 1368.2L1598.8 1365.2L1598.6 1362.2L1598.3 1359.2L1598.1 1356.2L1597.8 1353.2L1597.7 1350.2L1597.5 1347.1L1597.4 1344.1L1597.3 1341.1L1597.2 1338.1L1597.1 1335.1L1597.1 1332.0L1597.1 1329.0L1597.2 1326.0L1597.3 1322.9L1597.4 1319.9L1597.6 1316.8L1597.7 1313.8L1598.0 1310.7L1598.2 1307.7L1598.5 1304.6L1598.9 1301.5L1599.2 1298.5L1599.7 1295.4L1600.1 1292.4L1600.7 1289.4L1601.3 1286.4L1602.0 1283.4L1602.8 1280.6L1603.7 1277.8L1604.7 1275.1L1605.8 1272.4L1607.0 1269.9L1608.3 1267.5L1609.8 1265.2L1611.5 1263.1L1613.3 1261.1L1615.2 1259.2L1617.3 1257.5L1619.6 1256.0L1622.1 1254.7L1624.7 1253.5L1627.5 1252.4L1630.3 1251.5L1633.2 1250.5L1636.2 1249.7L1639.2 1248.8L1642.1 1247.9L1645.0 1247.0L1647.8 1246.0L1650.6 1244.9L1653.2 1243.7L1655.7 1242.3L1658.0 1240.7L1660.1 1238.9L1662.0 1237.0L1663.8 1234.8L1665.4 1232.6L1666.8 1230.1L1668.0 1227.5L1669.2 1224.9L1670.2 1222.1L1671.1 1219.2L1671.8 1216.3L1672.5 1213.3L1673.1 1210.2L1673.5 1207.2L1674.0 1204.1L1674.3 1201.0L1674.6 1197.9L1674.8 1194.8L1675.0 1191.7L1675.2 1188.6L1675.3 1185.5L1675.5 1182.4L1675.6 1179.3L1675.7 1176.2L1675.9 1173.2L1676.0 1170.1L1676.2 1167.0L1676.3 1164.0L1676.5 1160.9L1676.6 1157.9L1676.8 1154.8L1677.0 1151.8L1677.1 1148.8L1677.3 1145.7L1677.5 1142.7L1677.6 1139.7L1677.8 1136.7L1678.0 1133.7L1678.2 1130.7L1678.4 1127.7L1678.6 1124.6L1678.8 1121.6L1679.0 1118.7L1679.2 1115.7L1679.4 1112.7L1679.7 1109.7L1679.9 1106.7L1680.1 1103.7L1680.3 1100.7L1680.6 1097.7L1680.8 1094.8L1681.0 1091.8L1681.3 1088.8L1681.5 1085.8L1681.8 1082.9L1682.0 1079.9L1682.3 1076.9L1682.6 1073.9L1682.8 1071.0L1683.1 1068.0L1683.4 1065.0L1683.7 1062.0L1683.9 1059.1L1684.2 1056.1L1684.5 1053.1L1684.8 1050.1L1685.1 1047.2L1685.4 1044.2L1685.7 1041.2L1686.0 1038.2L1686.3 1035.2L1686.7 1032.3L1687.0 1029.3L1687.3 1026.3L1687.6 1023.3L1688.0 1020.3L1688.3 1017.4L1688.6 1014.4L1689.0 1011.4L1689.3 1008.4L1689.7 1005.4L1690.0 1002.5L1690.4 999.5L1690.8 996.5L1691.1 993.5L1691.5 990.5L1691.9 987.6L1692.2 984.6L1692.6 981.6L1693.0 978.6L1693.4 975.6L1693.8 972.6L1694.2 969.7L1694.6 966.7L1695.0 963.7L1695.4 960.7L1695.8 957.7L1696.2 954.7L1696.6 951.8L1697.0 948.8L1697.5 945.8L1697.9 942.8L1698.3 939.8L1698.7 936.9L1699.2 933.9L1699.6 930.9L1700.1 927.9L1700.5 924.9L1701.0 922.0L1701.4 919.0L1701.9 916.0L1702.3 913.0L1702.8 910.0L1703.3 907.1L1703.7 904.1L1704.2 901.1L1704.7 898.1L1705.1 895.1L1705.6 892.2L1706.1 889.2L1706.6 886.2L1707.1 883.2L1707.6 880.3L1708.1 877.3L1708.6 874.3L1709.1 871.3L1709.6 868.4L1710.1 865.4L1710.6 862.4L1711.2 859.5L1711.7 856.5L1712.2 853.5L1712.7 850.6L1713.3 847.6L1713.8 844.6L1714.3 841.7L1714.9 838.7L1715.4 835.7L1716.0 832.8L1716.5 829.8L1717.1 826.8L1717.6 823.9L1718.2 820.9L1718.8 818.0L1719.3 815.0L1719.9 812.0L1720.5 809.1L1721.1 806.1L1721.7 803.2L1722.2 800.2L1722.8 797.3L1723.4 794.3L1724.0 791.4L1724.6 788.4L1725.3 785.5L1725.9 782.5L1726.5 779.6L1727.1 776.6L1727.7 773.7L1728.4 770.8L1729.0 767.8L1729.7 764.9L1730.3 761.9L1731.0 759.0L1731.6 756.1L1732.3 753.1L1732.9 750.2L1733.6 747.3L1734.3 744.3L1735.0 741.4L1735.7 738.5L1736.4 735.6L1737.1 732.6L1737.8 729.7L1738.5 726.8L1739.2 723.9L1739.9 721.0L1740.6 718.1L1741.3 715.1L1742.1 712.2L1742.8 709.3L1743.6 706.4L1744.3 703.5L1745.1 700.6L1745.9 697.7L1746.6 694.8L1747.4 691.9L1748.2 689.0L1749.0 686.1L1749.8 683.2L1750.6 680.3L1751.4 677.4L1752.2 674.6L1753.0 671.7L1753.8 668.8L1754.7 665.9L1755.5 663.0L1756.4 660.1L1757.2 657.3L1758.1 654.4L1758.9 651.5L1759.8 648.7L1760.7 645.8L1761.6 642.9L1762.5 640.1L1763.4 637.2L1764.3 634.4L1765.2 631.5L1766.1 628.6L1767.1 625.8L1768.0 622.9L1768.9 620.1L1769.9 617.3L1770.9 614.4L1771.8 611.6L1772.8 608.7L1773.8 605.9L1774.8 603.1L1775.8 600.3L1776.8 597.4L1777.8 594.6L1778.8 591.8L1779.8 589.0L1780.9 586.2L1781.9 583.3L1783.0 580.5L1784.0 577.7L1785.1 574.9L1786.2 572.1L1787.3 569.3L1788.4 566.5L1789.5 563.7L1790.6 560.9L1791.7 558.2L1792.8 555.4L1794.0 552.6L1795.1 549.8L1796.3 547.0L1797.5 544.3L1798.6 541.5L1799.8 538.7L1801.0 536.0L1802.2 533.2L1803.4 530.4L1804.6 527.7L1805.9 524.9L1807.1 522.2L1808.3 519.4L1809.6 516.7L1810.9 514.0L1812.1 511.2L1813.4 508.5L1814.7 505.8L1816.0 503.0L1817.3 500.3L1818.7 497.6L1820.0 494.9L1821.3 492.2L1822.7 489.5L1824.0 486.8L1825.4 484.1L1826.8 481.4L1828.2 478.7L1829.6 476.0L1831.0 473.3L1832.4 470.6L1833.9 467.9L1835.3 465.3L1836.8 462.6L1838.2 459.9L1839.7 457.3L1841.2 454.6L1842.7 452.0L1844.2 449.4L1845.8 446.7L1847.3 444.1L1848.9 441.5L1850.5 438.9L1852.1 436.4L1853.7 433.8L1855.3 431.2L1856.9 428.7L1858.6 426.2L1860.2 423.6L1861.9 421.1L1863.6 418.6L1865.3 416.2L1867.1 413.7L1868.8 411.2L1870.6 408.8L1872.4 406.4L1874.2 404.0L1876.0 401.6L1877.9 399.2L1879.7 396.9L1881.6 394.5L1883.5 392.2L1885.4 389.9L1887.4 387.7L1889.3 385.4L1891.3 383.2L1893.3 381.0L1895.3 378.8L1897.4 376.6L1899.4 374.5L1901.5 372.3L1903.6 370.2L1905.8 368.2L1907.9 366.1L1910.1 364.1L1912.3 362.1L1914.5 360.1L1916.8 358.2L1919.1 356.2L1921.4 354.4L1923.7 352.5L1926.0 350.6L1928.4 348.8L1930.8 347.0L1933.2 345.3L1935.7 343.6L1938.2 341.9L1940.7 340.2L1943.2 338.6L1945.8 337.0L1948.3 335.5L1950.9 334.0L1953.6 332.5L1956.2 331.1L1958.9 329.7L1961.6 328.4L1964.3 327.2L1967.0 326.0L1969.8 324.8L1972.6 323.7L1975.4 322.7L1978.2 321.7L1981.1 320.7L1983.9 319.9L1986.8 319.1L1989.7 318.4L1992.7 317.7L1995.6 317.1L1998.6 316.6L2001.5 316.2L2004.5 315.8L2007.6 315.5L2010.6 315.3L2013.6 315.2L2016.7 315.2L2019.8 315.2L2022.9 315.3L2026.0 315.6L2029.2 315.9L2032.3 316.3"/>
<path d="M2032.0 308.6L1997.2 308.0L1931.1 329.6L1919.7 340.0L1898.1 359.1L1882.9 371.8"/>
<path d="M1883.0 371.6L1880.9 373.9L1878.8 376.1L1876.7 378.4L1874.6 380.7L1872.5 383.0L1870.5 385.3L1868.5 387.6L1866.5 389.9L1864.5 392.3L1862.6 394.6L1860.6 397.0L1858.7 399.3L1856.8 401.7L1854.9 404.1L1853.1 406.5L1851.2 409.0L1849.4 411.4L1847.6 413.8L1845.8 416.3L1844.0 418.7L1842.2 421.2L1840.5 423.7L1838.7 426.2L1837.0 428.7L1835.3 431.2L1833.6 433.7L1832.0 436.2L1830.3 438.8L1828.7 441.3L1827.1 443.9L1825.5 446.4L1823.9 449.0L1822.3 451.6L1820.7 454.2L1819.2 456.8L1817.6 459.4L1816.1 462.0L1814.6 464.6L1813.1 467.2L1811.6 469.9L1810.2 472.5L1808.7 475.2L1807.3 477.8L1805.8 480.5L1804.4 483.2L1803.0 485.8L1801.6 488.5L1800.3 491.2L1798.9 493.9L1797.5 496.6L1796.2 499.4L1794.9 502.1L1793.5 504.8L1792.2 507.5L1790.9 510.3L1789.6 513.0L1788.4 515.8L1787.1 518.5L1785.8 521.3L1784.6 524.0L1783.3 526.8L1782.1 529.6L1780.9 532.4L1779.7 535.2L1778.5 538.0L1777.3 540.8L1776.1 543.6L1774.9 546.4L1773.8 549.2L1772.6 552.0L1771.4 554.8L1770.3 557.6L1769.2 560.4L1768.0 563.3L1766.9 566.1L1765.8 568.9L1764.7 571.8L1763.6 574.6L1762.5 577.5L1761.4 580.3L1760.3 583.2L1759.3 586.0L1758.2 588.9L1757.1 591.7L1756.1 594.6L1755.0 597.4L1754.0 600.3L1752.9 603.2L1751.9 606.0L1750.9 608.9L1749.8 611.8L1748.8 614.7L1747.8 617.5L1746.8 620.4L1745.8 623.3L1744.8 626.2L1743.8 629.0L1742.8 631.9L1741.8 634.8L1740.8 637.7L1739.8 640.5L1738.8 643.4L1737.8 646.3L1736.8 649.2L1735.8 652.1L1734.8 654.9L1733.9 657.8L1732.9 660.7L1731.9 663.6L1730.9 666.5L1730.0 669.3L1729.0 672.2L1728.0 675.1L1727.0 677.9L1726.1 680.8L1725.1 683.7L1724.1 686.6L1723.2 689.4L1722.2 692.3L1721.2 695.1L1720.2 698.0L1719.3 700.9L1718.3 703.7L1717.3 706.6L1716.3 709.4L1715.4 712.3L1714.4 715.1L1713.4 718.0L1712.4 720.8L1711.4 723.6"/>
<path d="M1779.9 543.5L1778.7 546.3L1777.5 549.1L1776.3 551.9L1775.1 554.7L1773.9 557.5L1772.7 560.3L1771.5 563.1L1770.3 566.0L1769.2 568.8L1768.0 571.6L1766.9 574.4L1765.7 577.3L1764.6 580.1L1763.4 583.0L1762.3 585.8L1761.2 588.6L1760.1 591.5L1759.0 594.3L1757.9 597.2L1756.8 600.1L1755.7 602.9L1754.6 605.8L1753.6 608.6L1752.5 611.5L1751.4 614.4L1750.4 617.2L1749.3 620.1L1748.3 623.0L1747.3 625.9L1746.2 628.7L1745.2 631.6L1744.2 634.5L1743.1 637.4L1742.1 640.3L1741.1 643.1L1740.1 646.0L1739.1 648.9L1738.1 651.8L1737.1 654.7L1736.1 657.6L1735.1 660.5L1734.2 663.4L1733.2 666.3L1732.2 669.2L1731.2 672.1L1730.3 675.0L1729.3 677.9L1728.4 680.8L1727.4 683.7L1726.4 686.6L1725.5 689.5L1724.5 692.4L1723.6 695.3L1722.7 698.2L1721.7 701.1L1720.8 704.0L1719.8 706.9L1718.9 709.9L1718.0 712.8L1717.1 715.7L1716.1 718.6L1715.2 721.5L1714.3 724.4"/>
<path d="M1686.0 755.8L1684.1 758.3L1682.1 760.7L1680.2 763.0L1678.2 765.3L1676.1 767.6L1674.1 769.8L1672.0 772.0L1669.9 774.1L1667.7 776.2L1665.5 778.2L1663.3 780.2L1661.1 782.2L1658.8 784.1L1656.5 786.0L1654.2 787.8L1651.9 789.7L1649.5 791.4L1647.1 793.2L1644.7 794.9L1642.3 796.6L1639.8 798.3L1637.4 799.9L1634.9 801.5L1632.3 803.1L1629.8 804.7L1627.3 806.2L1624.7 807.7L1622.1 809.2L1619.5 810.7L1616.9 812.2L1614.3 813.6L1611.7 815.0L1609.0 816.4L1606.4 817.8L1603.7 819.2L1601.0 820.6L1598.3 821.9L1595.6 823.3L1592.9 824.6L1590.2 825.9L1587.5 827.3L1584.8 828.6L1582.0 829.9L1579.3 831.2L1576.5 832.5L1573.8 833.8L1571.1 835.1L1568.3 836.4L1565.6 837.7L1562.8 839.1L1560.1 840.4L1557.3 841.7L1554.6 843.0L1551.9 844.4L1549.1 845.7L1546.4 847.1L1543.7 848.4L1540.9 849.8L1538.2 851.2L1535.5 852.6L1532.8 854.0L1530.1 855.5L1527.4 856.9L1524.8 858.4L1522.1 859.9L1519.5 861.4L1516.8 863.0L1514.2 864.5L1511.6 866.1L1509.0 867.7L1506.4 869.3L1503.9 871.0L1501.3 872.7L1498.8 874.4L1496.3 876.1L1493.8 877.8L1491.3 879.6L1488.9 881.4L1486.5 883.3L1484.1 885.1L1481.8 887.0L1479.4 888.9L1477.1 890.8L1474.8 892.8L1472.6 894.8L1470.4 896.8L1468.2 898.9L1466.0 901.0L1463.9 903.1L1461.8 905.2L1459.8 907.4L1457.8 909.6L1455.8 911.8L1453.9 914.1L1452.0 916.4L1450.1 918.7L1448.3 921.1L1446.5 923.5L1444.8 925.9L1443.1 928.4L1441.5 930.8L1439.8 933.4L1438.3 935.9L1436.7 938.4L1435.2 941.0L1433.7 943.6L1432.3 946.3L1430.9 948.9L1429.5 951.6L1428.2 954.3L1426.9 957.0L1425.7 959.7L1424.4 962.4L1423.2 965.2L1422.1 967.9L1420.9 970.7L1419.8 973.5L1418.8 976.3L1417.7 979.1L1416.7 982.0L1415.8 984.8L1414.8 987.7L1413.9 990.5L1413.0 993.4L1412.1 996.2L1411.3 999.1L1410.5 1002.0L1409.7 1004.9L1409.0 1007.8L1408.2 1010.7L1407.5 1013.6L1406.9 1016.5L1406.2 1019.4L1405.6 1022.3L1404.9 1025.3L1404.4 1028.2L1403.8 1031.1L1403.2 1034.1L1402.7 1037.0L1402.2 1040.0L1401.7 1043.0L1401.2 1045.9L1400.8 1048.9L1400.3 1051.9L1399.9 1054.8L1399.5 1057.8L1399.1 1060.8L1398.7 1063.8L1398.3 1066.8L1398.0 1069.8L1397.6 1072.8L1397.3 1075.8L1397.0 1078.8L1396.7 1081.8L1396.4 1084.8L1396.1 1087.8L1395.8 1090.8L1395.5 1093.8L1395.2 1096.9L1395.0 1099.9L1394.7 1102.9L1394.5 1105.9L1394.2 1109.0L1394.0 1112.0L1393.8 1115.0L1393.5 1118.0L1393.3 1121.1L1393.1 1124.1L1392.9 1127.1L1392.6 1130.2L1392.4 1133.2L1392.2 1136.2L1392.0 1139.3L1391.8 1142.3L1391.5 1145.3L1391.3 1148.3L1391.1 1151.4L1390.8 1154.4L1390.6 1157.4L1390.3 1160.4L1390.1 1163.5L1389.8 1166.5L1389.6 1169.5L1389.3 1172.5L1389.0 1175.6L1388.7 1178.6L1388.4 1181.6L1388.1 1184.6L1387.8 1187.6L1387.5 1190.6L1387.1 1193.6L1386.8 1196.6L1386.4 1199.6L1386.0 1202.6L1385.7 1205.6L1385.3 1208.6L1384.9 1211.6L1384.5 1214.5L1384.0 1217.5L1383.6 1220.5L1383.2 1223.5L1382.7 1226.5L1382.3 1229.4L1381.8 1232.4L1381.4 1235.4L1380.9 1238.4L1380.5 1241.3L1380.0 1244.3L1379.5 1247.3L1379.0 1250.2L1378.5 1253.2L1378.1 1256.2L1377.6 1259.1L1377.1 1262.1L1376.6 1265.0L1376.1 1268.0L1375.6 1271.0L1375.1 1273.9L1374.6 1276.9L1374.2 1279.8L1373.7 1282.8L1373.2 1285.8L1372.7 1288.7L1372.2 1291.7L1371.8 1294.6L1371.3 1297.6L1370.8 1300.6L1370.3 1303.5L1369.9 1306.5L1369.4 1309.5L1369.0 1312.4L1368.5 1315.4L1368.1 1318.4L1367.7 1321.3L1367.3 1324.3L1366.9 1327.3L1366.5 1330.2L1366.1 1333.2L1365.7 1336.2L1365.3 1339.2L1364.9 1342.2L1364.6 1345.1L1364.2 1348.1L1363.9 1351.1L1363.6 1354.1L1363.3 1357.1L1363.0 1360.1L1362.7 1363.1L1362.4 1366.1L1362.2 1369.1L1362.0 1372.1L1361.7 1375.1L1361.5 1378.1L1361.3 1381.1L1361.1 1384.1L1361.0 1387.2L1360.8 1390.2L1360.7 1393.2L1360.5 1396.2L1360.4 1399.3L1360.3 1402.3L1360.1 1405.3L1360.0 1408.3L1359.9 1411.4L1359.8 1414.4L1359.6 1417.4L1359.5 1420.5L1359.4 1423.5L1359.2 1426.5L1359.1 1429.5L1358.9 1432.6L1358.7 1435.6L1358.5 1438.6L1358.3 1441.6L1358.1 1444.6L1357.9 1447.6L1357.6 1450.6L1357.4 1453.6L1357.1 1456.7L1356.8 1459.6L1356.4 1462.6L1356.1 1465.6L1355.7 1468.6L1355.2 1471.6L1354.8 1474.6L1354.3 1477.5L1353.8 1480.5L1353.3 1483.5L1352.7 1486.4L1352.1 1489.4L1351.4 1492.3L1350.7 1495.2L1350.0 1498.2L1349.2 1501.1L1348.4 1504.0"/>
</g><g fill="none" stroke="#000" stroke-width="3.2" stroke-dasharray="13 6.2">
<path d="M1604.8 1503.8L1604.2 1500.9L1603.5 1498.0L1602.9 1495.1L1602.2 1492.1L1601.6 1489.2L1600.9 1486.3L1600.3 1483.4L1599.6 1480.4L1599.0 1477.5L1598.3 1474.5L1597.7 1471.6L1597.0 1468.7L1596.4 1465.7L1595.8 1462.8L1595.1 1459.8L1594.5 1456.9L1593.9 1453.9L1593.3 1451.0L1592.7 1448.0L1592.1 1445.1L1591.6 1442.1L1591.0 1439.2L1590.4 1436.2L1589.9 1433.3L1589.3 1430.3L1588.8 1427.3L1588.3 1424.4L1587.8 1421.4L1587.3 1418.4L1586.8 1415.5L1586.4 1412.5L1585.9 1409.5L1585.5 1406.5L1585.1 1403.6L1584.7 1400.6L1584.3 1397.6L1584.0 1394.6L1583.6 1391.6L1583.3 1388.6L1583.0 1385.7L1582.7 1382.7L1582.5 1379.7L1582.3 1376.7L1582.0 1373.7L1581.9 1370.7L1581.7 1367.7L1581.5 1364.7L1581.4 1361.7L1581.3 1358.7L1581.3 1355.7L1581.2 1352.7L1581.2 1349.7L1581.2 1346.7L1581.3 1343.7L1581.3 1340.7L1581.4 1337.7L1581.6 1334.6L1581.7 1331.6L1581.9 1328.6L1582.1 1325.6L1582.4 1322.6L1582.7 1319.5L1583.0 1316.5L1583.4 1313.5L1583.7 1310.5L1584.2 1307.4L1584.6 1304.4L1585.1 1301.4L1585.7 1298.3L1586.3 1295.3L1586.9 1292.4L1587.7 1289.4L1588.5 1286.5L1589.4 1283.6L1590.4 1280.8L1591.5 1278.0L1592.7 1275.3L1594.0 1272.6L1595.5 1270.0L1597.1 1267.5L1598.8 1265.1L1600.7 1262.8L1602.7 1260.6L1604.8 1258.4L1607.0 1256.3L1609.2 1254.2L1611.5 1252.2L1613.9 1250.1L1616.2 1248.1L1618.6 1246.1L1620.9 1244.1L1623.2 1242.0L1625.4 1239.9L1627.6 1237.8L1629.7 1235.6L1631.6 1233.3L1633.4 1231.0L1635.1 1228.7L1636.6 1226.2L1637.9 1223.6L1639.1 1221.0L1640.0 1218.2L1640.8 1215.4L1641.4 1212.5L1642.0 1209.6L1642.5 1206.7L1642.9 1203.7L1643.4 1200.8L1643.9 1197.8L1644.3 1194.8L1644.8 1191.9L1645.2 1188.9L1645.7 1186.0L1646.1 1183.0L1646.5 1180.0L1646.9 1177.1L1647.3 1174.1L1647.7 1171.1L1648.1 1168.2L1648.5 1165.2L1648.9 1162.2L1649.3 1159.2L1649.6 1156.3L1650.0 1153.3L1650.3 1150.3L1650.7 1147.3L1651.0 1144.4L1651.4 1141.4L1651.7 1138.4L1652.0 1135.4L1652.4 1132.4L1652.7 1129.4L1653.0 1126.4L1653.3 1123.5L1653.6 1120.5L1653.9 1117.5L1654.2 1114.5L1654.5 1111.5L1654.8 1108.5L1655.0 1105.5L1655.3 1102.5L1655.6 1099.5L1655.9 1096.5L1656.1 1093.5L1656.4 1090.5L1656.7 1087.6L1656.9 1084.6L1657.2 1081.6L1657.4 1078.6L1657.7 1075.6L1657.9 1072.6L1658.2 1069.6L1658.4 1066.6L1658.7 1063.6L1658.9 1060.6L1659.2 1057.6L1659.4 1054.5L1659.6 1051.5L1659.9 1048.5L1660.1 1045.5L1660.3 1042.5L1660.6 1039.5L1660.8 1036.5L1661.0 1033.5L1661.3 1030.5L1661.5 1027.5L1661.7 1024.5L1662.0 1021.5L1662.2 1018.5L1662.4 1015.5L1662.7 1012.5L1662.9 1009.5L1663.2 1006.5L1663.4 1003.5L1663.6 1000.5L1663.9 997.5L1664.1 994.5L1664.4 991.4L1664.6 988.4L1664.8 985.4L1665.1 982.4L1665.3 979.4L1665.6 976.4L1665.8 973.4L1666.1 970.4L1666.4 967.4L1666.6 964.4L1666.9 961.4L1667.2 958.4L1667.4 955.4L1667.7 952.4L1668.0 949.4L1668.3 946.4L1668.6 943.4L1668.9 940.4L1669.1 937.4L1669.4 934.4L1669.8 931.4L1670.1 928.4L1670.4 925.4L1670.7 922.4L1671.0 919.4L1671.3 916.4L1671.7 913.4L1672.0 910.4L1672.3 907.4L1672.7 904.4L1673.0 901.4L1673.4 898.5L1673.7 895.5L1674.1 892.5L1674.5 889.5L1674.8 886.5L1675.2 883.5L1675.6 880.5L1676.0 877.5L1676.4 874.5L1676.8 871.6L1677.2 868.6L1677.5 865.6L1678.0 862.6L1678.4 859.6L1678.8 856.6L1679.2 853.6L1679.6 850.7L1680.0 847.7L1680.4 844.7L1680.9 841.7L1681.3 838.7L1681.7 835.7L1682.2 832.8L1682.6 829.8L1683.1 826.8L1683.5 823.8L1684.0 820.9L1684.4 817.9L1684.9 814.9L1685.3 811.9L1685.8 808.9L1686.3 806.0L1686.8 803.0L1687.2 800.0L1687.7 797.0L1688.2 794.1L1688.7 791.1L1689.2 788.1L1689.7 785.1L1690.1 782.2L1690.6 779.2L1691.1 776.2L1691.6 773.3L1692.2 770.3L1692.7 767.3L1693.2 764.4L1693.7 761.4L1694.2 758.4L1694.7 755.4L1695.2 752.5L1695.8 749.5L1696.3 746.5L1696.8 743.6L1697.4 740.6L1697.9 737.7L1698.5 734.7L1699.0 731.7L1699.6 728.8L1700.1 725.8L1700.7 722.8L1701.2 719.9L1701.8 716.9L1702.4 714.0L1703.0 711.0L1703.5 708.1L1704.1 705.1L1704.7 702.1L1705.3 699.2L1705.9 696.2L1706.5 693.3L1707.1 690.3L1707.7 687.4L1708.3 684.4L1708.9 681.5L1709.5 678.6L1710.2 675.6L1710.8 672.7L1711.4 669.7L1712.1 666.8L1712.7 663.9L1713.4 660.9L1714.0 658.0L1714.7 655.0L1715.4 652.1L1716.0 649.2L1716.7 646.2L1717.4 643.3L1718.1 640.4L1718.8 637.5L1719.4 634.5L1720.1 631.6L1720.9 628.7L1721.6 625.8L1722.3 622.9L1723.0 619.9L1723.7 617.0L1724.5 614.1L1725.2 611.2L1726.0 608.3L1726.7 605.4L1727.5 602.5L1728.2 599.6L1729.0 596.7L1729.8 593.8L1730.6 590.9L1731.3 588.0L1732.1 585.1L1732.9 582.2L1733.7 579.3L1734.6 576.4L1735.4 573.5L1736.2 570.6L1737.0 567.8L1737.9 564.9L1738.7 562.0L1739.6 559.1L1740.4 556.2L1741.3 553.4L1742.2 550.5L1743.0 547.6L1743.9 544.8L1744.8 541.9L1745.7 539.0L1746.6 536.2L1747.5 533.3L1748.5 530.5L1749.4 527.6L1750.3 524.8L1751.3 521.9L1752.2 519.1L1753.2 516.2L1754.1 513.4L1755.1 510.6L1756.1 507.7L1757.1 504.9L1758.1 502.1L1759.1 499.2L1760.1 496.4L1761.1 493.6L1762.1 490.8L1763.2 488.0L1764.2 485.1L1765.3 482.3L1766.3 479.5L1767.4 476.7L1768.5 473.9L1769.5 471.1L1770.6 468.3L1771.7 465.5L1772.8 462.7L1774.0 460.0L1775.1 457.2L1776.2 454.4L1777.4 451.6L1778.5 448.8L1779.7 446.1L1780.9 443.3L1782.0 440.5L1783.2 437.8L1784.4 435.0L1785.6 432.2L1786.8 429.5L1788.1 426.7L1789.3 424.0L1790.5 421.3L1791.8 418.5L1793.0 415.8L1794.3 413.0L1795.6 410.3L1796.9 407.6L1798.2 404.9L1799.5 402.1L1800.8 399.4L1802.1 396.7L1803.5 394.0L1804.8 391.3L1806.2 388.6L1807.5 385.9L1808.9 383.2L1810.3 380.5L1811.7 377.8L1813.1 375.1L1814.5 372.4L1815.9 369.8L1817.4 367.1L1818.8 364.4L1820.3 361.8L1821.7 359.1L1823.2 356.4L1824.7 353.8L1826.2 351.1L1827.7 348.5L1829.2 345.9L1830.8 343.2L1832.3 340.6L1833.9 338.0L1835.5 335.4L1837.0 332.8L1838.6 330.2L1840.2 327.6L1841.9 325.0L1843.5 322.5L1845.1 319.9L1846.8 317.4L1848.5 314.8L1850.1 312.3L1851.8 309.8L1853.5 307.3L1855.3 304.8L1857.0 302.3L1858.8 299.9L1860.5 297.4L1862.3 295.0L1864.1 292.5L1865.9 290.1L1867.7 287.7L1869.6 285.3L1871.4 282.9L1873.3 280.6L1875.2 278.2L1877.1 275.9L1879.0 273.6L1880.9 271.3L1882.9 269.0L1884.8 266.8L1886.8 264.5L1888.8 262.3L1890.8 260.1L1892.9 257.9L1894.9 255.7L1897.0 253.6L1899.1 251.4L1901.2 249.3L1903.3 247.2L1905.4 245.2L1907.6 243.1L1909.7 241.1L1911.9 239.1L1914.1 237.1L1916.3 235.1L1918.6 233.2L1920.8 231.3L1923.1 229.4L1925.4 227.5L1927.7 225.6L1930.1 223.8L1932.4 222.0L1934.8 220.2L1937.2 218.5L1939.6 216.8L1942.1 215.1L1944.5 213.4L1947.0 211.8L1949.5 210.1L1952.0 208.6L1954.5 207.0L1957.1 205.5L1959.7 203.9L1962.3 202.5L1964.9 201.0L1967.5 199.6L1970.2 198.2L1972.9 196.9L1975.6 195.5L1978.3 194.2L1981.1 193.0L1983.9 191.7L1986.7 190.5L1989.5 189.3L1992.3 188.2L1995.2 187.1L1998.1 186.0L2001.0 185.0L2004.0 184.0L2006.9 183.0L2009.9 182.1"/>
<path d="M2010.7 181.8L2007.6 182.6L2004.5 183.5L2001.5 184.4L1998.5 185.3L1995.4 186.2L1992.5 187.2L1989.5 188.2L1986.5 189.3L1983.6 190.3L1980.7 191.4L1977.8 192.6L1975.0 193.7L1972.1 194.9L1969.3 196.1L1966.5 197.4L1963.7 198.6L1960.9 199.9L1958.2 201.2L1955.5 202.6L1952.8 204.0L1950.1 205.4L1947.4 206.8L1944.8 208.3L1942.2 209.7L1939.6 211.2L1937.0 212.8L1934.4 214.3L1931.9 215.9L1929.3 217.5L1926.8 219.1L1924.3 220.8L1921.9 222.5L1919.4 224.2L1917.0 225.9L1914.6 227.6L1912.2 229.4L1909.8 231.2L1907.4 233.0L1905.1 234.8L1902.8 236.7L1900.5 238.5L1898.2 240.4L1895.9 242.3L1893.7 244.3L1891.4 246.2L1889.2 248.2L1887.0 250.2L1884.8 252.2L1882.6 254.3L1880.5 256.3L1878.4 258.4L1876.2 260.5L1874.1 262.6L1872.1 264.7L1870.0 266.8L1867.9 269.0L1865.9 271.2L1863.9 273.4L1861.9 275.6L1859.9 277.8L1857.9 280.0L1856.0 282.3L1854.0 284.6L1852.1 286.8L1850.2 289.2L1848.3 291.5L1846.4 293.8L1844.6 296.1L1842.7 298.5L1840.9 300.9L1839.1 303.3L1837.3 305.7L1835.5 308.1L1833.7 310.5L1831.9 312.9L1830.2 315.4L1828.5 317.8L1826.7 320.3L1825.0 322.8L1823.3 325.3L1821.7 327.8L1820.0 330.3L1818.3 332.8L1816.7 335.4L1815.1 337.9L1813.5 340.5L1811.9 343.0L1810.3 345.6L1808.7 348.2L1807.2 350.8L1805.6 353.4L1804.1 356.0L1802.6 358.6L1801.1 361.2L1799.6 363.8L1798.1 366.5L1796.6 369.1L1795.2 371.7L1793.7 374.4L1792.3 377.0L1790.8 379.7L1789.4 382.4L1788.0 385.1L1786.6 387.7L1785.3 390.4L1783.9 393.1L1782.5 395.8L1781.2 398.5L1779.9 401.3L1778.5 404.0L1777.2 406.7L1775.9 409.4L1774.6 412.2L1773.3 414.9L1772.1 417.6L1770.8 420.4L1769.5 423.1L1768.3 425.9L1767.1 428.7L1765.8 431.4L1764.6 434.2L1763.4 437.0L1762.2 439.8L1761.0 442.6L1759.8 445.3L1758.7 448.1L1757.5 450.9L1756.3 453.7L1755.2 456.5L1754.1 459.4L1752.9 462.2L1751.8 465.0L1750.7 467.8L1749.6 470.6L1748.5 473.5L1747.4 476.3L1746.3 479.1L1745.2 482.0L1744.1 484.8L1743.1 487.6L1742.0 490.5L1741.0 493.3L1739.9 496.2L1738.9 499.0L1737.8 501.9L1736.8 504.7L1735.8 507.6L1734.8 510.5L1733.8 513.3L1732.8 516.2L1731.8 519.1L1730.8 521.9L1729.8 524.8L1728.8 527.7L1727.8 530.6L1726.8 533.4L1725.9 536.3L1724.9 539.2L1724.0 542.1L1723.0 544.9L1722.1 547.8L1721.1 550.7L1720.2 553.6L1719.2 556.5L1718.3 559.4L1717.4 562.3L1716.4 565.1L1715.5 568.0L1714.6 570.9L1713.7 573.8L1712.8 576.7L1711.9 579.6L1710.9 582.5L1710.0 585.4L1709.1 588.2L1708.2 591.1L1707.3 594.0L1706.4 596.9L1705.6 599.8L1704.7 602.7L1703.8 605.6L1702.9 608.4L1702.0 611.3L1701.1 614.2L1700.2 617.1L1699.3 620.0L1698.5 622.8L1697.6 625.7L1696.7 628.6L1695.8 631.5L1695.0 634.3L1694.1 637.2L1693.2 640.1L1692.3 642.9L1691.5 645.8L1690.6 648.7L1689.7 651.5L1688.8 654.4L1687.9 657.2L1687.1 660.1L1686.2 662.9L1685.3 665.8L1684.4 668.6L1683.6 671.5L1682.7 674.3L1681.8 677.2L1680.9 680.0L1680.0 682.8L1679.1 685.7L1678.3 688.5L1677.4 691.3L1676.5 694.1L1675.6 696.9L1674.7 699.7L1673.8 702.6L1672.9 705.4L1672.0 708.2L1671.1 711.0L1670.2 713.7L1669.3 716.5"/>
<path d="M1727.6 526.0L1727.0 529.0L1726.4 532.1L1725.7 535.1L1725.1 538.1L1724.4 541.1L1723.8 544.2L1723.1 547.2L1722.4 550.2L1721.7 553.2L1721.0 556.2L1720.2 559.2L1719.5 562.2L1718.7 565.1L1717.9 568.1L1717.2 571.1L1716.4 574.1L1715.6 577.1L1714.8 580.1L1713.9 583.0L1713.1 586.0L1712.3 589.0L1711.4 591.9L1710.6 594.9L1709.7 597.9L1708.8 600.8L1707.9 603.8L1707.1 606.7L1706.2 609.7L1705.3 612.6L1704.4 615.6L1703.5 618.6L1702.6 621.5L1701.7 624.5L1700.7 627.4L1699.8 630.3L1698.9 633.3L1698.0 636.2L1697.1 639.2L1696.1 642.1L1695.2 645.1L1694.3 648.0L1693.4 651.0L1692.4 653.9L1691.5 656.9L1690.6 659.8L1689.7 662.8L1688.7 665.7L1687.8 668.7L1686.9 671.6L1686.0 674.6L1685.1 677.5L1684.2 680.5L1683.3 683.4L1682.4 686.4L1681.5 689.3L1680.6 692.3L1679.8 695.2L1678.9 698.2L1678.0 701.2L1677.2 704.1L1676.4 707.1L1675.5 710.0L1674.7 713.0L1673.9 716.0L1673.1 719.0L1672.3 721.9" stroke-dashoffset="9"/>
<path d="M1648.2 728.6L1646.5 731.1L1644.7 733.6L1642.9 736.0L1641.0 738.4L1639.1 740.7L1637.2 743.0L1635.2 745.3L1633.2 747.5L1631.2 749.6L1629.1 751.8L1627.0 753.9L1624.8 755.9L1622.7 757.9L1620.5 759.9L1618.2 761.9L1616.0 763.8L1613.7 765.7L1611.3 767.5L1609.0 769.4L1606.6 771.2L1604.2 772.9L1601.8 774.7L1599.4 776.4L1596.9 778.1L1594.5 779.8L1592.0 781.5L1589.5 783.1L1586.9 784.7L1584.4 786.3L1581.8 787.9L1579.3 789.5L1576.7 791.1L1574.1 792.6L1571.5 794.2L1568.9 795.7L1566.3 797.3L1563.6 798.8L1561.0 800.3L1558.3 801.8L1555.7 803.3L1553.1 804.8L1550.4 806.3L1547.7 807.8L1545.1 809.3L1542.4 810.8L1539.8 812.3L1537.1 813.9L1534.5 815.4L1531.8 816.9L1529.2 818.4L1526.6 820.0L1524.0 821.5L1521.4 823.1L1518.7 824.7L1516.2 826.3L1513.6 827.9L1511.0 829.5L1508.5 831.2L1505.9 832.8L1503.4 834.5L1500.9 836.2L1498.4 838.0L1495.9 839.7L1493.5 841.5L1491.0 843.3L1488.6 845.1L1486.2 847.0L1483.9 848.9L1481.5 850.8L1479.2 852.7L1476.9 854.7L1474.7 856.6L1472.4 858.6L1470.2 860.7L1468.0 862.7L1465.9 864.8L1463.7 867.0L1461.7 869.1L1459.6 871.3L1457.6 873.5L1455.6 875.7L1453.6 877.9L1451.7 880.2L1449.8 882.5L1448.0 884.9L1446.2 887.2L1444.4 889.6L1442.7 892.0L1441.0 894.5L1439.3 896.9L1437.7 899.4L1436.1 901.9L1434.6 904.5L1433.1 907.1L1431.7 909.7L1430.3 912.3L1428.9 914.9L1427.6 917.6L1426.3 920.3L1425.0 923.0L1423.8 925.7L1422.6 928.5L1421.5 931.2L1420.4 934.0L1419.3 936.8L1418.3 939.6L1417.2 942.4L1416.2 945.3L1415.3 948.1L1414.4 950.9L1413.5 953.8L1412.6 956.6L1411.7 959.5L1410.9 962.4L1410.1 965.3L1409.4 968.2L1408.6 971.0L1407.9 973.9L1407.2 976.9L1406.5 979.8L1405.9 982.7L1405.2 985.6L1404.6 988.5L1404.1 991.5L1403.5 994.4L1402.9 997.4L1402.4 1000.3L1401.9 1003.3L1401.4 1006.3L1401.0 1009.2L1400.5 1012.2L1400.1 1015.2L1399.6 1018.2L1399.2 1021.1L1398.9 1024.1L1398.5 1027.1L1398.1 1030.1L1397.8 1033.1L1397.4 1036.1L1397.1 1039.1L1396.8 1042.1L1396.5 1045.2L1396.2 1048.2L1395.9 1051.2L1395.7 1054.2L1395.4 1057.2L1395.2 1060.3L1394.9 1063.3L1394.7 1066.3L1394.5 1069.4L1394.2 1072.4L1394.0 1075.4L1393.8 1078.5L1393.6 1081.5L1393.4 1084.5L1393.2 1087.6L1393.0 1090.6L1392.8 1093.7L1392.7 1096.7L1392.5 1099.8L1392.3 1102.8L1392.1 1105.8L1391.9 1108.9L1391.7 1111.9L1391.5 1115.0L1391.4 1118.0L1391.2 1121.1L1391.0 1124.1L1390.8 1127.1L1390.6 1130.2L1390.4 1133.2L1390.2 1136.2L1389.9 1139.3L1389.7 1142.3L1389.5 1145.3L1389.3 1148.4L1389.0 1151.4L1388.8 1154.4L1388.5 1157.4L1388.3 1160.5L1388.0 1163.5L1387.7 1166.5L1387.4 1169.5L1387.1 1172.5L1386.8 1175.5L1386.5 1178.5L1386.1 1181.5L1385.8 1184.5L1385.4 1187.5L1385.1 1190.5L1384.7 1193.5L1384.3 1196.5L1384.0 1199.5L1383.6 1202.5L1383.2 1205.4L1382.8 1208.4L1382.4 1211.4L1382.0 1214.4L1381.6 1217.3L1381.2 1220.3L1380.7 1223.3L1380.3 1226.3L1379.9 1229.2L1379.4 1232.2L1379.0 1235.2L1378.6 1238.1L1378.1 1241.1L1377.7 1244.1L1377.3 1247.0L1376.8 1250.0L1376.4 1253.0L1375.9 1255.9L1375.5 1258.9L1375.0 1261.9L1374.6 1264.8L1374.1 1267.8L1373.7 1270.8L1373.2 1273.7L1372.8 1276.7L1372.3 1279.6L1371.9 1282.6L1371.5 1285.6L1371.0 1288.5L1370.6 1291.5L1370.2 1294.5L1369.7 1297.4L1369.3 1300.4L1368.9 1303.4L1368.5 1306.3L1368.1 1309.3L1367.7 1312.3L1367.3 1315.2L1366.9 1318.2L1366.5 1321.2L1366.1 1324.2L1365.7 1327.1L1365.3 1330.1L1365.0 1333.1L1364.6 1336.1L1364.3 1339.1L1363.9 1342.0L1363.6 1345.0L1363.3 1348.0L1363.0 1351.0L1362.7 1354.0L1362.4 1357.0L1362.1 1360.0L1361.8 1363.0L1361.6 1366.0L1361.3 1369.0L1361.1 1372.0L1360.8 1375.0L1360.6 1378.0L1360.4 1381.1L1360.2 1384.1L1360.0 1387.1L1359.8 1390.1L1359.7 1393.1L1359.5 1396.2L1359.3 1399.2L1359.2 1402.2L1359.0 1405.3L1358.9 1408.3L1358.7 1411.3L1358.5 1414.3L1358.4 1417.4L1358.2 1420.4L1358.0 1423.4L1357.9 1426.5L1357.7 1429.5L1357.5 1432.5L1357.3 1435.5L1357.1 1438.6L1356.9 1441.6L1356.7 1444.6L1356.4 1447.6L1356.2 1450.6L1355.9 1453.6L1355.6 1456.6L1355.3 1459.6L1355.0 1462.6L1354.6 1465.6L1354.2 1468.6L1353.9 1471.6L1353.4 1474.6L1353.0 1477.5L1352.5 1480.5L1352.1 1483.5L1351.5 1486.4L1351.0 1489.4L1350.4 1492.3L1349.8 1495.3L1349.2 1498.2L1348.5 1501.1L1347.8 1504.0"/>
</g>
</g>
<rect x="1331.2" y="9.8" width="697.0" height="1492.4" fill="none" stroke="#000" stroke-width="1.9"/>
<path stroke="#000" stroke-width="1.9" fill="none" d="M1331.2 1502.2v8.5M1418.3 1502.2v8.5M1505.5 1502.2v8.5M1592.6 1502.2v8.5M1679.7 1502.2v8.5M1766.8 1502.2v8.5M1854.0 1502.2v8.5M1941.1 1502.2v8.5M2028.2 1502.2v8.5M1331.2 9.8h-8.5M1331.2 175.6h-8.5M1331.2 341.4h-8.5M1331.2 507.3h-8.5M1331.2 673.1h-8.5M1331.2 838.9h-8.5M1331.2 1004.7h-8.5M1331.2 1170.6h-8.5M1331.2 1336.4h-8.5M1331.2 1502.2h-8.5"/>
<g font-size="25" fill="#000" text-anchor="middle">
<text x="1331.2" y="1539.2">−1.0</text>
<text x="1418.3" y="1539.2">−0.5</text>
<text x="1505.5" y="1539.2">0.0</text>
<text x="1592.6" y="1539.2">0.5</text>
<text x="1679.7" y="1539.2">1.0</text>
<text x="1766.8" y="1539.2">1.5</text>
<text x="1854.0" y="1539.2">2.0</text>
<text x="1941.1" y="1539.2">2.5</text>
<text x="2028.2" y="1539.2">3.0</text>
</g><g font-size="25" fill="#000" text-anchor="end">
<text x="1314.5" y="20.2">10</text>
<text x="1314.5" y="186.0">11</text>
<text x="1314.5" y="351.8">12</text>
<text x="1314.5" y="517.7">13</text>
<text x="1314.5" y="683.5">14</text>
<text x="1314.5" y="849.3">15</text>
<text x="1314.5" y="1015.1">16</text>
<text x="1314.5" y="1181.0">17</text>
<text x="1314.5" y="1346.8">18</text>
<text x="1314.5" y="1512.6">19</text>
</g>
<g fill="#000" font-size="44"><text x="1605.2" y="1588.8">(</text><text x="1622.7" y="1588.8" font-style="italic">g</text><text x="1659.7" y="1588.8">−</text><text x="1705.9" y="1588.8" font-style="italic">i</text><text x="1719.4" y="1588.8">)</text><text x="1737" y="1595.8" font-size="30.8">0</text></g>
<g fill="#000" font-size="44" transform="translate(1263 771) rotate(-90)"><text x="0" y="0" font-style="italic">i</text><text x="12.5" y="6.6" font-size="30.8">0</text></g>
<rect x="1352.5" y="28" width="504" height="117.5" rx="6" fill="#fff" fill-opacity="0.8" stroke="#cccccc" stroke-width="2"/>
<line x1="1364.8" y1="57.6" x2="1440.6" y2="57.6" stroke="#000" stroke-width="3.3"/>
<line x1="1367" y1="110" x2="1440.6" y2="110" stroke="#000" stroke-width="3.3" stroke-dasharray="13.2 6.6"/>
<g font-size="36" fill="#000"><text x="1468" y="70.3">[Fe/H] = -0.2, 10 Gyr</text><text x="1468" y="123.8">[Fe/H] = -0.7, 12 Gyr</text></g>
</svg>
</body></html>
